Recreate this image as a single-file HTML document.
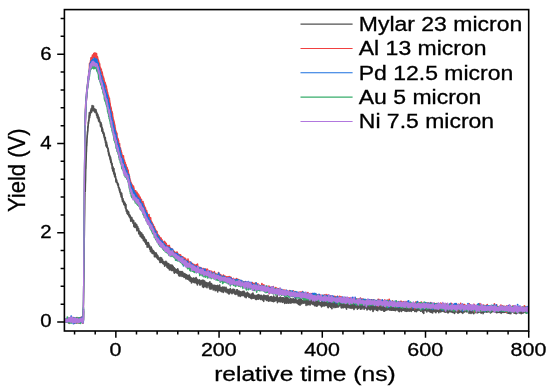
<!DOCTYPE html>
<html><head><meta charset="utf-8"><title>Yield vs relative time</title>
<style>html,body{margin:0;padding:0;background:#fff}svg{display:block}</style></head>
<body>
<svg width="550" height="392" viewBox="0 0 550 392" font-family="'Liberation Sans', sans-serif" fill="#000" stroke="#000" stroke-width="0.3">
<rect width="550" height="392" fill="#fff" stroke="none"/>
<clipPath id="c"><rect x="64.4" y="9.6" width="464.3" height="321.4"/></clipPath>
<g clip-path="url(#c)" fill="none" stroke-width="1.7" stroke-linejoin="round">
<path stroke="#515151" stroke-width="1.25" d="M83.4 311.2l.1-4.3 .1-7.2 .1-8.7 .1-6.2 .1-6.8 .1-6.9 .1-7.0 .1-9.1 .1-5.0 .1-11.1 .1-4.8 .1-7.8 .1-6.7 .1-5.4 .1-6.9 .1-9.2 .1-5.9"/>
<path stroke="#515151" d="M64.4 320.4l.1 .4 .1-.8 .1-.8 .1 .6 .1-.7 .1 1.4 .1 1.4 .1-2.1 .1-.2 .1 1.4 .1-.1 .1-.4 .1-1.3 .1 1.2 .1 .9 .1-2.4 .1 .9 .1-.9 .1 0 .1 0 .1 1.2 .1-1.2 .1 1.9 .1-.2 .1-.4 .1-1.3 .1 .8 .1 .6 .1 .2 .1-2.1 .1 1.4 .1-.7 .1 .2 .1 2.5 .1-2.4 .1 1.0 .1 1.1 .1-1.9 .1 .7 .1 .2 .1 0 .1-1.7 .1 1.7 .1 1.7 .1-3.8 .1 3.1 .1-.9 .1-1.0 .1 3.4 .1-1.6 .1-2.6 .1 1.7 .1 .6 .1-.9 .1 1.1 .1-1.0 .1 1.0 .1 1.0 .1-2.8 .1 1.2 .1-.9 .1 .8 .1-1.7 .1 .7 .1 .5 .1 1.5 .1 .3 .1-3.2 .1 .7 .1 1.8 .1-3.4 .1 2.0 .1 .5 .1 1.7 .1-.7 .1-1.3 .1-.1 .1 .2 .1 2.3 .1-2.6 .1 .2 .1 .9 .1-.7 .1-.1 .1-1.1 .1 1.4 .1-.6 .1 2.1 .1-.7 .1-.8 .1 .9 .1-1.3 .1 1.8 .1-1.4 .1 .8 .1-2.5 .1 2.2 .1-2.7 .1-.4 .1 2.2 .1-.8 .1 1.4 .1 2.7 .1-4.0 .1 .3 .1 1.1 .1 .3 .1-.8 .1-.1 .1 1.2 .1-.2 .1-2.0 .1 1.2 .1 .1 .1-1.4 .1 1.7 .1-1.4 .1 2.4 .1-1.0 .1-.2 .1-.9 .1 .6 .1-2.4 .1 1.1 .1 2.0 .1-3.3 .1 3.9 .1-3.4 .1 3.3 .1-2.1 .1 2.1 .1-.8 .1-2.2 .1 3.6 .1 .3 .1-2.0 .1-.3 .1 .2 .1-1.1 .1 2.7 .1-2.1 .1 .6 .1-.9 .1 .2 .1-.9 .1 3.3 .1-1.8 .1 1.5 .1-1.3 .1-.9 .1 .5 .1-.3 .1 .7 .1-.5 .1 .1 .1-1.4 .1 .8 .1 3.2 .1-3.1 .1-.5 .1 1.8 .1 1.4 .1-3.7 .1 1.6 .1-.5 .1-1.5 .1 3.3 .1-1.0 .1 .1 .1-1.1 .1 1.6 .1-1.3 .1 .5 .1-1.2 .1-.2 .1 3.3 .1-2.4 .1 1.1 .1-.4 .1-.6 .1-.1 .1 1.5 .1-1.2 .1 .2 .1 .2 .1 1.5 .1-.6 .1-.4 .1-1.2 .1-8.5"/>
<path stroke="#515151" d="M85.1 192.2l.1-1.1 .1-6.4 .1-2.5 .1-2.6 .1-6.7 .1-4.0 .1-.2 .1-3.4 .1-3.4 .1-2.5 .1-3.8 .1-3.5 .1-.6 .1-3.4 .1-3.0 .1 .8 .1-2.6 .1-1.2 .1-3.4 .1-1.1 .1-1.9 .1-1.2 .1 0 .1-2.6 .1 .2 .1-1.2 .1 1.0 .1-5.6 .1 1.9 .1-2.3 .1-.9 .1-2.7 .1 .4 .1 .7 .1-1.9 .1-.5 .1-1.2 .1 1.3 .1-2.1 .1-3.4 .1 1.4 .1-2.2 .1-2.2 .1 3.1 .1 1.9 .1-2.1 .1-2.0 .1-.2 .1 2.3 .1-1.6 .1-.6 .1-.5 .1-.2 .1 .7 .1-.6 .1-.8 .1-1.9 .1 1.8 .1-1.8 .1 2.1 .1-3.3 .1 1.3 .1 0 .1-1.9 .1 3.8 .1-.5 .1-2.7 .1 1.5 .1-.7 .1-4.0 .1 3.6 .1-.5 .1 0 .1-1.6 .1 1.0 .1 .1 .1 1.7 .1-1.2 .1-.4 .1 2.0 .1-2.7 .1 .3 .1-1.9 .1 4.5 .1-.7 .1 0 .1-.2 .1-.6 .1 .2 .1-.5 .1 .2 .1 .4 .1 2.1 .1-1.1 .1-.7 .1-.5 .1 0 .1 3.1 .1-1.3 .1-.4 .1-.5 .1-.8 .1 1.5 .1 1.4 .1-1.5 .1 .4 .1 .2 .1 .6 .1-2.0 .1 2.0 .1-.6 .1 2.5 .1-1.9 .1 1.9 .1 1.5 .1-2.1 .1-.2 .1 1.3 .1 0 .1-1.1 .1 2.2 .1 2.2 .1-2.7 .1 .3 .1-.8 .1 2.0 .1-1.8 .1 .4 .1 3.4 .1-2.6 .1 2.9 .1 .8 .1-1.4 .1 .7 .1 2.1 .1-2.6 .1-.2 .1-.7 .1 2.1 .1 2.1 .1-.4 .1-2.1 .1 .4 .1 .7 .1 1.3 .1-.3 .1 .8 .1 .4 .1-.5 .1 .7 .1 .6 .1-.1 .1 1.1 .1 2.1 .1-1.4 .1-.4 .1-1.9 .1 3.0 .1-2.8 .1 1.1 .1 3.2 .1 .1 .1-.8 .1-1.7 .1 2.1 .1-.1 .1 2.0 .1 2.5 .1-2.4 .1-.9 .1-.2 .1 1.8 .1 .2 .1-1.0 .1 2.0 .1-1.3 .1 3.3 .1 .3 .1 .4 .1-1.7 .1 1.6 .1-.5 .1 0 .1 .5 .1-.9 .1 .1 .1 3.3 .1-.9 .1 .9 .1 1.3 .1-3.2 .1 1.6 .1 1.6 .1 .7 .1-.7 .1 2.2 .1-.7 .1-1.4 .1 .7 .1 2.6 .1-.1 .1-2.7 .1 4.6 .1-.6 .1 1.3 .1-1.8 .1 .4 .1-.7 .1 5.1 .1-3.1 .1 2.6 .1-2.5 .1 1.4 .1-2.0 .1 2.0 .1 2.2 .1-2.6 .1 3.4 .1-.6 .1-1.4 .1 1.1 .1 .4 .1 .9 .1-.2 .1 0 .1 1.0 .1-.6 .1 .1 .1 2.0 .1 1.6 .1-2.8 .1 2.4 .1-.5 .1 0 .1 2.8 .1-1.4 .1 3.0 .1-2.6 .1 1.9 .1-.4 .1-.3 .1 2.1 .1-.6 .1 1.4 .1-.5 .1-.9 .1 1.7 .1 .5 .1 1.6 .1-2.0 .1 1.5 .1-1.8 .1 3.5 .1-1.9 .1-.6 .1 2.7 .1 1.9 .1-3.1 .1 1.0 .1 .8 .1-.1 .1 2.3 .1-1.1 .1 .5 .1 2.0 .1-1.3 .1 1.9 .1-1.5 .1 .1 .1-.4 .1 5.1 .1-2.4 .1 1.1 .1 0 .1 .6 .1 .2 .1 2.8 .1-3.5 .1-.3 .1 1.0 .1 0 .1 3.0 .1 .5 .1-2.0 .1-.2 .1 1.7 .1 2.6 .1-5.1 .1 4.7 .1-1.8 .1 3.1 .1-2.4 .1 1.4 .1-1.3 .1 1.1 .1 3.4 .1-.4 .1-1.3 .1-.2 .1-1.0 .1 2.2 .1 .9 .1 .2 .1 .3 .1-1.0 .1 1.7 .1 .4 .1 2.1 .1 1.1 .1-2.3 .1-.5 .1 1.2 .1-.4 .1 .2 .1 1.2 .1-.9 .1 2.4 .1-.6 .1 .8 .1-.2 .1-.4 .1 0 .1 1.3 .1-.1 .1 1.3 .1 0 .1-1.4 .1 2.1 .1-1.5 .1 1.3 .1 .7 .1-2.0 .1 3.1 .1 .4 .1-.1 .1 0 .1 .3 .1-.4 .1 1.2 .1-.1 .1 1.1 .1-1.3 .1 2.1 .1 .2 .1-.1 .1-.1 .1 1.6 .1-2.6 .1 3.1 .1 0 .1 .3 .1 .5 .1-1.1 .1 .8 .1 1.5 .1 0 .1 0 .1-2.0 .1 3.0 .1 1.1 .1 .1 .1-.7 .1-2.1 .1 3.6 .1-1.2 .1-2.8 .1 4.1 .1-2.1 .1 .5 .1 1.1 .1 2.8 .1-1.8 .1 1.1 .1 2.2 .1 .1 .1-2.0 .1 .1 .1-1.0 .1 1.0 .1 1.7 .1 .3 .1-.1 .1 1.4 .1-2.0 .1 1.2 .1 1.3 .1 .1 .1 .9 .1-.6 .1-.7 .1 1.2 .1-1.5 .1-.6 .1 3.1 .1-.5 .1 .7 .1-2.3 .1 2.0 .1-.1 .1-.1 .1-1.5 .1 2.7 .1 1.9 .1-.4 .1-1.1 .1 1.0 .1 1.3 .1-4.3 .1 3.6 .1 1.1 .1 .5 .1 1.5 .1-.5 .1-.8 .1 .2 .1 .9 .1-1.5 .1 .9 .1 1.4 .1 1.6 .1-2.5 .1 .3 .1 .6 .1 1.7 .1-1.6 .1 2.2 .1-3.0 .1 1.3 .1 .2 .1 1.4 .1 .6 .1-3.1 .1 .9 .1 1.9 .1-1.1 .1-1.0 .1 3.6 .1-.5 .1 .2 .1-1.1 .1 2.1 .1-1.4 .1 1.9 .1-2.4 .1 .3 .1 1.5 .1-1.0 .1 2.0 .1-.4 .1-1.3 .1 1.5 .1-.4 .1 1.8 .1-1.8 .1 .4 .1 2.3 .1 1.6 .1-.2 .1-2.3 .1 .4 .1 1.8 .1-1.9 .1-1.0 .1 1.6 .1 .6 .1-1.5 .1-.9 .1 .5 .1 2.9 .1-1.7 .1 1.0 .1 .6 .1 .7 .1-1.1 .1 1.2 .1-1.6 .1 .9 .1-.7 .1 2.9 .1-1.3 .1-.8 .1 .7 .1 .3 .1 1.4 .1-2.9 .1 .9 .1 1.0 .1 4.0 .1-1.9 .1-1.2 .1 1.2 .1 1.9 .1-2.8 .1 0 .1 2.2 .1-.8 .1 .4 .1-1.4 .1 3.3 .1-.1 .1-1.3 .1 .3 .1-3.4 .1 3.7 .1-1.0 .1 1.0 .1 .5 .1-1.2 .1-1.6 .1 2.8 .1-1.2 .1 .7 .1-.2 .1 .5 .1-2.4 .1 4.7 .1-1.1 .1 1.3 .1 1.3 .1-2.4 .1-2.2 .1 1.3 .1-.2 .1 1.0 .1 1.0 .1-2.6 .1 3.2 .1-2.2 .1 2.5 .1-.4 .1-.1 .1 .5 .1-.4 .1 0 .1-1.2 .1 2.3 .1 2.6 .1 .3 .1-.7 .1-.6 .1-1.6 .1 2.9 .1-1.8 .1 .1 .1-.1 .1 .7 .1-.6 .1 .7 .1-1.2 .1 1.1 .1 3.6 .1-2.9 .1 0 .1 1.1 .1 .4 .1-2.2 .1 1.3 .1 1.7 .1-.7 .1-.1 .1 2.1 .1-2.8 .1 1.2 .1-.7 .1 2.8 .1-4.3 .1 1.8 .1 .3 .1 1.8 .1 0 .1 1.2 .1-3.7 .1 3.2 .1-1.2 .1-.3 .1 1.7 .1-1.8 .1-1.3 .1 2.4 .1-1.4 .1 1.3 .1 1.5 .1 .1 .1 1.8 .1-2.2 .1-1.6 .1 1.2 .1-.1 .1-.2 .1 2.3 .1-1.3 .1-1.6 .1 3.7 .1-.9 .1 .7 .1-.2 .1 .9 .1-.7 .1 1.7 .1-.9 .1 .1 .1 .2 .1-2.3 .1 1.9 .1 0 .1 .7 .1-1.9 .1 4.1 .1-1.9 .1-1.6 .1-.5 .1 2.0 .1 .4 .1-.7 .1 1.2 .1-.8 .1 1.7 .1-1.5 .1 1.0 .1 1.5 .1 2.2 .1-4.5 .1 .8 .1-.3 .1 2.2 .1-2.3 .1 1.0 .1 .7 .1-1.1 .1 .2 .1 .7 .1-2.0 .1 1.0 .1 1.5 .1 .9 .1-.3 .1-1.9 .1 1.8 .1 1.8 .1-.2 .1-.7 .1-.9 .1 2.1 .1-1.4 .1-.6 .1 .6 .1 3.0 .1-1.4 .1 1.3 .1-2.0 .1 2.0 .1-1.9 .1 .8 .1 3.5 .1-2.1 .1-1.5 .1 .7 .1 .7 .1 1.3 .1-2.1 .1-1.5 .1 2.0 .1 .5 .1 .3 .1 1.7 .1-1.2 .1 .8 .1-2.3 .1 2.7 .1 1.7 .1-1.6 .1-.5 .1 0 .1 2.2 .1-3.4 .1 1.2 .1 .9 .1 .5 .1-1.4 .1 1.1 .1-.7 .1 .7 .1-.2 .1-1.2 .1 1.6 .1 1.3 .1-2.3 .1 1.1 .1 1.3 .1-2.1 .1 1.7 .1-1.5 .1 3.0 .1 1.6 .1-.2 .1-2.8 .1 1.4 .1-.7 .1 .1 .1 2.0 .1-3.6 .1 3.2 .1-1.3 .1 2.0 .1-1.5 .1-1.0 .1 1.4 .1 .7 .1-.8 .1 .7 .1-1.2 .1-2.0 .1 4.1 .1-.2 .1-.6 .1 0 .1 1.4 .1-1.8 .1-.2 .1 .7 .1 1.9 .1-3.2 .1 3.5 .1-2.3 .1-.5 .1 3.2 .1-1.7 .1-1.5 .1 1.4 .1 1.8 .1 .4 .1-2.0 .1 1.2 .1 .5 .1-1.7 .1 1.4 .1-.4 .1-.5 .1 .1 .1 .8 .1 .1 .1-.7 .1 .3 .1 2.1 .1-1.1 .1 1.0 .1 .5 .1-.8 .1 2.3 .1-3.9 .1 2.2 .1-1.4 .1 2.9 .1-.1 .1-4.6 .1 1.3 .1 2.2 .1 .3 .1 0 .1-1.0 .1 .8 .1 .4 .1-.9 .1 1.5 .1-4.2 .1 3.9 .1-2.1 .1 2.7 .1-1.5 .1-.8 .1 1.7 .1-1.5 .1 0 .1-.7 .1 2.1 .1 .7 .1 .8 .1-1.5 .1 1.7 .1-1.3 .1-.1 .1 1.0 .1 .7 .1-1.7 .1 .2 .1 .2 .1 .3 .1-1.2 .1 2.6 .1-1.7 .1 1.2 .1-1.6 .1 1.6 .1 .1 .1-1.0 .1 3.3 .1-2.1 .1 1.9 .1-1.0 .1-2.0 .1 .4 .1 1.1 .1-.4 .1 .1 .1-.4 .1-1.9 .1 2.1 .1-2.5 .1 3.5 .1-1.4 .1 .1 .1 .7 .1 .7 .1-2.1 .1-.4 .1 1.0 .1-1.2 .1 1.5 .1 3.4 .1-3.4 .1 2.3 .1-2.6 .1 2.3 .1-.8 .1 .4 .1 .9 .1 1.6 .1-1.9 .1-.1 .1-1.3 .1 2.1 .1-1.0 .1 1.4 .1-1.0 .1 2.3 .1-4.7 .1 2.2 .1 1.6 .1-1.5 .1-.5 .1 .7 .1-1.3 .1 2.0 .1 3.1 .1-1.7 .1-2.8 .1 .3 .1 .7 .1 1.9 .1-2.3 .1 .2 .1 2.1 .1 .1 .1-1.6 .1-.9 .1-.5 .1 1.2 .1-1.9 .1 3.9 .1-1.7 .1 1.5 .1 1.9 .1-.9 .1-2.9 .1 2.7 .1 .4 .1-2.4 .1-.2 .1 1.1 .1-1.8 .1 4.0 .1-5.0 .1 1.8 .1 1.1 .1 .2 .1 .5 .1 .2 .1-.5 .1 1.8 .1-4.2 .1 2.8 .1-.9 .1 1.2 .1 .2 .1-1.4 .1 .4 .1 1.9 .1-.5 .1-1.3 .1 3.6 .1 .4 .1-4.8 .1 2.3 .1 3.0 .1-2.2 .1-.7 .1-.5 .1-.4 .1 .5 .1-.3 .1 1.7 .1-1.4 .1 0 .1-.9 .1 1.5 .1-1.0 .1 1.0 .1 1.6 .1-.8 .1 .2 .1-.1 .1-.3 .1-.2 .1-.2 .1 1.5 .1-2.4 .1 3.2 .1-1.6 .1-1.0 .1 .4 .1-.1 .1 1.1 .1-1.1 .1 2.5 .1-2.4 .1-1.9 .1 2.1 .1-1.6 .1 2.6 .1 1.5 .1-.5 .1-2.5 .1 .8 .1 3.3 .1-1.8 .1-.4 .1 1.5 .1 1.8 .1-1.4 .1-1.4 .1 .3 .1 .4 .1-1.5 .1-.6 .1 1.5 .1-1.2 .1 1.2 .1 .3 .1 2.9 .1-4.0 .1 1.0 .1 0 .1 .8 .1 .9 .1-2.0 .1-.4 .1-1.0 .1 1.0 .1 2.0 .1-.6 .1-1.3 .1 .9 .1 .6 .1 .6 .1-1.3 .1 .5 .1-2.0 .1 .9 .1 3.7 .1-4.9 .1 2.4 .1 .8 .1-.7 .1-.5 .1 1.0 .1 .1 .1 0 .1-2.3 .1 2.3 .1-.8 .1 .4 .1 1.1 .1 .6 .1 .4 .1-1.8 .1 1.9 .1 .4 .1 0 .1 .4 .1-2.0 .1 .1 .1 1.3 .1-2.8 .1 2.1 .1-.9 .1 .3 .1-1.8 .1 1.2 .1 1.2 .1 1.2 .1 .2 .1-1.3 .1-.1 .1-.8 .1 1.7 .1-.8 .1 1.1 .1 1.6 .1-2.3 .1-1.9 .1 .9 .1-.7 .1 .4 .1 3.3 .1-1.4 .1-2.2 .1 2.9 .1 .8 .1-2.0 .1-.4 .1 .5 .1 .9 .1 .5 .1 .7 .1 .1 .1 .1 .1 .2 .1-.8 .1-2.8 .1 1.8 .1 .7 .1-.9 .1 1.7 .1-1.6 .1-.6 .1 3.1 .1-1.0 .1-.5 .1 1.0 .1 .2 .1-.9 .1-3.6 .1 2.4 .1 .3 .1-.6 .1 1.5 .1 1.4 .1-2.2 .1-.8 .1 4.2 .1-3.2 .1-.9 .1 1.9 .1 .3 .1-1.4 .1 2.0 .1-1.6 .1-.6 .1 1.5 .1 .8 .1-1.8 .1 1.3 .1-.5 .1 3.9 .1-4.6 .1 2.8 .1-1.8 .1-.1 .1 1.2 .1 .2 .1 .6 .1-1.2 .1-1.2 .1 .1 .1 1.4 .1 .2 .1 1.1 .1-1.3 .1 .9 .1 .7 .1-1.8 .1-2.1 .1 .5 .1-.3 .1 4.0 .1-3.2 .1 2.8 .1-.8 .1 1.5 .1-.9 .1-1.4 .1-.1 .1 .4 .1 .2 .1-.9 .1 .7 .1 2.2 .1-4.3 .1 2.6 .1-1.5 .1 1.5 .1 .8 .1-1.1 .1 1.1 .1-3.0 .1 3.5 .1-2.1 .1 1.6 .1-.5 .1-3.6 .1 2.4 .1 1.3 .1 1.8 .1-1.6 .1 0 .1-2.2 .1 3.8 .1 .5 .1-2.3 .1-.3 .1-1.8 .1 3.3 .1 2.4 .1-2.5 .1 .7 .1-.9 .1-1.9 .1 3.0 .1-3.3 .1 1.4 .1 .7 .1 .8 .1-.6 .1 0 .1-1.4 .1-.7 .1 1.8 .1-1.0 .1-.7 .1 .1 .1 1.0 .1-1.7 .1 .7 .1-.4 .1 2.4 .1 .4 .1 2.1 .1-4.6 .1 1.1 .1 2.1 .1-1.4 .1-.1 .1 2.7 .1-2.7 .1-1.0 .1-.2 .1 2.2 .1 0 .1-2.1 .1 .5 .1 2.0 .1 .1 .1-1.6 .1 1.7 .1 0 .1-3.0 .1 1.9 .1 1.0 .1-1.3 .1-2.0 .1 2.5 .1 1.4 .1 1.1 .1-4.9 .1 6.3 .1-4.9 .1 2.8 .1 .4 .1-.3 .1-1.1 .1-1.6 .1 2.3 .1-1.7 .1-2.3 .1 7.0 .1-2.8 .1 1.5 .1-3.5 .1 3.1 .1 .2 .1 0 .1-2.0 .1-1.5 .1 1.3 .1-2.6 .1 .7 .1 2.4 .1-1.4 .1 1.1 .1 .1 .1 2.7 .1-.8 .1-1.7 .1 1.7 .1-2.6 .1 .6 .1 1.7 .1-2.8 .1 1.3 .1-1.3 .1 1.9 .1 2.0 .1-3.1 .1 1.3 .1-1.4 .1-.3 .1-.1 .1 3.5 .1 1.2 .1-2.4 .1-1.5 .1 1.9 .1-1.4 .1 1.5 .1-.6 .1 0 .1 .5 .1-1.5 .1 .2 .1-1.6 .1 1.6 .1-1.2 .1 1.7 .1-1.0 .1 1.4 .1 .5 .1-2.4 .1 .8 .1-.2 .1 2.3 .1 1.3 .1-1.1 .1-1.6 .1 2.4 .1-3.8 .1 3.9 .1-2.7 .1-2.8 .1 7.1 .1-1.3 .1-3.4 .1 1.6 .1-.5 .1 .5 .1-2.0 .1 1.0 .1 1.6 .1-.3 .1 1.3 .1-1.5 .1 3.0 .1-3.9 .1 1.3 .1-2.8 .1 .9 .1 3.4 .1-3.0 .1 2.0 .1-.8 .1-1.2 .1 .9 .1-.2 .1 .1 .1 1.7 .1-.1 .1-1.6 .1-.4 .1 1.6 .1-.5 .1 1.5 .1 2.1 .1-2.3 .1-1.1 .1-.1 .1-.9 .1 0 .1-.1 .1 .8 .1 0 .1 1.5 .1-1.4 .1 .3 .1-1.3 .1 3.7 .1-1.4 .1 1.7 .1-1.3 .1 1.0 .1-2.3 .1 1.3 .1 2.6 .1-5.0 .1 3.1 .1 .7 .1-1.6 .1 .5 .1 .7 .1-2.5 .1 1.4 .1-1.7 .1 .3 .1 .1 .1 .7 .1 .4 .1 .4 .1-2.4 .1 4.5 .1-1.0 .1-.6 .1-1.4 .1 .4 .1 .9 .1-.2 .1-2.7 .1 3.2 .1 3.0 .1-6.4 .1 3.9 .1-.8 .1-.7 .1 2.1 .1-3.4 .1 1.8 .1 1.8 .1-2.2 .1-.3 .1 .8 .1-.8 .1 2.7 .1-3.2 .1 2.4 .1-2.8 .1 2.6 .1-1.0 .1-3.3 .1 3.5 .1-1.4 .1 .8 .1 2.7 .1-3.5 .1 .1 .1 3.4 .1-1.8 .1 2.0 .1-1.6 .1-1.6 .1 1.1 .1 1.8 .1-.4 .1-1.2 .1 .1 .1-.2 .1-.6 .1 3.4 .1-2.6 .1-1.5 .1 .9 .1 1.7 .1-.1 .1-1.0 .1-.7 .1 .9 .1-2.2 .1 .5 .1 2.9 .1-1.7 .1 1.2 .1 1.1 .1-.7 .1-.8 .1 2.8 .1-1.9 .1-1.4 .1 1.5 .1-.4 .1-1.6 .1 1.2 .1-.3 .1-2.4 .1 2.5 .1-.1 .1-.2 .1-1.6 .1 1.7 .1 .5 .1 .2 .1-1.6 .1 2.4 .1-2.5 .1 1.4 .1 2.0 .1-2.6 .1 .3 .1 2.1 .1-1.9 .1 .1 .1 .7 .1 1.2 .1-4.3 .1 1.8 .1-.2 .1-.1 .1 .4 .1 0 .1 1.6 .1-1.6 .1 1.4 .1 .4 .1-1.5 .1 1.2 .1 2.0 .1-1.7 .1-1.3 .1 .8 .1-1.1 .1 1.6 .1 .8 .1-2.2 .1 .8 .1 1.8 .1-2.1 .1 .9 .1-1.6 .1 .3 .1 .5 .1 3.5 .1-3.3 .1-.2 .1 0 .1 .5 .1 1.1 .1-.5 .1 2.4 .1-2.4 .1 1.7 .1-1.5 .1 .4 .1-2.6 .1 1.7 .1 .1 .1-.2 .1-2.5 .1 4.0 .1-1.6 .1-.1 .1 .3 .1 .1 .1 .8 .1-2.1 .1 .4 .1 1.6 .1-.1 .1-.7 .1-.2 .1-.3 .1 1.0 .1 1.6 .1-2.9 .1 3.4 .1-.8 .1-1.7 .1 1.6 .1-2.9 .1-.3 .1 .6 .1 1.2 .1 .1 .1-.2 .1 .8 .1-2.9 .1 3.4 .1-2.4 .1 1.0 .1 .3 .1-.9 .1-.3 .1 .5 .1 1.3 .1 .8 .1 0 .1-2.0 .1 .3 .1-.1 .1 1.8 .1-3.2 .1 4.2 .1-2.2 .1-.3 .1 1.4 .1 1.0 .1-.9 .1 .9 .1-1.1 .1 1.4 .1 0 .1-1.7 .1 2.0 .1-1.6 .1-.1 .1-1.3 .1 .9 .1 1.4 .1-2.7 .1 2.6 .1-.4 .1-.1 .1-3.2 .1 2.8 .1 1.0 .1-1.8 .1 1.1 .1-3.2 .1 4.0 .1-1.7 .1 2.0 .1-3.5 .1 3.3 .1-1.2 .1 1.4 .1-2.2 .1 .4 .1 3.7 .1-4.0 .1 .2 .1 .6 .1-.9 .1 2.9 .1 .7 .1-3.2 .1-1.3 .1 3.8 .1 0 .1-.4 .1 .5 .1-2.7 .1 1.0 .1-1.6 .1 0 .1 3.1 .1-2.1 .1 3.9 .1-2.9 .1-.9 .1 1.9 .1 1.3 .1-1.7 .1-2.2 .1 2.1 .1 1.4 .1-2.5 .1-.3 .1 2.4 .1-1.2 .1-1.6 .1 1.0 .1-.5 .1 1.4 .1-.2 .1 1.4 .1-.6 .1-2.9 .1 2.6 .1 .6 .1-.5 .1 .7 .1-2.0 .1-.5 .1 2.5 .1-2.6 .1-1.4 .1 4.2 .1-2.3 .1 .6 .1-1.4 .1 .1 .1 .2 .1 1.1 .1 1.0 .1-3.5 .1 4.0 .1-2.5 .1 .2 .1 2.3 .1-1.0 .1-1.9 .1 4.4 .1-3.5 .1 1.5 .1 0 .1 1.6 .1-2.5 .1 2.0 .1-2.3 .1 2.5 .1-2.5 .1 .6 .1 2.9 .1-2.0 .1-.2 .1 2.7 .1-2.4 .1-1.5 .1 2.0 .1-2.4 .1 3.0 .1 .1 .1-2.3 .1 0 .1 1.0 .1-.1 .1-1.3 .1 2.0 .1-3.4 .1 2.2 .1 0 .1 .2 .1 .8 .1-2.0 .1 2.4 .1-1.0 .1-.6 .1-.9 .1 .3 .1 2.0 .1-1.7 .1 1.4 .1 1.3 .1 0 .1 .7 .1-2.4 .1-1.0 .1 2.7 .1-.9 .1 1.1 .1-1.4 .1 1.5 .1-.4 .1-.2 .1-.2 .1-.1 .1-.2 .1 0 .1 1.0 .1-1.9 .1 2.9 .1-2.4 .1 1.5 .1-1.4 .1-.2 .1 3.0 .1-3.0 .1-1.3 .1 .8 .1 .5 .1 3.3 .1-2.6 .1 1.0 .1-2.5 .1 1.8 .1 .4 .1 1.5 .1-3.2 .1 1.7 .1-.4 .1-1.7 .1 1.3 .1-.2 .1-2.7 .1 3.8 .1 0 .1-1.3 .1-1.2 .1 3.7 .1-1.5 .1 1.0 .1 .5 .1-2.5 .1 1.8 .1-1.4 .1 .3 .1-.1 .1 .2 .1 1.4 .1-1.2 .1-.4 .1-.1 .1 .8 .1-1.6 .1 .6 .1 .6 .1-.7 .1 .6 .1-.6 .1 3.4 .1-.9 .1-1.1 .1-.6 .1 2.9 .1-2.4 .1-.5 .1 .5 .1 0 .1 1.5 .1-1.9 .1 2.8 .1-3.8 .1 2.0 .1-2.2 .1 3.7 .1-2.8 .1 .4 .1 1.3 .1 .5 .1-3.1 .1 1.0 .1-1.3 .1 2.0 .1-.3 .1-.3 .1-.5 .1 .4 .1-.4 .1 1.7 .1 1.3 .1-4.5 .1 2.4 .1-.4 .1 1.2 .1-1.9 .1 1.1 .1-1.2 .1 2.3 .1-.7 .1-.4 .1 .7 .1-.7 .1-1.7 .1 2.8 .1-.4 .1-.6 .1 1.5 .1 .3 .1-2.9 .1 .4 .1 3.0 .1-.1 .1-2.8 .1-.6 .1 .7 .1 .2 .1-1.4 .1 2.1 .1-1.6 .1 .1 .1 2.7 .1-2.0 .1 .8 .1 .9 .1 .3 .1-1.5 .1 .5 .1-1.1 .1 3.3 .1-1.4 .1-2.3 .1 1.5 .1 .9 .1-.3 .1 1.8 .1-.6 .1-2.4 .1 .6 .1-1.6 .1 2.0 .1-.1 .1 3.3 .1-3.3 .1-2.9 .1 1.9 .1 1.0 .1-1.7 .1 .5 .1 .6 .1 1.0 .1-.7 .1-.9 .1 2.2 .1-1.7 .1 0 .1-1.1 .1 .8 .1 1.9 .1-3.0 .1 2.1 .1 1.0 .1-1.4 .1 .8 .1-1.8 .1 3.2 .1-.2 .1-1.2 .1-2.5 .1 .9 .1 2.6 .1 1.0 .1-1.8 .1 1.2 .1-2.4 .1 .6 .1 .2 .1 .6 .1-2.5 .1 3.2 .1 .5 .1-3.2 .1-.2 .1 2.2 .1-1.3 .1-2.2 .1 4.1 .1-.8 .1-.8 .1 3.3 .1-2.5 .1-1.2 .1 1.2 .1-1.5 .1 .4 .1 1.5 .1-1.2 .1 .1 .1 2.8 .1-1.1 .1 0 .1-.4 .1 0 .1 1.2 .1-1.9 .1 2.5 .1-3.6 .1 .9 .1-1.5 .1 1.4 .1 1.1 .1 1.2 .1-2.7 .1 .9 .1-.5 .1-.5 .1-.5 .1 1.6 .1-2.3 .1 2.4 .1-.1 .1-.9 .1-.4 .1-.5 .1 4.2 .1-4.1 .1 3.7 .1-1.2 .1-1.2 .1-1.1 .1 2.9 .1 .9 .1-3.4 .1 .8 .1 1.8 .1-1.0 .1 2.2 .1-3.3 .1 1.4 .1-2.3 .1 4.4 .1-3.7 .1-1.9 .1 2.7 .1 0 .1 2.7 .1-2.9 .1 .4 .1 .8 .1 1.3 .1-2.1 .1 1.4 .1-.6 .1-1.1 .1 .5 .1 0 .1-1.3 .1 2.8 .1-3.3 .1 3.3 .1-.3 .1-1.3 .1-.9 .1 .7 .1 .9 .1 .4 .1-.6 .1 .9 .1-2.0 .1 1.1 .1-2.4 .1 3.1 .1-.8 .1-.7 .1 2.0 .1-.6 .1-4.5 .1 3.7 .1-1.9 .1 3.3 .1 1.8 .1-3.9 .1 .8 .1-.4 .1 .8 .1 .4 .1 .8 .1-2.9 .1 3.3 .1-3.2 .1 1.6 .1 1.1 .1-.6 .1-2.1 .1 .3 .1 .3 .1 .6 .1 1.6 .1-3.2 .1 2.3 .1 .2 .1-.1 .1-.1 .1 1.4 .1-1.3 .1 .5 .1-.4 .1 1.6 .1-4.8 .1 4.1 .1-1.9 .1-.1 .1-.8 .1-1.2 .1 1.9 .1-.4 .1 1.6 .1-2.6 .1 3.8 .1-1.5 .1-.6 .1-.6 .1-.1 .1-.4 .1 .7 .1 .7 .1-.2 .1-1.6 .1 1.5 .1-.8 .1 1.4 .1 2.2 .1-1.6 .1-1.2 .1-1.7 .1 .3 .1-.3 .1 3.1 .1-1.9 .1 1.1 .1-.9 .1 .9 .1 1.7 .1-2.7 .1 .5 .1-.6 .1 2.2 .1-2.5 .1-.1 .1-.3 .1-.1 .1 2.5 .1 2.7 .1-4.6 .1 2.6 .1-.9 .1-1.8 .1 1.1 .1 0 .1-.5 .1 3.4 .1-5.0 .1 3.0 .1-.1 .1-1.1 .1 .9 .1 1.0 .1-1.0 .1 .4 .1 .4 .1-3.6 .1 4.6 .1 1.0 .1-1.6 .1 0 .1-3.1 .1 1.7 .1-.9 .1 .3 .1 2.0 .1-2.3 .1 .9 .1-2.3 .1 2.3 .1 .3 .1-1.0 .1 0 .1 3.4 .1-4.0 .1 .2 .1 .3 .1 2.6 .1 1.2 .1-2.3 .1-1.3 .1 .3 .1 2.0 .1-2.6 .1 3.1 .1 0 .1-1.8 .1 .8 .1 .1 .1 1.1 .1-3.4 .1 2.9 .1-2.0 .1-.5 .1 1.2 .1-.4 .1-1.0 .1-.8 .1 .8 .1 3.2 .1 .6 .1-1.7 .1 .7 .1-2.2 .1 .6 .1 .5 .1-1.8 .1 .2 .1 1.4 .1-.6 .1-.9 .1 1.9 .1-.8 .1 1.6 .1-1.3 .1-.4 .1 .6 .1-.4 .1-.6 .1 .3 .1 1.5 .1-.1 .1 .9 .1-3.9 .1 1.7 .1 0 .1 .8 .1-.9 .1 0 .1 1.7 .1-.8 .1-1.7 .1 3.2 .1-.4 .1-2.0 .1 1.8 .1-2.0 .1 2.4 .1-1.7 .1-.8 .1 .6 .1-.5 .1 1.2 .1 0 .1-.2 .1-.7 .1-4.0 .1 4.9 .1-2.6 .1 2.8 .1 1.1 .1-1.1 .1-.8 .1 .3 .1 0 .1-.5 .1 0 .1-.5 .1 2.8 .1-1.6 .1 1.3 .1-1.6 .1 .5 .1-.3 .1 .8 .1 .5 .1-.8 .1-1.2 .1-.1 .1 3.2 .1-2.5 .1 0 .1 2.3 .1-.5 .1-.7 .1-1.2 .1 3.6 .1-2.6 .1 .2 .1-.9 .1-1.6 .1 .1 .1 2.3 .1 0 .1-.8 .1-1.2 .1-.4 .1 1.5 .1-1.5 .1 3.1 .1 .3 .1 2.2 .1-2.5 .1-1.9 .1-.3 .1-3.4 .1 3.7 .1 .6 .1 1.5 .1-.5 .1 0 .1-.5 .1 .6 .1 1.1 .1-3.3 .1 .8 .1-1.2 .1 3.9 .1-.4 .1-.7 .1-2.5 .1 1.8 .1-.5 .1 .4 .1-.4 .1 1.0 .1-1.2 .1 1.6 .1-.8 .1-.7 .1 .3 .1-.4 .1 1.6 .1-1.4 .1 .8 .1-.9 .1-1.4 .1 3.1 .1-2.6 .1 2.3 .1-.3 .1-2.7 .1 .9 .1 .6 .1-.4 .1-.5 .1 2.6 .1-1.3 .1 .8 .1-1.0 .1 .9 .1-1.3 .1 .9 .1 .8 .1-.7 .1-.6 .1-.8 .1 1.6 .1 .3 .1-.8 .1-.7 .1 1.7 .1 2.6 .1-3.6 .1 .8 .1 .1 .1-3.8 .1 3.5 .1-1.1 .1 2.7 .1-2.1 .1-.7 .1 .8 .1 .5 .1-1.0 .1 .7 .1-1.7 .1 1.5 .1 1.3 .1 1.6 .1-1.7 .1-.5 .1 1.2 .1-.2 .1 .8 .1-.7 .1-1.6 .1 .5 .1-.1 .1 .2 .1-.1 .1-1.3 .1-1.7 .1 1.9 .1-1.8 .1 2.8 .1-.1 .1-2.2 .1 3.1 .1 .2 .1-1.0 .1 2.1 .1 .3 .1-4.0 .1 2.9 .1-.8 .1 0 .1 .7 .1-2.1 .1 .1 .1-.3 .1 .1 .1 .9 .1-1.7 .1 .5 .1 2.1 .1-.8 .1 .6 .1-3.0 .1 1.5 .1 .3 .1 .8 .1-.8 .1 2.0 .1-1.3 .1 .1 .1 0 .1 .9 .1-1.5 .1 2.1 .1-.9 .1-.4 .1-.1 .1 .6 .1 .7 .1-.1 .1-.7 .1 .6 .1-1.0 .1 1.5 .1-1.6 .1-2.7 .1 4.5 .1-1.6 .1-1.7 .1 1.3 .1-.9 .1 3.9 .1-2.1 .1-2.7 .1 2.8 .1-1.2 .1 3.0 .1-3.8 .1-1.6 .1 3.0 .1-.5 .1-.1 .1-2.2 .1 3.3 .1 1.7 .1-4.7 .1 4.0 .1-2.2 .1 3.8 .1-2.5 .1-.8 .1 1.7 .1-.7 .1-1.5 .1 1.7 .1-1.6 .1-1.6 .1 5.0 .1-3.1 .1-.4 .1 1.3 .1-2.5 .1 .3 .1 1.1 .1 0 .1 .8 .1 1.4 .1-2.1 .1 1.3 .1 .1 .1-2.2 .1 1.7 .1-1.5 .1 2.6 .1-.7 .1-.6 .1-1.8 .1 2.0 .1-1.2 .1 1.9 .1-1.0 .1-.9 .1 2.2 .1-.2 .1-1.7 .1 2.3 .1-1.9 .1 0 .1 .6 .1-1.2 .1 .4 .1 .4 .1 2.2 .1 0 .1-2.3 .1 2.5 .1-2.2 .1 .6 .1 .6 .1-.7 .1 2.8 .1-2.9 .1-1.8 .1 3.2 .1-2.2 .1 .2 .1-3.5 .1 5.2 .1-.3 .1 0 .1 .3 .1 .9 .1-2.2 .1 1.2 .1-2.1 .1 .5 .1 1.8 .1-.8 .1-2.3 .1 2.3 .1-.7 .1-.9 .1 1.7 .1-1.1 .1-1.5 .1 .6 .1 3.7 .1-4.2 .1 2.3 .1 .5 .1 0 .1-2.4 .1 1.2 .1 .6 .1 .9 .1-1.9 .1-.7 .1 2.8 .1 .2 .1-1.0 .1-1.2 .1 1.3 .1-.4 .1 1.0 .1-2.7 .1 1.8 .1-.4 .1-1.2 .1 1.7 .1-.2 .1-.6 .1 1.1 .1-2.4 .1 1.8 .1 .7 .1-.2 .1 1.0 .1-2.9 .1-.4 .1 2.2 .1 .3 .1 2.2 .1-1.9 .1-2.0 .1 2.2 .1-2.1 .1-.8 .1 5.3 .1-3.0 .1 .6 .1-.2 .1 1.6 .1-2.0 .1 1.2 .1-2.9 .1-.4 .1 3.6 .1 .1 .1-1.2 .1-.4 .1-.1 .1-1.1 .1 2.9 .1-1.1 .1-.2 .1-.2 .1 .9 .1-.7 .1 .4 .1-2.5 .1 2.2 .1 2.2 .1-3.6 .1 .6 .1 1.3 .1 .1 .1-.4 .1-2.9 .1 2.7 .1-2.2 .1 .5 .1 1.8 .1-1.1 .1 1.5 .1 3.0 .1-3.1 .1 0 .1-2.1 .1 .3 .1-.5 .1 .7 .1-.7 .1 .5 .1 .6 .1-1.0 .1-.5 .1 0 .1 2.4 .1-.5 .1 1.3 .1 0 .1-1.8 .1 1.3 .1-2.7 .1 4.8 .1-1.4 .1-1.8 .1-1.2 .1 2.0 .1-2.9 .1 1.4 .1 2.0 .1-.9 .1-.7 .1 1.9 .1-2.6 .1 1.7 .1-1.0 .1-.4 .1 1.7 .1-1.9 .1 3.8 .1-3.2 .1 3.3 .1-4.0 .1 2.2 .1-2.3 .1-.2 .1 2.0 .1 .7 .1-2.6 .1 3.2 .1-2.5 .1 1.2 .1 .3 .1 .3 .1-3.1 .1 4.4 .1-1.3 .1-1.3 .1-.8 .1-.8 .1 .4 .1 2.5 .1-1.1 .1-1.1 .1 .8 .1 2.7 .1-2.4 .1-.3 .1 2.5 .1-1.2 .1-.5 .1-.8 .1-1.2 .1 .5 .1 .9 .1 .3 .1 .8 .1 .2 .1-.4 .1 0 .1-1.6 .1-1.5 .1 2.2 .1-.6 .1 .4 .1 .5 .1-1.2 .1 .1 .1 1.4 .1 .2 .1-1.0 .1 1.6 .1-1.0 .1-1.0 .1 1.4 .1 2.4 .1-3.3 .1 2.4 .1 .3 .1 .1 .1-3.0 .1 3.7 .1-2.5 .1-.4 .1 0 .1 1.1 .1-.7 .1-.3 .1 1.9 .1-2.6 .1-.4 .1 2.4 .1-.1 .1 .5 .1-2.8 .1 2.8 .1-.8 .1 1.7 .1-3.9 .1 1.9 .1-.6 .1-1.7 .1 1.1 .1 2.4 .1-2.1 .1-.3 .1 2.1 .1 .1 .1 0 .1-2.3 .1 1.0 .1 1.4 .1-2.2 .1-.1 .1 2.1 .1 .9 .1-3.5 .1-1.9 .1 1.5 .1 .6 .1 1.2 .1 1.0 .1-1.0 .1-.7 .1 1.1 .1-1.5 .1 1.2 .1-.7 .1 4.3 .1-2.4 .1-2.2 .1-.2 .1 .8 .1-1.6 .1 1.2 .1 0 .1 2.1 .1-1.7 .1-.5 .1-.7 .1 .2 .1 1.5 .1-.2 .1 1.8 .1-2.3 .1 2.2 .1-1.0 .1-.4 .1-2.6 .1 1.0 .1 2.6 .1 .9 .1-1.6 .1 .8 .1-1.6 .1 .1 .1-.4 .1 2.2 .1-.9 .1-.7 .1-.1 .1 1.1 .1-.3 .1-1.5 .1 3.4 .1-1.9 .1-.3 .1 1.9 .1-.6 .1-1.4 .1 .8 .1-2.1 .1 .6 .1-2.1 .1 4.5 .1-4.1 .1 3.4 .1-2.0 .1-.1 .1 1.0 .1 .6 .1 .4 .1 1.6 .1-1.9 .1 .7 .1-1.9 .1 1.7 .1-.7 .1-.8 .1 .5 .1 0 .1 .4 .1 .2 .1-1.1 .1-.3 .1 1.9 .1-3.2 .1 1.4 .1 2.9 .1-5.6 .1 2.7 .1 1.8 .1-3.1 .1 5.6 .1-6.8 .1 5.3 .1 .1 .1-.8 .1-1.5 .1 .8 .1-1.6 .1 2.2 .1-2.5 .1 1.1 .1 1.7 .1-2.8 .1 1.0 .1 .7 .1-2.0 .1 3.3 .1-1.1 .1-2.4 .1 1.9 .1-.9 .1 .2 .1 .9 .1-1.0 .1 2.2 .1-2.2 .1 2.2 .1-1.3 .1 1.2 .1-1.8 .1 0 .1-.8 .1 2.2 .1 .5 .1 1.6 .1-1.1 .1-1.4 .1-.6 .1 .8 .1-.5 .1 1.9 .1-.6 .1-2.3 .1 .2 .1 2.6 .1-1.3 .1-.7 .1 1.8 .1-2.0 .1 .1 .1-.2 .1-1.9 .1 3.6 .1-2.7 .1 .9 .1-.2 .1 1.9 .1-1.0 .1 .1 .1-2.2 .1 2.0 .1-1.7 .1 2.3 .1 .1 .1-.5 .1 2.7 .1-2.0 .1 .1 .1-.6 .1-.4 .1 1.5 .1 .2 .1-3.2 .1 3.1 .1-.7 .1 .6 .1-.6 .1-2.2 .1 0 .1 4.0 .1-2.1 .1-2.2 .1 2.4 .1-1.0 .1-1.9 .1-.6 .1 .9 .1 2.5 .1-.4 .1-.3 .1 .7 .1 .4 .1-3.5 .1 2.4 .1-.7 .1-.5 .1 .9 .1 .5 .1-.2 .1-1.5 .1 1.3 .1 3.2 .1-4.0 .1-.8 .1 2.6 .1 .4 .1-.2 .1-2.0 .1 2.8 .1-2.4 .1-.4 .1 .7 .1 .6 .1 1.1 .1-.1 .1-.8 .1 1.2 .1-1.1 .1 1.1 .1-3.0 .1-.2 .1 3.0 .1-2.8 .1 1.5 .1 .2 .1-.5 .1 .1 .1 2.4 .1-5.1 .1 4.4 .1 1.9 .1-3.0 .1 0 .1 .9 .1 1.5 .1-3.9 .1 1.6 .1-.3 .1 1.0 .1-.6 .1 .7 .1-1.4 .1 .6 .1-.9 .1 0 .1 .7 .1 0 .1-1.3 .1 3.5 .1-2.2 .1-1.6 .1 3.2 .1-2.4 .1 1.7 .1-.7 .1 .4 .1-.1 .1-1.0 .1 .8 .1 2.6 .1-5.5 .1 3.0 .1 .4 .1-1.9 .1-.4 .1 4.6 .1-3.3 .1 3.2 .1-2.0 .1-.6 .1 .5 .1 .2 .1 .8 .1-1.0 .1-.4 .1 .1 .1 1.5 .1-.7 .1-2.3 .1 .4 .1 1.3 .1-1.2 .1 .3 .1-.8 .1 1.0 .1 .9 .1 .7 .1-1.3 .1 2.7 .1-2.8 .1 4.3 .1-2.9 .1-.6 .1-1.3 .1-3.0 .1 3.5 .1 .4 .1 2.3 .1-4.3 .1 4.3 .1-2.8 .1 1.2 .1-4.2 .1 3.5 .1-.6 .1 1.3 .1-.8 .1-1.6 .1 2.8 .1-.4 .1-.1 .1 .6 .1 .1 .1-1.5 .1-1.7 .1 0 .1 3.5 .1-.8 .1-.8 .1-.7 .1 .6 .1 0 .1-.4 .1-.5 .1 3.7 .1-2.5 .1-1.1 .1-.9 .1 .8 .1 1.9 .1 0 .1-1.2 .1 .3 .1-.4 .1-1.1 .1 3.2 .1-1.2 .1 2.7 .1-4.2 .1 .8 .1 1.4 .1-1.5 .1-1.5 .1 .6 .1 1.4 .1 .3 .1-.6 .1 1.4 .1 0 .1-.8 .1-.4 .1-.4 .1 1.1 .1 .5 .1-1.1 .1 .5 .1-1.0 .1-1.4 .1 .5 .1 2.3 .1-.4 .1 1.5 .1-2.0 .1 1.1 .1 .6 .1-.5 .1-2.0 .1 .5 .1 .4 .1-1.4 .1 1.9 .1 .7 .1-2.0 .1 3.2 .1-2.9 .1 .1 .1 0 .1-.6 .1 1.4 .1-.5 .1 2.2 .1-1.4 .1-.1 .1-1.0 .1-1.5 .1 1.7 .1-1.0 .1 2.4 .1-1.3 .1 2.2 .1-1.2 .1 .2 .1-.8 .1 0 .1 .5 .1 .4 .1-2.1 .1 1.5 .1 2.8 .1-3.5 .1-.2 .1-.6 .1-1.0 .1 3.5 .1-1.5 .1 .3 .1 2.0 .1 .9 .1-4.4 .1 2.5 .1-.5 .1-.3 .1 .1 .1-.6 .1 2.1 .1-1.3 .1-.4 .1 1.2 .1-.4 .1-.6 .1-.2 .1 1.9 .1-1.6 .1-.8 .1-1.0 .1 .7 .1-.9 .1 1.5 .1 .2 .1-3.0 .1 2.7 .1 .8 .1-.6 .1-1.5 .1 2.9 .1-2.5 .1-.7 .1 .2 .1 1.4 .1 1.3 .1 .2 .1-1.2 .1-1.8 .1 .7 .1-.3 .1 .9 .1-2.1 .1 2.5 .1 .7 .1-1.0 .1 .8 .1-1.9 .1-.6 .1 1.0 .1 2.4 .1-.2 .1-1.9 .1 2.2 .1-2.0 .1 2.4 .1-1.4 .1-1.2 .1 1.7 .1-2.1 .1-.2 .1-.7 .1 2.3 .1-.4 .1-.1 .1-.4 .1 2.4 .1-2.4 .1-.4 .1 2.6 .1 .2 .1-1.4 .1-2.7 .1 1.5 .1 1.6 .1-.8 .1 2.0 .1-3.8 .1 2.7 .1-1.7 .1 2.5 .1-1.8 .1 1.5 .1-2.2 .1-1.0 .1 .4 .1 .7 .1-.6 .1 2.9 .1 .2 .1-1.4 .1-1.7 .1 1.2 .1-.7 .1 2.8 .1-1.5 .1 .2 .1-1.1 .1-2.1 .1 1.6 .1-.4 .1 1.9 .1-.4 .1-1.1 .1 .5 .1 2.6 .1-3.3 .1 0 .1 .9 .1-.6 .1 .4 .1 1.2 .1 1.6 .1-4.6 .1 2.3 .1 .1 .1-.1 .1-.2 .1-.2 .1 1.8 .1-1.9 .1 .4 .1 .2 .1 .1 .1-.3 .1 1.5 .1-1.3 .1 .2 .1-.2 .1-1.3 .1 .3 .1-.3 .1 1.6 .1-1.2 .1-.4 .1 1.7 .1 .3 .1-2.9 .1 4.5 .1-2.2 .1-.2 .1 1.6 .1-1.3 .1-.9 .1 3.6 .1-4.2 .1 1.3 .1 1.2 .1-2.5 .1 1.3 .1 .6 .1 2.6 .1-4.2 .1 1.1 .1 .9 .1-.8 .1-1.6 .1 2.1 .1-.4 .1 .4 .1 .9 .1-.1 .1-.8 .1-.1 .1-1.9 .1 1.3 .1 .5 .1-.8 .1 .6 .1-1.2 .1 3.1 .1 .8 .1-3.3 .1 1.0 .1-.8 .1 2.0 .1-1.1 .1-.5 .1-.4 .1 .5 .1-1.5 .1 2.2 .1-1.8 .1 1.6 .1-.5 .1 1.3 .1-1.5 .1 1.4 .1-2.5 .1 2.0 .1-1.1 .1 .5 .1-.1 .1 1.1 .1-3.8 .1 3.0 .1-2.3 .1 3.5 .1-4.2 .1 1.3 .1-.9 .1 4.3 .1-3.8 .1 1.9 .1-.9 .1-1.6 .1 1.9 .1 1.3 .1-1.1 .1 1.5 .1-1.7 .1 .5 .1-.5 .1 .9 .1 2.0 .1-2.0 .1-.2 .1-1.0 .1-.2 .1 2.9 .1-3.4 .1 .3 .1 1.1 .1-.5 .1 3.1 .1-5.6 .1 3.6 .1 .4 .1-2.3 .1 .6 .1 1.4 .1 1.5 .1-3.3 .1-.8 .1 3.3 .1 .7 .1-2.4 .1-2.4 .1 4.7 .1-2.1 .1 1.7 .1-1.5 .1-.4 .1-.1 .1 2.5 .1-.1 .1-4.6 .1 1.6 .1 3.5 .1-2.8 .1-1.3 .1 1.8 .1-.2 .1 .1 .1-.5 .1 .2 .1-.2 .1 1.0 .1-1.5 .1 .7 .1 .2 .1 1.9 .1-1.2 .1-.6 .1 .8 .1-.1 .1 .8 .1-.7 .1 1.7 .1-.6 .1-1.8 .1-.5 .1 1.7 .1-.5 .1-.8 .1-1.8 .1-.4 .1 2.8 .1 .6 .1 0 .1-2.7 .1 3.0 .1-2.0 .1 1.2 .1 0 .1-1.6 .1 .3 .1-1.9 .1 1.5 .1-1.1 .1 2.9 .1-.5 .1 1.1 .1-.7 .1-1.3 .1 1.3 .1-1.0 .1 1.3 .1-.4 .1-1.6 .1 1.2 .1 .1 .1-.5 .1 1.6 .1 1.1 .1-2.7 .1 0 .1-2.5 .1 2.8 .1-.4 .1-2.2 .1 3.1 .1 .4 .1-1.7 .1 .5 .1-.8 .1 2.3 .1-3.0 .1 1.6 .1 2.9 .1-2.4 .1 .5 .1-.8 .1-1.3 .1 1.5 .1 .5 .1-1.8 .1 1.8 .1 1.1 .1-.2 .1-3.4 .1 .8 .1-.9 .1 3.5 .1-.6 .1 .2 .1-2.1 .1-.4 .1 1.7 .1 0 .1-1.2 .1 1.3 .1 .6 .1-.5 .1-1.7 .1-1.4 .1 2.4 .1 .6 .1-.6 .1-.2 .1-.3 .1 1.8 .1-1.0 .1 .3 .1-1.5 .1 .5 .1 1.0 .1-1.5 .1-.3 .1 1.2 .1 2.0 .1-1.3 .1 1.6 .1-2.0 .1-.3 .1-1.4 .1 1.1 .1 2.6 .1-1.4 .1 .5 .1 0 .1-1.0 .1-.2 .1 .4 .1 .7 .1-.2 .1 0 .1-.4 .1-1.2 .1 .6 .1-.8 .1 2.5 .1-4.0 .1 2.4 .1 3.4 .1-3.5 .1-1.1 .1 1.5 .1 1.7 .1-1.9 .1 1.0 .1-.7 .1-.6 .1 4.6 .1-4.0 .1-.8 .1 .1 .1 1.1 .1 .1 .1 .4 .1-.8 .1-2.0 .1 2.5 .1-1.1 .1 .1 .1-1.6 .1 1.2 .1-.2 .1 .9 .1-1.8 .1 1.9 .1 .1 .1-1.6 .1 .7 .1-.3 .1 2.3 .1-4.5 .1 2.8 .1-1.7 .1 1.6 .1 1.7 .1-1.9 .1 1.0 .1-1.3 .1 3.6 .1-1.3 .1 .3 .1-3.2 .1 .3 .1 2.8 .1-1.6 .1-.1 .1 .8 .1-2.1 .1 2.6 .1-.9 .1 .6 .1-1.5 .1 1.5 .1-1.6 .1 2.2 .1 .2 .1-.3 .1-.5 .1 .2 .1-4.3 .1 4.6 .1-1.5 .1 .5 .1-.5 .1-1.4 .1 1.1 .1 1.5 .1 1.0 .1-2.6 .1-.4 .1 3.1 .1-3.0 .1 3.8 .1-2.6 .1-1.2 .1 2.4 .1 .9 .1-4.0 .1 3.9 .1-2.4 .1 2.3 .1-2.5 .1-1.5 .1 2.7 .1 .5 .1 1.6 .1-.5 .1-1.3 .1-1.3 .1-.3 .1 .3 .1-.7 .1 .7 .1-2.9 .1 3.5 .1-.3 .1 3.4 .1-2.3 .1-1.6 .1 1.3 .1-2.3 .1 .8 .1-1.6 .1 4.3 .1-1.1 .1-2.3 .1 1.4 .1 1.3 .1-.6 .1-.1 .1-1.6 .1 .3 .1 .9 .1 1.1 .1-2.3 .1-.3 .1 2.9 .1-2.7 .1 2.6 .1-1.1 .1 .9 .1 1.1 .1-1.4 .1 .2 .1-2.2 .1 .2 .1 1.8 .1 1.1 .1-.1 .1 1.2 .1-2.6 .1-.2 .1 1.1 .1-1.3 .1-.1 .1-1.3 .1 2.7 .1-2.7 .1 2.0 .1-2.5 .1 3.3 .1-2.7 .1 2.4 .1-3.2 .1 1.5 .1 2.1 .1-2.5 .1 1.1 .1-.7 .1-2.4 .1 3.4 .1 .2 .1-2.0 .1 2.2 .1-1.8 .1-.3 .1 1.3 .1-.9 .1 3.9 .1-5.0 .1 3.0 .1 .3 .1-3.8 .1 .3 .1 3.0 .1-1.4 .1 1.2 .1 .9 .1-1.9 .1-.9 .1-2.2 .1 3.8 .1-1.4 .1 1.6 .1-.1 .1-2.1 .1 4.0 .1-.8 .1-.3 .1-2.7 .1 1.1 .1-.2 .1 .2 .1-1.0 .1 2.1 .1-.3 .1 .2 .1-1.2 .1 2.4 .1-1.4 .1-3.8 .1 2.7 .1 .7 .1 1.4 .1-1.7 .1 .1 .1-.5 .1 1.7 .1-1.5 .1-.2 .1-.1 .1 1.7 .1-1.5 .1-1.4 .1 3.0 .1-1.8 .1 1.4 .1 0 .1 1.1 .1-.2 .1-2.1 .1 .5 .1-1.4 .1 3.8 .1-1.6 .1 1.3 .1-2.2 .1-2.3 .1 4.7 .1-1.9 .1 .1 .1-.1 .1 .7 .1-.1 .1-2.8 .1 3.5 .1-2.1 .1 .1 .1 2.8 .1-1.0 .1-1.6 .1-2.0 .1 2.6 .1 .5 .1-.8 .1-1.5 .1 .6 .1-.6 .1 1.9 .1 .8 .1 .3 .1-2.3 .1 1.2 .1 .4 .1-1.3 .1 .4 .1 3.0 .1-2.5 .1 .9 .1-1.7 .1 .6 .1-2.3 .1 2.2 .1 1.6 .1 1.2 .1-1.2 .1-.6 .1-.9 .1-.8 .1 .6 .1 1.0 .1-1.9 .1 2.3 .1-2.5 .1-1.0 .1 1.0 .1-.9 .1 .4 .1 3.3 .1-1.8 .1 .6 .1 1.2 .1 .1 .1-2.3 .1 2.4 .1-1.2 .1-.5 .1 .6 .1-2.5 .1 .9 .1 .9 .1 .9 .1-1.3 .1 .3 .1 1.5 .1 .6 .1-.9 .1 .7 .1-2.2 .1 .1 .1 .8 .1-.8 .1-.2 .1 2.8 .1-2.4 .1-1.0 .1 1.9 .1 1.7 .1-2.3 .1 1.5 .1-2.1 .1-.1 .1-.2 .1 .7 .1 2.5 .1-3.8 .1 3.6 .1-3.5 .1 1.1 .1 1.3 .1-.2 .1-.5 .1-2.5 .1 2.6 .1-1.8 .1 4.7 .1-3.6 .1 .5 .1-1.7 .1 .9 .1-1.1 .1 3.0 .1-1.7 .1 1.1 .1-1.6 .1 .2 .1 2.4 .1-3.0 .1-1.0 .1 2.8 .1-2.0 .1 .9 .1 1.8 .1-2.3 .1 2.2 .1-2.0 .1 2.8 .1-.2 .1-2.3 .1 .3 .1-.8 .1 1.4 .1 1.2 .1-3.4 .1 3.1 .1-2.9 .1 .6 .1-1.2 .1 5.1 .1-2.7 .1 .3 .1-1.2 .1 2.2 .1-4.1 .1 2.8 .1 2.8 .1-3.4 .1 .6 .1 .8 .1-1.9 .1 1.1 .1 1.2 .1-1.0 .1 .2 .1-.9 .1 .9 .1-.4 .1 1.9 .1-1.0 .1-1.3 .1-2.8 .1 4.1 .1 .1 .1-2.2 .1-1.4 .1 1.1 .1 2.7 .1-2.6 .1 .8 .1 .9 .1 1.3 .1-1.6 .1-.1 .1-.6 .1 2.8 .1-.7 .1-1.5 .1-1.7 .1 .8 .1 1.8 .1-1.7 .1 2.1 .1-.7 .1-.1 .1 .5 .1-.2 .1-1.8 .1 .7 .1 3.5 .1-4.7 .1 1.0 .1 2.0 .1-1.6 .1-.8 .1-.7 .1 2.4 .1 .6 .1 .5 .1-1.7 .1 1.3 .1-2.7 .1 1.5 .1-1.1 .1 1.2 .1 .7 .1 .4 .1-2.7 .1 3.0 .1-2.3 .1-.7 .1 1.1 .1-1.7 .1 1.9 .1 .4 .1-.6 .1 .9 .1-1.1 .1 .5 .1-1.9 .1 1.9 .1-1.2 .1 .6 .1 .4 .1 .4 .1-2.4 .1 .1 .1 1.7 .1 1.0 .1-.2 .1 .7 .1 .6 .1-1.1 .1-.7 .1-1.3 .1 .1 .1 .7 .1 .9 .1 0 .1-.3 .1-.2 .1 1.0 .1-.6 .1 .2 .1 0 .1-1.1 .1-.7 .1 2.0 .1-.1 .1-.8 .1-.3 .1 3.6 .1-4.0 .1 .7 .1 .6 .1-1.8 .1 1.6 .1 2.2 .1-1.1 .1-.4 .1 0 .1-.7 .1 1.1 .1-1.4 .1-.3 .1 .6 .1 1.1 .1-.8 .1 .5 .1-3.5 .1 4.2 .1 1.5 .1-1.4 .1-2.1 .1-.7 .1 1.5 .1-1.7 .1 2.3 .1-1.7 .1 2.0 .1 .5 .1-4.4 .1 3.0 .1-1.3 .1-.9 .1 1.0 .1 .5 .1 1.7 .1-3.3 .1 3.3 .1 1.3 .1-1.9 .1-.1 .1-.7 .1-1.5 .1 2.2 .1-.2 .1 .5 .1 2.4 .1-2.4 .1-.4 .1 1.5 .1-3.8 .1 .3 .1 1.0 .1-.4 .1 1.7 .1-1.3 .1 2.7 .1-.3 .1-.9 .1-1.5 .1 1.3 .1 .2 .1-2.4 .1 1.8 .1 .5 .1-.7 .1 1.8 .1-.5 .1-2.6 .1 1.2 .1-1.2 .1 1.8 .1-1.9 .1 2.4 .1-.7 .1 .7 .1-1.4 .1-1.7 .1 4.2 .1-2.6 .1 2.1 .1-1.3 .1 .4 .1 1.5 .1-2.0 .1 1.4 .1-3.7 .1 3.0 .1-1.4 .1 .1 .1 .2 .1 .4 .1 1.7 .1-4.5 .1 2.4 .1-.9 .1 2.4 .1-2.1 .1 1.2 .1-1.1 .1 1.4 .1 .4 .1-1.8 .1 .6 .1-1.9 .1 2.2 .1 .7 .1-1.8 .1 2.2 .1-4.2 .1 .3 .1 .6 .1 1.2 .1 .6 .1-.1 .1 0 .1 1.1 .1-1.6 .1-1.0 .1 0 .1 4.4 .1-5.8 .1 2.8 .1 2.1 .1-1.3 .1-1.7 .1 1.1 .1 1.1 .1 .5 .1-2.7 .1 2.1 .1-.6 .1 1.1 .1 .3 .1-2.2 .1-1.5 .1 2.4 .1 1.8 .1-1.4 .1-.6 .1 2.9 .1-4.5 .1 2.5 .1-1.9 .1 .8 .1 .1 .1 1.8 .1-3.2 .1 .5 .1-1.3 .1 2.7 .1-1.3 .1 1.2 .1-1.9 .1 .9 .1 1.8 .1-1.6 .1 1.1 .1-.2 .1-1.1 .1-1.6 .1 3.3 .1-1.0 .1 1.0 .1-3.9 .1 .5 .1-.6 .1 1.6 .1 2.5 .1-.6 .1-.8 .1 .2 .1 .9 .1-1.4 .1 .9 .1-.4 .1-3.0 .1 2.4 .1 2.2 .1-2.2 .1 .3 .1-.6 .1 .1 .1 2.1 .1-1.8 .1-1.0 .1-2.7 .1 3.3 .1-1.8 .1 .2 .1 3.4 .1-.1 .1-3.4 .1 3.6 .1-.5 .1-1.6 .1 1.9 .1-3.0 .1 .5 .1-.3 .1 .4 .1 2.6 .1-2.8 .1 .2 .1 .3 .1 1.4 .1-.6 .1 1.5 .1-2.0 .1-.8 .1 1.0 .1 .7 .1-1.2 .1 1.6 .1 2.0 .1-3.2 .1 .9 .1 1.7 .1-2.6 .1-.3 .1-.3 .1 1.9 .1 .2 .1-.9 .1 .2 .1 1.6 .1-.5 .1-2.9 .1 1.8 .1 .1 .1 .8 .1-1.2 .1-.6 .1 .3 .1-1.7 .1 2.3 .1-.8 .1 1.4 .1-1.9 .1 .7 .1-.7 .1-.1 .1 2.3 .1-1.5 .1 1.2 .1-2.1 .1 1.6 .1-2.3 .1 1.6 .1-.1 .1 1.4 .1-.5 .1-.4 .1 1.3 .1-.9 .1 .5 .1 .3 .1-1.1 .1-.3 .1 .8 .1-1.0 .1 1.1 .1 .9 .1-.3 .1-1.6 .1-1.2 .1 1.6 .1-.1 .1 1.6 .1-1.9 .1 .2 .1 1.2 .1-1.5 .1 .4 .1 2.4 .1-.3 .1-1.1 .1-.5 .1-1.6 .1 2.0 .1-.6 .1 .2 .1-1.0 .1 .7 .1-.2 .1 .6 .1 1.5 .1-1.4 .1-2.6 .1 .8 .1-.7 .1 1.0 .1 1.7 .1-.2 .1-1.3 .1 1.2 .1-1.4 .1-.8 .1 0 .1 .7 .1 3.0 .1-3.6 .1 3.3 .1 .1 .1-1.9 .1 .2 .1-.8 .1 .8 .1 .9 .1-.9 .1 1.3 .1 .3 .1-1.1 .1-.1 .1-.5 .1 .6 .1-1.9 .1 1.9 .1-.2 .1-1.4 .1 3.9 .1-4.0 .1 .1 .1 1.5 .1-2.9 .1 1.5 .1-1.0 .1 .8 .1 1.1 .1 .5 .1 1.1 .1-.4 .1 .5 .1-.8 .1-1.4 .1 2.1 .1-2.1 .1-.2 .1 2.8 .1-.9 .1-.8 .1 .7 .1 .2 .1-2.9 .1 1.6 .1-1.4 .1 1.7 .1-1.0 .1 2.6 .1-1.1 .1-1.7 .1 1.0 .1-1.5 .1 1.6 .1 .7 .1-.4 .1-2.9 .1 2.1 .1 1.1 .1-.3 .1 1.2 .1-3.2 .1 2.3 .1-1.5 .1 1.1 .1 .3 .1 .3 .1-1.6 .1 1.0 .1-1.8 .1-.3 .1 2.6 .1-.8 .1-2.1 .1 1.0 .1 1.2 .1 2.0 .1-.7 .1-.3 .1-3.4 .1 2.2 .1 .8 .1-.1 .1 0 .1-.8 .1 2.5 .1-.3 .1-2.1 .1-1.1 .1 3.9 .1-3.4 .1 2.3 .1 .9 .1-3.7 .1 1.6 .1-.8 .1 1.1 .1-.2 .1 2.1 .1-1.8 .1-.7 .1 1.4 .1-1.8 .1-.1 .1 3.4 .1-4.0 .1 .4 .1 .7 .1-1.4 .1-1.4 .1 4.1 .1-2.3 .1 .3 .1 .2 .1-.8 .1-.1 .1 1.6 .1 2.9 .1-2.2 .1 0 .1-2.9 .1 1.9 .1-1.5 .1 2.6 .1-1.3 .1 .3 .1-.1 .1-.7 .1-1.2 .1 2.7 .1-2.5 .1 .2 .1 1.2 .1-.5 .1 1.2 .1 1.0 .1-1.0 .1-.1 .1-.2 .1 1.1 .1-3.5 .1 2.9 .1-1.7 .1-.4 .1 1.6 .1-.5 .1 1.2 .1 .7 .1-4.4 .1 2.9 .1 2.6 .1-1.4 .1 .8 .1-1.8 .1-2.0 .1 .4 .1 2.4 .1 .3 .1-2.2 .1 .6 .1 .7 .1-2.6 .1 1.8 .1 2.6 .1 .7 .1-2.9 .1 2.5 .1-3.1 .1-.4 .1-1.8 .1 4.1 .1-1.7 .1 3.5 .1-2.6 .1-.2 .1-2.5 .1 4.3 .1-2.5 .1 .3 .1-2.7 .1 4.1 .1 .1 .1-2.1 .1 .9 .1 .4 .1 .8 .1-1.2 .1 2.1 .1-2.5 .1-.5 .1 .2 .1-2.7 .1 2.3 .1 2.3 .1-.9 .1-1.5 .1 1.6 .1-3.1 .1 2.2 .1 1.1 .1 .2 .1-1.9 .1 2.2 .1 1.2 .1-2.9 .1 1.5 .1-3.0 .1-.5 .1 3.3 .1-.7 .1 .2 .1-1.0 .1 .3 .1 1.5 .1 1.2 .1-2.6 .1-1.8 .1 3.8 .1-.9 .1 .1 .1-.6 .1 2.7 .1-2.9 .1 .6 .1-3.1 .1 1.7 .1-.2 .1 .9 .1 .5 .1-1.4 .1 3.2 .1-3.7 .1 .8 .1 .9 .1-1.9 .1 2.4 .1 .1 .1-1.3 .1 2.9 .1-2.4 .1 .3 .1-1.6 .1-.9 .1 1.3 .1 .4 .1-.2 .1 1.6 .1-4.1 .1 1.7 .1-.9 .1 4.1 .1-2.5 .1 .1 .1-.8 .1 2.6 .1-1.7 .1 .8 .1-2.9 .1 4.2 .1-1.1 .1 .3 .1 .8 .1-1.8 .1 0 .1 1.2 .1-.4 .1-.9 .1 .4 .1-.7 .1 1.6 .1 .3 .1-1.3 .1 2.5 .1-4.5 .1 1.7 .1 2.6 .1-2.8 .1-1.5 .1 3.9 .1-1.2 .1-2.2 .1 2.5 .1-2.3 .1-.4 .1 1.5 .1-.4 .1-.8 .1 1.0 .1-.9 .1 1.4 .1-.1 .1 1.0 .1-1.6 .1-1.1 .1 0 .1 1.4 .1 2.3"/>
<path stroke="#F14040" stroke-width="1.25" d="M83.4 309.4l.1-11.9 .1-12.5 .1-12.6 .1-9.9 .1-14.7 .1-10.5 .1-13.0 .1-14.5 .1-12.5 .1-14.6 .1-13.0 .1-8.4 .1-11.4 .1-7.6 .1-7.3 .1-3.1 .1-4.2"/>
<path stroke="#F14040" d="M64.4 321.4l.1-1.9 .1 2.0 .1-2.6 .1 2.7 .1-1.7 .1 1.4 .1-.2 .1-1.1 .1 .8 .1-1.8 .1 1.2 .1 1.5 .1 .2 .1-.7 .1-.7 .1-1.4 .1 2.6 .1-2.8 .1 .4 .1 1.5 .1-1.9 .1 3.0 .1-.2 .1-2.1 .1 0 .1-.7 .1 0 .1 2.0 .1 .2 .1-.3 .1-.1 .1-1.1 .1 1.2 .1-2.3 .1 1.9 .1 1.8 .1-.2 .1-2.2 .1 .1 .1 2.2 .1 .5 .1-4.1 .1 1.3 .1 .8 .1 1.3 .1-2.6 .1 1.8 .1-1.1 .1 3.3 .1-2.4 .1-.7 .1-.3 .1 1.8 .1-.5 .1-2.2 .1 1.6 .1-1.9 .1 .7 .1-.7 .1 0 .1 .8 .1-.4 .1 1.9 .1 .3 .1-1.3 .1-1.1 .1 2.5 .1-3.6 .1 .1 .1 3.4 .1-.1 .1 .4 .1-1.5 .1-1.3 .1 .9 .1 1.4 .1-1.7 .1 .1 .1-.9 .1 .3 .1 2.5 .1-.5 .1-2.0 .1 .1 .1 .6 .1 1.4 .1-2.1 .1 1.2 .1-2.4 .1 1.1 .1 2.1 .1 .6 .1-2.6 .1 .5 .1 1.9 .1-1.4 .1-.2 .1 1.3 .1-.4 .1 1.1 .1-.4 .1-1.7 .1 .6 .1 .1 .1-1.7 .1 .5 .1 2.5 .1-3.2 .1 3.2 .1-.9 .1-.5 .1 .8 .1-.1 .1 1.0 .1-2.1 .1 .3 .1-.1 .1 2.7 .1-1.2 .1-2.3 .1 .7 .1-.4 .1 .9 .1 .2 .1 2.6 .1-5.1 .1 3.5 .1-.7 .1-1.4 .1 .7 .1-.5 .1 .7 .1 1.2 .1-3.2 .1 3.6 .1-2.1 .1 2.3 .1-1.3 .1 1.0 .1-.8 .1 .6 .1-1.3 .1-1.1 .1 1.9 .1 0 .1 1.8 .1-5.2 .1 2.3 .1 1.6 .1-2.9 .1 1.3 .1 2.9 .1-.9 .1-2.8 .1 2.8 .1-.3 .1-.5 .1-.5 .1-.1 .1-1.4 .1 .4 .1 1.6 .1-.8 .1 2.2 .1-2.8 .1-2.5 .1 2.5 .1 .8 .1 .1 .1-.4 .1-1.1 .1 2.9 .1-2.7 .1 1.8 .1-1.3 .1-1.1 .1 3.2 .1-4.9 .1 2.1 .1 1.6 .1-1.0 .1 1.4 .1-1.1 .1-.4 .1 3.3 .1-3.0 .1 .1 .1-1.2 .1 .4 .1-10.0"/>
<path stroke="#F14040" d="M85.1 127.7l.1-3.1 .1-1.9 .1-6.3 .1-2.2 .1-3.0 .1-6.6 .1 .5 .1-.2 .1-1.0 .1-3.1 .1 .6 .1-1.2 .1-3.5 .1 1.1 .1-.8 .1-2.8 .1-2.9 .1 2.0 .1-3.0 .1-1.4 .1-.4 .1-1.8 .1 1.0 .1-1.3 .1-.3 .1-1.7 .1-2.6 .1-.1 .1 .5 .1-2.5 .1 3.4 .1-4.8 .1-1.3 .1 1.4 .1-1.4 .1-1.8 .1-1.1 .1-.1 .1-.3 .1-1.0 .1-2.2 .1 0 .1-.3 .1-1.0 .1-5.6 .1 1.9 .1-.6 .1 0 .1-.2 .1 .3 .1-1.0 .1-1.4 .1-.3 .1 1.7 .1-3.3 .1 .9 .1 1.3 .1-1.8 .1-3.3 .1 2.8 .1-1.3 .1 .1 .1 1.2 .1-1.0 .1-1.2 .1 1.2 .1-.8 .1-.6 .1 0 .1-.3 .1-1.0 .1-.4 .1 .4 .1-1.4 .1-.5 .1 3.1 .1-2.0 .1 .2 .1-.2 .1 .1 .1 0 .1 0 .1-1.2 .1 2.1 .1-2.0 .1 2.1 .1-3.7 .1 1.0 .1 2.6 .1-1.4 .1-.7 .1 1.3 .1-1.7 .1 1.4 .1-2.9 .1 2.3 .1-.2 .1 1.5 .1 .5 .1-2.2 .1 3.1 .1-2.7 .1-1.8 .1-.4 .1 4.9 .1-2.0 .1-.6 .1-.1 .1-.4 .1 3.1 .1-1.7 .1 2.4 .1-2.4 .1-2.7 .1 4.1 .1-1.4 .1 .2 .1 2.4 .1-2.2 .1 1.8 .1-1.3 .1-.8 .1 1.7 .1-1.1 .1 2.5 .1 0 .1-.7 .1 1.1 .1 .3 .1-.6 .1 1.9 .1-.9 .1 1.5 .1-1.5 .1 1.7 .1 .8 .1-1.1 .1 .9 .1 .2 .1 1.9 .1-1.5 .1 1.8 .1 1.7 .1-1.1 .1-2.1 .1 2.5 .1 1.4 .1-1.3 .1 2.1 .1-.3 .1 .1 .1-.6 .1 .1 .1 .6 .1 .7 .1 .9 .1 .2 .1-.6 .1 .8 .1 .7 .1-2.1 .1 1.3 .1 .3 .1 1.1 .1 .2 .1 .4 .1-.5 .1 2.3 .1-.2 .1-2.0 .1 2.4 .1-1.1 .1 3.8 .1-2.3 .1 .4 .1 .9 .1 0 .1 .5 .1 2.4 .1-1.4 .1 1.1 .1 .7 .1-2.3 .1 3.7 .1-.9 .1 .6 .1-1.9 .1 2.4 .1-.1 .1-.9 .1 3.9 .1-1.8 .1-.7 .1 .9 .1 1.2 .1 .6 .1-.3 .1 1.1 .1 .7 .1-3.1 .1 1.3 .1-.2 .1 1.7 .1 2.0 .1-.6 .1-1.8 .1 1.3 .1 2.0 .1-1.5 .1 .9 .1 .9 .1-2.3 .1 3.6 .1-.1 .1 .6 .1-1.5 .1 .6 .1 .7 .1 1.4 .1 .2 .1 .5 .1 2.5 .1-.2 .1-2.2 .1 .5 .1 3.4 .1-2.1 .1 2.5 .1 .7 .1-2.2 .1 .7 .1 .9 .1-.8 .1 .3 .1 1.2 .1 2.0 .1-1.2 .1 .7 .1 .1 .1-.6 .1 4.0 .1-4.3 .1 2.6 .1 2.0 .1-2.0 .1 3.0 .1 1.3 .1-2.1 .1 1.8 .1-1.2 .1 2.5 .1-.1 .1 .7 .1 1.9 .1-.6 .1 1.5 .1-.4 .1-1.8 .1 2.3 .1 .8 .1-1.9 .1 3.9 .1-1.1 .1 .9 .1-1.1 .1 1.7 .1 .7 .1-.3 .1 1.0 .1-2.2 .1 4.8 .1-2.6 .1-.8 .1 2.0 .1 .6 .1 2.2 .1-1.3 .1 1.9 .1-1.0 .1 4.4 .1-1.6 .1 2.2 .1-3.2 .1 2.5 .1-1.5 .1 2.4 .1 .6 .1-2.4 .1 1.0 .1 .4 .1 .1 .1 1.4 .1 .1 .1-.1 .1 2.3 .1 1.0 .1-1.9 .1 1.4 .1 1.2 .1 .1 .1-.2 .1 2.4 .1 .4 .1 .2 .1-.6 .1 3.1 .1 .1 .1-2.2 .1 .8 .1 2.0 .1-2.1 .1 2.0 .1-.1 .1-.5 .1 1.0 .1-1.3 .1 1.7 .1-1.4 .1 5.8 .1-.6 .1 .1 .1-.8 .1 1.3 .1 .7 .1 .1 .1 .3 .1-1.9 .1 2.0 .1-.8 .1-.4 .1 .5 .1 2.3 .1 1.2 .1-2.7 .1 4.3 .1 .1 .1-2.0 .1 .3 .1 .9 .1 1.7 .1-1.4 .1-.5 .1 2.2 .1-2.6 .1 3.1 .1 1.6 .1-.7 .1 1.0 .1 0 .1 .6 .1-.3 .1-.9 .1 1.1 .1 .6 .1 2.0 .1 .8 .1-1.1 .1-1.1 .1 .3 .1 1.1 .1 2.3 .1-1.0 .1-.1 .1-.5 .1 2.4 .1-.4 .1-.1 .1 .6 .1 2.3 .1-2.0 .1 2.7 .1-.2 .1-1.1 .1 1.3 .1-.9 .1-.5 .1 1.0 .1-.4 .1 2.1 .1-.3 .1 1.0 .1 .7 .1-4.6 .1 4.6 .1-2.4 .1 2.8 .1-1.0 .1 1.6 .1 1.8 .1-3.5 .1 2.7 .1-.1 .1-2.0 .1 3.5 .1-.5 .1-.4 .1-.1 .1 5.2 .1-4.3 .1-1.5 .1 1.3 .1 1.0 .1 .2 .1 .6 .1-1.0 .1 2.2 .1-1.1 .1-.9 .1 .9 .1 .7 .1 1.8 .1-.3 .1-.8 .1 .7 .1 .4 .1 2.5 .1-3.1 .1 1.6 .1 .6 .1-1.9 .1 1.7 .1 .2 .1-.6 .1 1.6 .1 .8 .1 .4 .1-1.3 .1 .7 .1 3.0 .1-4.0 .1 2.0 .1 1.2 .1-.5 .1 1.0 .1-.1 .1 1.2 .1 1.2 .1-1.4 .1 1.1 .1 .2 .1 .1 .1 1.0 .1-.8 .1 2.9 .1 1.7 .1 .5 .1 0 .1-2.4 .1 3.6 .1-2.4 .1 1.1 .1 2.8 .1-3.4 .1 2.7 .1-.4 .1-.2 .1-.6 .1 1.9 .1-.8 .1 2.2 .1 .5 .1-3.0 .1 1.3 .1 .5 .1-.8 .1 .3 .1 1.8 .1-.2 .1-1.5 .1 1.6 .1 1.5 .1-1.9 .1 .5 .1 3.4 .1-.1 .1-3.5 .1 .5 .1 2.4 .1-1.8 .1 1.4 .1-.1 .1 1.5 .1-3.7 .1 .6 .1 1.4 .1 3.0 .1-1.3 .1-1.8 .1 2.9 .1 .5 .1-1.1 .1 .1 .1 1.1 .1 1.1 .1-1.1 .1 .6 .1-.6 .1-.3 .1-.5 .1 1.6 .1-.5 .1 .2 .1 1.6 .1-.4 .1 .6 .1-3.0 .1 2.8 .1-1.3 .1-.1 .1 .1 .1 2.7 .1-.4 .1-1.8 .1-.4 .1 1.6 .1-.5 .1 2.8 .1-3.7 .1-.4 .1 2.1 .1 .5 .1 .3 .1 .9 .1 1.8 .1-2.9 .1-.1 .1-1.4 .1 2.6 .1 .9 .1-1.2 .1 1.9 .1-1.2 .1 2.0 .1-1.4 .1-1.5 .1 .6 .1-.9 .1-.1 .1 2.7 .1 .9 .1 1.5 .1-2.4 .1 0 .1-1.0 .1 2.8 .1-.6 .1-1.0 .1 1.7 .1 0 .1-2.8 .1 3.4 .1-.6 .1-.5 .1 .2 .1 2.8 .1-.1 .1 .6 .1-3.6 .1 .8 .1 2.1 .1-2.4 .1 .7 .1-1.1 .1 4.7 .1-.8 .1-.6 .1-.1 .1-.6 .1 .2 .1 1.5 .1-1.5 .1 2.6 .1-1.9 .1-.3 .1 2.9 .1-1.6 .1 1.0 .1-1.0 .1-2.1 .1 3.7 .1-2.1 .1 3.2 .1-3.1 .1-.1 .1 2.9 .1 .4 .1-.2 .1-1.4 .1 2.9 .1-2.7 .1 1.5 .1-.2 .1 .8 .1 1.8 .1-1.6 .1 1.8 .1 .4 .1-2.7 .1 .9 .1 1.3 .1 0 .1 1.4 .1-2.5 .1 3.6 .1 .3 .1-.9 .1-1.2 .1 2.0 .1-.5 .1 1.7 .1-.6 .1 1.3 .1-1.2 .1 2.5 .1-4.4 .1 1.8 .1 2.1 .1-2.3 .1 3.0 .1-2.2 .1 1.9 .1-1.1 .1 .8 .1 1.0 .1-.2 .1-.1 .1 3.3 .1-2.4 .1-1.1 .1 2.6 .1 0 .1 .7 .1 .9 .1-3.2 .1 2.7 .1 .3 .1-1.3 .1 .5 .1-3.9 .1 3.2 .1 3.2 .1-4.3 .1 1.7 .1 1.2 .1 .6 .1 1.5 .1-4.1 .1 2.4 .1 1.2 .1-2.5 .1 1.8 .1 2.6 .1-.6 .1-.8 .1-3.7 .1 3.3 .1 .8 .1-.7 .1 .5 .1 4.1 .1-3.9 .1-.8 .1 1.7 .1-.5 .1 .2 .1 .5 .1 1.3 .1-.5 .1-1.6 .1 1.5 .1 1.0 .1-1.0 .1 2.3 .1-.3 .1-2.0 .1 1.9 .1 2.3 .1-.3 .1-1.8 .1 1.4 .1-1.8 .1-.7 .1 2.7 .1-.1 .1 .5 .1-.4 .1 .6 .1-.8 .1 1.5 .1 .7 .1-.9 .1 1.3 .1-3.0 .1 1.5 .1 3.0 .1 .6 .1-1.7 .1-.2 .1-1.2 .1 2.2 .1 .8 .1-2.6 .1 2.7 .1 .2 .1 .1 .1-1.7 .1 2.2 .1-2.3 .1 3.9 .1-1.5 .1-1.4 .1 3.3 .1 0 .1-2.0 .1 3.7 .1-3.8 .1 1.9 .1 1.2 .1-4.1 .1 4.3 .1-1.1 .1 .2 .1-1.1 .1 1.9 .1-1.6 .1 .4 .1 .8 .1-.8 .1 3.7 .1-3.4 .1 .9 .1 .7 .1 .5 .1 1.2 .1 .2 .1-1.2 .1 0 .1 .7 .1 1.1 .1 0 .1-1.4 .1-1.7 .1 5.3 .1-1.3 .1-.7 .1 .2 .1-1.0 .1-.4 .1 .9 .1 .3 .1-.4 .1-.9 .1 1.5 .1 1.3 .1-1.2 .1 .7 .1-2.5 .1 2.5 .1 .2 .1-1.3 .1-.5 .1 2.8 .1-1.4 .1 1.7 .1-1.0 .1 1.4 .1-1.1 .1-1.4 .1 1.9 .1-.2 .1 1.4 .1-1.3 .1 .2 .1 1.6 .1 .5 .1-.4 .1 .4 .1-.6 .1 .5 .1 .2 .1-.5 .1-.3 .1 .2 .1 2.9 .1-2.9 .1-.2 .1 0 .1 .5 .1 .4 .1-1.6 .1-1.0 .1 2.9 .1-2.2 .1 2.4 .1-.1 .1 1.4 .1 .7 .1-1.5 .1-1.1 .1-.7 .1 .6 .1 1.1 .1-2.5 .1 2.8 .1 0 .1 .9 .1-1.2 .1 .7 .1-1.0 .1 .5 .1-1.6 .1 2.5 .1 1.9 .1-1.7 .1 .4 .1-1.6 .1 3.1 .1-2.7 .1 2.1 .1-.8 .1-1.2 .1 2.5 .1-1.1 .1 .3 .1 .4 .1-.5 .1-.4 .1 1.2 .1-1.0 .1 .7 .1-.9 .1-.9 .1 1.1 .1 .3 .1 .7 .1 1.6 .1-3.5 .1 2.3 .1-2.8 .1 1.5 .1 .8 .1-2.1 .1 .6 .1 2.6 .1 0 .1-.2 .1-.8 .1 3.8 .1-2.8 .1-.8 .1 3.3 .1-1.3 .1-1.1 .1 2.0 .1-1.2 .1 .7 .1-.4 .1-1.5 .1 2.5 .1-.9 .1-1.4 .1 .4 .1 2.3 .1-1.6 .1 .6 .1 .8 .1-.6 .1-1.9 .1 2.7 .1 .5 .1 0 .1 1.0 .1-1.5 .1 .6 .1 1.1 .1-2.2 .1 2.6 .1 .1 .1-1.2 .1 1.4 .1-1.1 .1-2.1 .1 2.6 .1-.9 .1 .2 .1-.3 .1 1.6 .1-.9 .1-1.5 .1 1.6 .1 .4 .1-1.8 .1 .5 .1 .1 .1-.2 .1 1.3 .1 .9 .1 1.2 .1-.8 .1-.2 .1 .3 .1 .3 .1-2.1 .1 1.4 .1-.3 .1-.5 .1-.3 .1 0 .1 .3 .1-1.1 .1 2.3 .1-.6 .1 .2 .1 .4 .1 .6 .1-1.6 .1 .7 .1-1.8 .1-.7 .1 .4 .1 4.4 .1-4.1 .1 3.0 .1 1.3 .1-2.3 .1 2.6 .1 .4 .1-1.1 .1 1.9 .1-2.1 .1-1.6 .1 1.6 .1-1.1 .1-1.0 .1 .1 .1 4.6 .1-3.5 .1 .7 .1-.7 .1 1.1 .1-.4 .1-.2 .1-.9 .1-.2 .1 1.0 .1 1.3 .1 2.3 .1-1.2 .1 1.1 .1-1.6 .1-.7 .1-1.4 .1 1.7 .1-2.6 .1 2.4 .1 2.4 .1-1.5 .1 1.1 .1-1.9 .1-1.1 .1 1.2 .1 .2 .1 2.0 .1 1.1 .1-3.4 .1 .6 .1 .3 .1-.1 .1-1.1 .1 1.8 .1 .4 .1 .1 .1-1.9 .1 1.4 .1-2.0 .1 3.4 .1-2.3 .1 1.0 .1-.1 .1-.1 .1-.6 .1-.8 .1 4.5 .1-1.8 .1 .1 .1 2.4 .1-2.7 .1 .9 .1-.6 .1 1.5 .1-.8 .1-.1 .1-.6 .1 .7 .1 1.2 .1-4.0 .1 2.5 .1-.3 .1 .2 .1-2.0 .1 3.5 .1-1.9 .1 .8 .1-.2 .1-1.4 .1 1.6 .1-1.7 .1 1.2 .1 .9 .1 .4 .1 .2 .1-.2 .1 2.9 .1-2.0 .1-2.0 .1 .8 .1 0 .1 .7 .1-.5 .1-.2 .1 3.2 .1-2.0 .1-.4 .1 .2 .1 .1 .1 2.1 .1-1.1 .1 .9 .1-5.2 .1 4.4 .1 .9 .1 1.3 .1-2.4 .1-2.1 .1 2.9 .1-1.4 .1-1.4 .1 1.5 .1 2.2 .1 .2 .1-.5 .1-2.1 .1 4.5 .1-4.6 .1 1.5 .1-1.7 .1 3.5 .1-1.0 .1 .6 .1-.9 .1-.1 .1 .3 .1-2.5 .1 3.7 .1-.1 .1-1.5 .1 .5 .1 .5 .1 1.6 .1-1.3 .1-.5 .1-.6 .1-1.2 .1 1.2 .1 .9 .1-.3 .1 .4 .1 .9 .1-.3 .1-.2 .1 .6 .1-.6 .1-.2 .1 .7 .1-2.7 .1 3.8 .1-3.1 .1 2.7 .1-1.0 .1 1.4 .1-1.3 .1-1.1 .1 2.5 .1-1.0 .1 0 .1 0 .1 1.2 .1-.2 .1-.7 .1-2.2 .1 1.5 .1 .7 .1 2.2 .1-1.8 .1-.5 .1 1.7 .1-1.6 .1 .1 .1 .3 .1-2.0 .1 3.1 .1-.6 .1-.8 .1-1.1 .1 1.8 .1 1.5 .1-2.5 .1-.5 .1 1.9 .1-2.5 .1-.7 .1 2.3 .1-.3 .1 .6 .1-.3 .1 1.1 .1-.6 .1-.4 .1 .2 .1 1.4 .1 .4 .1 0 .1-.2 .1-4.9 .1 2.9 .1 .9 .1 .7 .1-2.3 .1 3.9 .1-1.4 .1-1.1 .1 1.0 .1-.6 .1-.4 .1 1.6 .1-1.2 .1-1.1 .1 1.0 .1 .7 .1-1.2 .1 3.0 .1-2.9 .1 3.6 .1-1.0 .1-2.3 .1 1.4 .1 1.4 .1-1.7 .1-1.2 .1 1.6 .1 2.4 .1-4.3 .1 2.6 .1-.6 .1-.1 .1-.3 .1 .1 .1 1.7 .1-.5 .1-1.9 .1 3.2 .1-3.5 .1 2.5 .1-.6 .1 1.3 .1-1.0 .1 .9 .1-1.3 .1 1.3 .1-.7 .1 2.2 .1-3.5 .1 2.4 .1-.8 .1-.4 .1-.8 .1 1.3 .1-2.4 .1 .2 .1 2.6 .1-2.8 .1 3.8 .1-2.1 .1 .7 .1-.2 .1 .5 .1-.9 .1 0 .1 .3 .1 1.5 .1 .2 .1 .2 .1-1.1 .1-.7 .1-1.8 .1 2.9 .1 .3 .1-1.5 .1 1.6 .1 .6 .1-1.5 .1 1.3 .1-.9 .1-2.5 .1 1.6 .1 .1 .1 1.2 .1-1.7 .1 .6 .1-.6 .1 1.2 .1 .1 .1 1.2 .1-.2 .1-.7 .1 .1 .1-.1 .1 0 .1 1.8 .1-5.0 .1 3.0 .1 .6 .1 1.1 .1-2.8 .1 1.9 .1 .6 .1-1.6 .1-1.7 .1 1.9 .1-1.0 .1 2.4 .1-1.9 .1 3.4 .1-2.1 .1-1.1 .1 .4 .1-.7 .1 1.9 .1 1.4 .1-2.1 .1 1.5 .1-2.3 .1 1.6 .1 2.5 .1-4.6 .1 3.4 .1-.1 .1-3.8 .1 .6 .1 .6 .1 2.5 .1-1.7 .1 .4 .1 1.1 .1-.7 .1 .2 .1-.7 .1 1.9 .1-2.4 .1 3.1 .1-2.4 .1-.6 .1 1.9 .1-.2 .1-3.1 .1 2.8 .1-1.9 .1 .7 .1 2.1 .1-2.1 .1 1.6 .1-.9 .1 2.9 .1-2.5 .1-1.3 .1 .1 .1 .3 .1 1.4 .1-.2 .1 1.3 .1-1.0 .1 0 .1 .3 .1-.6 .1 .6 .1 .7 .1 0 .1-1.6 .1-1.5 .1 1.2 .1 1.4 .1-3.4 .1 2.5 .1 1.2 .1-1.2 .1-.7 .1 3.7 .1-.5 .1-2.0 .1 2.0 .1 0 .1-3.0 .1 4.8 .1-4.5 .1 .9 .1-1.0 .1 1.5 .1-1.7 .1 1.7 .1 1.4 .1-1.1 .1-.5 .1 2.2 .1-3.0 .1 2.4 .1-1.6 .1 .7 .1-.2 .1 .2 .1-.2 .1-.9 .1 .3 .1 1.3 .1-.6 .1-1.3 .1 .6 .1 0 .1 .9 .1 .3 .1-.1 .1-.9 .1 .9 .1-1.7 .1-1.9 .1 3.6 .1-2.0 .1 .9 .1-.3 .1 2.4 .1-2.3 .1 1.9 .1-.9 .1-.9 .1-.4 .1 2.6 .1-.1 .1 .5 .1 1.4 .1-2.0 .1 .1 .1-.5 .1 .3 .1-.5 .1-.7 .1 3.7 .1-4.8 .1 2.7 .1 .2 .1-.3 .1-1.3 .1 .9 .1-.3 .1-.7 .1 1.3 .1-.4 .1-.2 .1 1.6 .1-2.1 .1 1.9 .1-1.3 .1 1.3 .1-.4 .1 .3 .1-1.5 .1 .3 .1-.1 .1 1.3 .1 .7 .1 .5 .1-2.0 .1 .8 .1-2.1 .1-.7 .1 1.7 .1 .3 .1-1.1 .1-.2 .1 2.9 .1-1.7 .1-1.0 .1 5.0 .1-2.6 .1-.6 .1 1.2 .1-1.7 .1 2.9 .1-3.8 .1 .3 .1 1.5 .1-.8 .1 2.8 .1-3.8 .1 1.2 .1 1.2 .1 .4 .1 .6 .1-.8 .1 2.4 .1-3.4 .1 .9 .1 .9 .1-1.5 .1 .1 .1-.2 .1-.2 .1-.6 .1 .8 .1-1.2 .1 2.4 .1-2.4 .1 4.6 .1-.5 .1-.7 .1-1.6 .1-.4 .1 2.3 .1-1.3 .1 .5 .1-1.6 .1 2.3 .1-2.3 .1 1.1 .1-2.2 .1 1.3 .1 1.5 .1-1.1 .1 0 .1 1.6 .1-1.1 .1 1.7 .1-4.5 .1 3.7 .1 0 .1-2.6 .1 .4 .1 2.7 .1-2.4 .1 .6 .1 1.5 .1-1.1 .1 1.0 .1-1.6 .1 1.5 .1 1.0 .1-.9 .1-3.1 .1 3.5 .1-.7 .1-1.2 .1 2.9 .1-3.8 .1 4.5 .1-3.1 .1 2.8 .1-2.0 .1-1.6 .1 1.8 .1 .3 .1 .3 .1 .7 .1-2.4 .1 1.8 .1 .3 .1-1.2 .1-.8 .1 0 .1 2.1 .1 .1 .1-2.0 .1-.6 .1 3.2 .1-3.4 .1 2.1 .1-1.1 .1-1.2 .1 2.4 .1-.4 .1 2.1 .1 1.0 .1-3.0 .1 1.5 .1 .1 .1-1.9 .1-.4 .1 3.1 .1-2.5 .1 .5 .1-.3 .1 .2 .1-.6 .1 1.8 .1 .6 .1-2.0 .1-1.2 .1 1.8 .1-1.9 .1 1.1 .1 2.3 .1 1.4 .1-2.4 .1-1.7 .1 2.3 .1-3.7 .1 1.9 .1 2.8 .1-.9 .1-2.7 .1-.3 .1 3.2 .1-1.1 .1-.7 .1 1.3 .1-1.2 .1-1.7 .1 3.5 .1-1.8 .1-.4 .1-.4 .1 2.0 .1-1.3 .1 1.8 .1-1.1 .1 1.7 .1-1.8 .1-.3 .1-1.6 .1 1.1 .1 2.3 .1 2.9 .1-5.3 .1 .3 .1 1.7 .1 .2 .1-1.4 .1 1.0 .1-2.1 .1 1.7 .1 1.5 .1 .9 .1-2.2 .1-.1 .1 .9 .1 .9 .1-.8 .1-1.5 .1 1.4 .1 .8 .1-2.1 .1-.7 .1 2.3 .1-.2 .1 .8 .1-1.1 .1-.9 .1 .3 .1-.7 .1 .1 .1 .6 .1 .1 .1 2.0 .1-2.9 .1 1.5 .1-.7 .1 2.6 .1-1.4 .1-.8 .1 1.5 .1-.9 .1-.7 .1 2.6 .1-1.0 .1 1.2 .1-.6 .1-.5 .1-.8 .1-1.5 .1 2.3 .1-.8 .1 .8 .1-.8 .1-.8 .1-.4 .1 2.1 .1 .8 .1-1.9 .1 .9 .1 1.2 .1-2.8 .1 .7 .1-1.0 .1 2.9 .1-1.1 .1-.9 .1-1.4 .1 1.8 .1 1.5 .1-1.6 .1-.1 .1 1.3 .1-2.3 .1 1.7 .1 .7 .1-1.7 .1-.1 .1 1.4 .1-.4 .1-.2 .1 .6 .1 0 .1-1.4 .1 .4 .1 1.4 .1 .9 .1 .3 .1-2.7 .1 2.4 .1-.4 .1-1.0 .1 .7 .1 .5 .1 1.2 .1-3.5 .1 2.0 .1-.9 .1 0 .1 1.7 .1-.4 .1-2.3 .1 1.0 .1 .6 .1-2.0 .1 2.9 .1-1.2 .1 .3 .1 .3 .1 1.8 .1-2.2 .1-.4 .1 2.6 .1-2.8 .1 0 .1-1.0 .1 3.1 .1-1.0 .1 .3 .1-.4 .1-.3 .1-.8 .1 0 .1 1.5 .1-.3 .1 1.9 .1-3.0 .1 .4 .1-.7 .1 3.0 .1-3.2 .1 2.5 .1 .9 .1-2.0 .1 1.1 .1-3.5 .1 2.2 .1-1.6 .1 2.3 .1-.2 .1-.9 .1 2.1 .1-.7 .1-1.0 .1 0 .1-1.1 .1 1.6 .1 2.8 .1-3.4 .1 1.4 .1-1.2 .1 1.7 .1-.4 .1-.8 .1-1.9 .1 1.5 .1 2.2 .1-1.8 .1 1.1 .1-1.3 .1-1.7 .1 2.8 .1-.1 .1-1.1 .1 .3 .1 .9 .1-1.1 .1 1.2 .1-.7 .1-2.6 .1 2.7 .1-.5 .1-.3 .1 1.6 .1-1.1 .1 1.3 .1 .7 .1-1.2 .1-2.0 .1 1.0 .1 2.0 .1-1.4 .1-.6 .1 .9 .1 .7 .1-.3 .1 .5 .1-1.8 .1 .8 .1 0 .1 .3 .1-2.5 .1 2.3 .1-1.4 .1 3.4 .1 .3 .1 .1 .1-1.0 .1-1.6 .1 1.8 .1-1.4 .1 1.0 .1-1.8 .1 .4 .1 1.3 .1 1.6 .1-2.2 .1 2.9 .1 .6 .1-4.9 .1 1.5 .1-1.1 .1 1.0 .1-.4 .1 .6 .1 1.3 .1 0 .1-.9 .1-.3 .1 .2 .1 0 .1 .6 .1-.7 .1 .7 .1-2.2 .1 2.6 .1 1.2 .1-1.9 .1-2.0 .1 3.4 .1-2.0 .1-3.3 .1 3.5 .1 1.0 .1-.2 .1 1.0 .1-.7 .1-.6 .1-2.6 .1 1.1 .1 1.6 .1 .7 .1-2.1 .1 .5 .1 1.4 .1-2.9 .1-.1 .1 2.2 .1 .6 .1-.9 .1-2.2 .1 2.9 .1-1.7 .1 2.5 .1-.9 .1 .5 .1 .4 .1-1.4 .1 1.7 .1 .6 .1-1.1 .1 1.2 .1-2.4 .1 1.9 .1-.7 .1-1.6 .1 1.2 .1-.6 .1 0 .1 .8 .1 1.3 .1-1.7 .1 .5 .1-1.9 .1 2.0 .1 1.3 .1-.4 .1-.4 .1-1.2 .1-.6 .1 1.1 .1-1.5 .1 .2 .1 2.7 .1-2.3 .1 3.4 .1-4.0 .1 2.3 .1-1.9 .1 1.7 .1-1.5 .1 1.3 .1-.2 .1-.3 .1 1.2 .1 1.2 .1-2.5 .1 1.8 .1-1.0 .1-.1 .1 2.8 .1-5.4 .1 1.9 .1-1.4 .1 1.9 .1 .1 .1 5.0 .1-4.2 .1 1.8 .1-.6 .1-2.2 .1 1.2 .1 1.5 .1-1.8 .1 0 .1 .4 .1-2.4 .1 .8 .1 1.5 .1 .3 .1-1.8 .1 .7 .1 .3 .1 0 .1 1.0 .1-.7 .1 .1 .1-1.9 .1 .5 .1 1.7 .1-2.4 .1 2.4 .1-1.2 .1-.1 .1 1.8 .1-1.6 .1-.2 .1 .2 .1 .9 .1 3.4 .1-6.0 .1 2.6 .1-.3 .1 1.5 .1-1.6 .1-2.6 .1 4.8 .1-3.0 .1 1.3 .1-1.6 .1 .3 .1 .8 .1 1.7 .1 0 .1-1.8 .1 1.4 .1-1.0 .1 .6 .1 .1 .1 .6 .1-1.6 .1 .7 .1 .4 .1-.1 .1-1.1 .1 3.1 .1-2.7 .1 1.6 .1-.7 .1 1.3 .1-4.2 .1 5.3 .1-2.8 .1-1.3 .1 1.7 .1 2.7 .1-2.2 .1-2.1 .1 1.0 .1 2.2 .1-3.3 .1 1.5 .1-.1 .1 3.1 .1-3.1 .1 2.0 .1-2.4 .1-.2 .1 2.3 .1-.4 .1-2.9 .1 2.9 .1 0 .1-1.5 .1 1.1 .1 0 .1-.9 .1-.1 .1-.1 .1 .6 .1-1.3 .1 1.6 .1-1.8 .1 2.0 .1-.2 .1-1.2 .1 2.4 .1 1.4 .1-.8 .1-3.3 .1 3.3 .1-1.3 .1-.3 .1-.7 .1 .8 .1 1.7 .1-1.0 .1-1.2 .1-.2 .1 .3 .1 1.3 .1 1.6 .1-3.6 .1 1.3 .1-.5 .1-.4 .1 1.4 .1 .2 .1-2.4 .1 .5 .1 2.8 .1-1.1 .1 .3 .1-1.2 .1 .1 .1 1.1 .1-1.2 .1-.7 .1 1.4 .1 1.1 .1-2.4 .1 2.7 .1-.5 .1-1.9 .1 1.1 .1 0 .1 .8 .1 .1 .1-2.4 .1-.1 .1 3.0 .1-1.1 .1 .4 .1-.1 .1 1.5 .1-3.4 .1 2.9 .1-2.4 .1 2.0 .1 .8 .1-3.4 .1 2.2 .1-.8 .1 0 .1 .4 .1-1.3 .1 .1 .1 2.1 .1 .2 .1-1.7 .1-1.1 .1 4.7 .1-1.5 .1-.9 .1-1.7 .1 .6 .1 1.0 .1-1.5 .1 3.2 .1-1.8 .1 .4 .1-1.8 .1 .2 .1 .2 .1 1.3 .1-.7 .1 0 .1 .8 .1-.1 .1 1.6 .1-2.1 .1-1.0 .1 1.3 .1 1.8 .1-2.5 .1 .8 .1-.5 .1 1.0 .1-.2 .1-1.3 .1 .7 .1 1.5 .1 .2 .1-.2 .1-.1 .1-1.4 .1 0 .1 1.6 .1-2.6 .1 1.4 .1-2.2 .1 1.8 .1-.4 .1-.6 .1 2.3 .1-1.6 .1 .4 .1 .2 .1-.6 .1 2.7 .1-2.4 .1 .9 .1-1.8 .1 1.0 .1 .2 .1 0 .1-.3 .1 .9 .1 1.8 .1-2.1 .1 0 .1-.3 .1 3.6 .1-1.1 .1-1.3 .1 .2 .1-1.7 .1 .7 .1 .5 .1-.1 .1-1.2 .1 .1 .1 1.6 .1-.2 .1-3.0 .1 2.7 .1 1.5 .1-2.3 .1 1.1 .1-2.1 .1 2.8 .1-2.3 .1-.2 .1 1.2 .1 3.3 .1-3.7 .1-.7 .1 2.1 .1-.3 .1 1.8 .1-3.6 .1-.4 .1 1.6 .1 .9 .1 0 .1 .9 .1-3.2 .1 .9 .1 .8 .1 1.2 .1-.4 .1-1.1 .1-.7 .1 2.3 .1 .1 .1 2.2 .1-3.5 .1 2.2 .1-3.4 .1 .8 .1-.2 .1 .3 .1-.5 .1 .4 .1 .7 .1-.5 .1 1.4 .1-.9 .1 .1 .1 1.8 .1-1.4 .1-.2 .1-.2 .1 .1 .1 .7 .1-1.7 .1 2.4 .1 .5 .1-.4 .1-2.0 .1-1.4 .1 1.4 .1 .8 .1 .8 .1-1.2 .1-.1 .1 2.2 .1-2.6 .1 2.1 .1-.2 .1-2.7 .1 2.0 .1-1.0 .1-.5 .1-1.1 .1 .4 .1 2.4 .1-1.0 .1 .9 .1-1.7 .1 1.0 .1 0 .1-1.5 .1-.1 .1 2.6 .1-.4 .1-1.3 .1 1.0 .1 1.0 .1 1.4 .1-3.3 .1 1.9 .1 1.8 .1-2.5 .1 1.8 .1-5.0 .1 5.0 .1-1.8 .1-2.3 .1 3.3 .1 .3 .1 .2 .1 .1 .1-1.5 .1-.9 .1 .4 .1 .5 .1 .6 .1-1.1 .1 .6 .1 1.1 .1-.7 .1 2.4 .1-.1 .1-4.1 .1 .8 .1-.9 .1 .2 .1 2.1 .1-1.9 .1 0 .1 .9 .1 1.3 .1-1.4 .1 .1 .1 1.5 .1-.5 .1 0 .1 .6 .1-2.4 .1 1.5 .1-1.0 .1 2.1 .1-.3 .1-2.2 .1 2.9 .1-3.1 .1 2.9 .1-1.2 .1-1.3 .1-.3 .1 1.1 .1 .3 .1-.8 .1 1.6 .1-2.4 .1 1.7 .1 0 .1-2.3 .1 2.7 .1-1.9 .1-1.5 .1 2.3 .1 .5 .1 1.4 .1-1.7 .1 2.5 .1-.1 .1-.4 .1 .3 .1-1.2 .1-1.1 .1 1.5 .1 .4 .1-.9 .1-.5 .1-1.7 .1 2.8 .1-.4 .1-2.0 .1 1.8 .1 .7 .1-1.0 .1 1.1 .1 0 .1-2.7 .1 1.4 .1 1.0 .1 .6 .1 .6 .1-4.1 .1 2.3 .1 1.0 .1 .6 .1 .6 .1-3.2 .1 .7 .1-.8 .1 2.3 .1-2.6 .1 3.1 .1-.3 .1-.6 .1-3.2 .1 1.8 .1 1.8 .1-2.7 .1 1.5 .1 .2 .1 1.2 .1-.7 .1 0 .1-.9 .1 .6 .1-.2 .1 1.1 .1-1.1 .1 1.5 .1-3.4 .1 3.6 .1-1.6 .1 1.6 .1-1.3 .1 1.0 .1 .8 .1-2.6 .1 .8 .1-.3 .1 .5 .1-2.2 .1 1.8 .1-.1 .1-.7 .1 .8 .1-1.7 .1 3.7 .1-1.2 .1 1.8 .1-3.4 .1-.3 .1 1.8 .1-2.4 .1 2.3 .1-1.1 .1 .5 .1 .7 .1-.2 .1 2.2 .1-1.5 .1-2.4 .1 2.9 .1-2.9 .1 1.8 .1-1.7 .1 .6 .1 2.6 .1-2.3 .1-.1 .1 .2 .1 .3 .1 2.1 .1-3.2 .1 0 .1 2.2 .1-2.7 .1 1.6 .1 1.8 .1-1.3 .1-.6 .1-.3 .1-.2 .1 .4 .1 .9 .1 1.4 .1-.4 .1-1.8 .1-.2 .1 1.7 .1-3.1 .1 1.8 .1 .1 .1-1.0 .1 .2 .1 1.7 .1-2.5 .1 .9 .1 .4 .1 .9 .1-1.8 .1 3.1 .1-1.8 .1 .1 .1-.1 .1-.4 .1-.3 .1 2.6 .1-1.2 .1-.3 .1 1.3 .1-2.1 .1 1.7 .1-.7 .1-1.1 .1 2.0 .1-2.8 .1 2.7 .1-1.9 .1 1.6 .1 1.2 .1-1.0 .1-1.4 .1 .7 .1-.4 .1-1.0 .1 .1 .1 1.5 .1 .6 .1-2.9 .1 2.1 .1 .8 .1-.5 .1-1.4 .1 2.5 .1-2.7 .1 2.3 .1 1.2 .1-4.5 .1 2.8 .1 .1 .1-.1 .1-1.2 .1 .6 .1-1.3 .1 1.9 .1 .5 .1-1.5 .1-.3 .1 .6 .1 .5 .1 .1 .1-.2 .1 .3 .1-1.7 .1-1.7 .1 4.1 .1 1.0 .1-3.5 .1 .9 .1 1.2 .1 .8 .1-.3 .1 .8 .1-1.7 .1 .6 .1 0 .1-1.0 .1 2.0 .1-.7 .1 .5 .1-1.7 .1 1.8 .1-2.6 .1 1.8 .1-3.7 .1 2.0 .1 2.1 .1-1.4 .1 .8 .1-2.2 .1 3.9 .1-1.2 .1-.7 .1 .5 .1-.1 .1 1.4 .1-1.5 .1-2.0 .1 1.5 .1 1.9 .1-.9 .1-1.2 .1 1.3 .1-.6 .1 .6 .1-2.7 .1 .9 .1 1.9 .1-1.1 .1 .7 .1 2.0 .1-2.8 .1 .7 .1-.9 .1-.1 .1 .7 .1-1.7 .1-.8 .1 4.3 .1-1.8 .1 1.5 .1-1.2 .1 0 .1 .7 .1 0 .1-2.3 .1 3.0 .1-2.7 .1 1.5 .1 2.8 .1-3.0 .1 2.0 .1-2.5 .1 1.2 .1-.7 .1 .5 .1-1.5 .1-.1 .1 1.5 .1-2.3 .1 .9 .1 1.8 .1-1.5 .1-.3 .1-.3 .1 1.6 .1-.6 .1 .6 .1-.4 .1 2.5 .1-2.8 .1-1.8 .1 2.5 .1-.1 .1 .2 .1-2.2 .1 3.4 .1-1.4 .1 0 .1-1.9 .1 2.5 .1-.6 .1 1.7 .1-2.1 .1-1.0 .1 1.7 .1-1.3 .1 1.6 .1-1.8 .1 1.2 .1-.1 .1 .2 .1-.6 .1-.3 .1 .9 .1-.6 .1 .9 .1-.5 .1-2.4 .1 2.7 .1 1.7 .1-1.3 .1 .4 .1-.2 .1-1.1 .1-1.0 .1 2.6 .1 .3 .1-.6 .1-.1 .1-.1 .1-.5 .1 .4 .1-.3 .1 .4 .1-1.5 .1 .4 .1 1.4 .1-1.1 .1-2.5 .1 3.1 .1-2.9 .1 5.1 .1-1.4 .1-.1 .1-1.6 .1-.5 .1 1.1 .1 .3 .1-1.0 .1 1.1 .1 .7 .1-.1 .1-2.0 .1-1.3 .1 2.6 .1-.8 .1 1.4 .1 1.4 .1 0 .1-1.6 .1 1.0 .1 .6 .1-1.9 .1 .3 .1 .7 .1-1.0 .1-.6 .1-.3 .1 1.0 .1-.8 .1 1.7 .1-1.3 .1 2.1 .1-.3 .1-2.9 .1 2.8 .1-1.8 .1 2.2 .1-1.0 .1-.7 .1 .9 .1-1.5 .1 1.1 .1 .1 .1-.7 .1 .7 .1-1.7 .1 1.9 .1-2.1 .1 2.2 .1-.2 .1 .3 .1-1.5 .1 4.3 .1-3.9 .1 .5 .1-1.1 .1 2.6 .1-2.2 .1 1.7 .1-2.3 .1 1.6 .1-.8 .1 1.5 .1-1.4 .1-.7 .1 1.6 .1-2.0 .1 .3 .1 2.1 .1-3.1 .1 3.1 .1-1.4 .1-.6 .1 1.4 .1 .5 .1-1.5 .1 .5 .1 1.2 .1 0 .1-1.0 .1-.8 .1-.2 .1 .4 .1 1.5 .1-.1 .1-.3 .1 1.3 .1-2.0 .1-.1 .1 0 .1 2.7 .1-4.6 .1 2.7 .1 .2 .1-.4 .1 2.7 .1-1.4 .1-.4 .1-2.0 .1 1.7 .1-1.1 .1 .5 .1 .2 .1-.8 .1 1.4 .1 1.2 .1-.7 .1-1.0 .1-2.5 .1 3.5 .1 0 .1-1.4 .1-.4 .1 1.4 .1-1.7 .1 1.9 .1-2.2 .1 .2 .1 1.1 .1-1.7 .1 1.7 .1 .6 .1-2.2 .1 2.7 .1-1.7 .1 1.3 .1-.4 .1-.8 .1-.1 .1-1.3 .1 1.1 .1 0 .1 2.8 .1-.7 .1-2.8 .1 2.5 .1-.6 .1-.7 .1 1.0 .1 .4 .1-1.6 .1 .3 .1 .6 .1-1.4 .1 1.4 .1-.3 .1-.7 .1-.2 .1 1.4 .1 .7 .1-.7 .1-1.4 .1 1.9 .1-.6 .1 .5 .1 .6 .1-2.4 .1 .9 .1-.5 .1-.3 .1 3.4 .1-1.3 .1-3.1 .1 2.6 .1-1.2 .1 2.0 .1-1.2 .1-.3 .1 .4 .1 .3 .1-.5 .1-.2 .1 .1 .1 .7 .1-1.9 .1 1.4 .1-.2 .1-.4 .1 1.4 .1-2.3 .1 1.1 .1-.6 .1 1.6 .1-1.1 .1 .6 .1 .4 .1-2.3 .1 2.4 .1-1.4 .1 .6 .1 .1 .1 1.1 .1 0 .1 1.2 .1-1.9 .1-.7 .1-.1 .1 1.4 .1 1.1 .1-1.5 .1-1.0 .1 1.0 .1 0 .1-.3 .1-.9 .1-2.1 .1 2.4 .1 1.8 .1-.9 .1-2.8 .1 2.5 .1-2.1 .1 4.5 .1-2.1 .1-1.6 .1 2.3 .1-1.8 .1 1.5 .1-.6 .1-1.4 .1 2.2 .1-2.3 .1 3.1 .1-1.5 .1-1.3 .1-.9 .1 4.0 .1-.1 .1-3.2 .1 3.4 .1-1.7 .1-.5 .1 .2 .1-.2 .1 2.0 .1-1.5 .1-2.3 .1 4.6 .1-1.4 .1-2.3 .1 .9 .1-.7 .1 1.1 .1 .5 .1-.2 .1-1.0 .1-.2 .1 1.9 .1-1.1 .1 2.8 .1-3.6 .1 1.9 .1-.9 .1-.9 .1 2.5 .1-1.5 .1-1.1 .1 .6 .1 1.6 .1-2.6 .1 3.0 .1-.8 .1-1.1 .1 1.9 .1 .5 .1-1.3 .1-.5 .1 1.9 .1-.4 .1-2.8 .1 .9 .1 0 .1-.3 .1-1.2 .1 2.8 .1-1.0 .1 .1 .1 1.5 .1-2.3 .1 .6 .1 .4 .1-.8 .1 .4 .1 1.0 .1-.9 .1 1.6 .1-2.5 .1 1.2 .1-1.9 .1 1.5 .1-.7 .1 2.5 .1-.8 .1-.2 .1 1.5 .1-.4 .1-.9 .1-1.6 .1-.9 .1 1.7 .1-.4 .1-.3 .1 .4 .1-1.6 .1 3.7 .1-3.1 .1 .6 .1 1.4 .1-2.5 .1 3.0 .1 0 .1-1.5 .1-.9 .1 .8 .1-1.7 .1 3.9 .1-1.6 .1-.9 .1-.2 .1 1.7 .1 1.1 .1-3.2 .1 .8 .1-1.4 .1 2.9 .1-.6 .1 2.5 .1-2.8 .1-.4 .1-.3 .1 1.9 .1-3.0 .1 2.8 .1-.5 .1-.9 .1-.5 .1 2.3 .1 1.0 .1-2.7 .1 1.1 .1 1.5 .1-2.8 .1 .4 .1-1.1 .1 1.3 .1 .1 .1-.4 .1-.4 .1-1.0 .1 .3 .1 .4 .1 2.0 .1-1.4 .1-.4 .1 1.8 .1-.1 .1-1.6 .1 .2 .1 1.5 .1-.3 .1-1.4 .1 1.3 .1-.4 .1 1.4 .1-2.3 .1 2.0 .1-.5 .1-1.7 .1 2.5 .1-.2 .1-2.6 .1 3.9 .1-3.7 .1 .3 .1 .7 .1 1.3 .1-.2 .1-.8 .1 1.7 .1-1.1 .1 1.2 .1 1.7 .1-3.2 .1-3.3 .1 2.6 .1-.8 .1 1.4 .1 .1 .1-1.6 .1 .1 .1 1.0 .1 .1 .1-2.8 .1 4.3 .1-1.2 .1 0 .1 .4 .1-1.6 .1 1.2 .1 1.3 .1 0 .1-.7 .1-.9 .1-.6 .1 2.6 .1-1.0 .1-1.1 .1-2.1 .1 1.5 .1-1.2 .1 3.8 .1-1.3 .1-1.1 .1 .6 .1 3.5 .1-1.7 .1-3.1 .1 1.5 .1-1.3 .1-.6 .1 2.3 .1 2.7 .1-1.0 .1-1.9 .1-.5 .1 .7 .1 1.1 .1-3.1 .1-.5 .1 4.6 .1-1.9 .1 1.6 .1-1.7 .1 1.6 .1-2.6 .1 1.4 .1 1.3 .1-.7 .1-1.8 .1 1.7 .1-1.9 .1-.9 .1 2.4 .1 1.0 .1-.6 .1-2.6 .1 2.6 .1-.2 .1-1.4 .1-2.5 .1 4.3 .1-.1 .1-.5 .1-2.8 .1 .4 .1 3.1 .1-.3 .1-.4 .1-.9 .1 .8 .1-1.1 .1 .3 .1-.7 .1 1.4 .1-.9 .1 1.7 .1-.2 .1-1.9 .1 3.3 .1-3.7 .1 2.0 .1 .8 .1 .2 .1-4.3 .1 4.0 .1 .3 .1 .2 .1-4.5 .1 1.9 .1 .7 .1-.4 .1 2.2 .1-2.5 .1 2.4 .1-.8 .1-2.5 .1 .6 .1 .6 .1 .7 .1 1.2 .1-1.5 .1 1.4 .1-3.1 .1-1.9 .1 3.4 .1 1.0 .1-1.0 .1-.8 .1 1.8 .1 1.9 .1-2.5 .1-.8 .1-.2 .1 3.6 .1-2.5 .1 .8 .1 .8 .1-.2 .1-2.5 .1 2.3 .1-.1 .1-.4 .1 .6 .1-1.9 .1 .6 .1-.6 .1 1.6 .1-1.7 .1 1.3 .1-1.9 .1 1.3 .1-.3 .1 .3 .1 .3 .1-.4 .1 0 .1-2.3 .1 3.9 .1-2.1 .1 .5 .1-.8 .1 2.3 .1-2.3 .1 1.7 .1 .9 .1 .6 .1-.6 .1-.7 .1-2.3 .1 3.2 .1-.2 .1-.4 .1 0 .1-.9 .1-.8 .1 2.0 .1 .3 .1-2.9 .1 2.4 .1-.8 .1 .8 .1-.7 .1 1.0 .1-.1 .1-.2 .1-2.8 .1 2.8 .1-1.0 .1-1.4 .1 2.3 .1-2.6 .1 2.8 .1 1.0 .1-2.7 .1 1.8 .1-.6 .1 .2 .1-2.4 .1 2.4 .1-.6 .1 .8 .1-.9 .1 1.3 .1-1.0 .1 .5 .1 .9 .1-1.5 .1 1.0 .1-.9 .1 .4 .1-1.3 .1 1.6 .1 .6 .1-1.7 .1 1.1 .1-.4 .1-1.9 .1 1.8 .1 1.2 .1-2.2 .1-1.6 .1 2.4 .1-1.0 .1 3.1 .1-2.3 .1 0 .1-.7 .1 1.0 .1-1.0 .1-.4 .1 1.1 .1-.9 .1 2.6 .1-3.1 .1 1.4 .1-.8 .1-.8 .1 3.7 .1-4.6 .1 4.4 .1-3.5 .1 1.8 .1 2.7 .1-5.4 .1 1.0 .1 3.3 .1-1.4 .1-.9 .1 .6 .1-1.1 .1 1.3 .1 1.7 .1-2.3 .1 .7 .1 1.3 .1 .9 .1-3.1 .1 1.1 .1-1.1 .1-.1 .1 .3 .1-.2 .1-1.4 .1-.3 .1 1.6 .1 1.0 .1 1.4 .1-2.2 .1 .5 .1 1.0 .1 .1 .1-1.0 .1 0 .1 2.4 .1-2.7 .1-.2 .1-1.4 .1 2.6 .1-.9 .1 2.7 .1-2.8 .1 1.4 .1 .2 .1 .9 .1-3.6 .1 3.5 .1-1.9 .1-.1 .1-.3 .1-.1 .1 .1 .1-2.4 .1 3.4 .1-.5 .1-1.2 .1 1.1 .1 2.9 .1-2.4 .1-.9 .1 2.5 .1-3.0 .1 .8 .1-.5 .1 .4 .1 1.2 .1-.2 .1-1.6 .1 .7 .1 .3 .1-.6 .1 .5 .1-.9 .1 0 .1 1.0 .1-1.3 .1 1.8 .1-.8 .1-.9 .1 .4 .1 .2 .1 .4 .1 .3 .1-.4 .1-.8 .1 2.8 .1-.6 .1-1.0 .1 1.1 .1-.8 .1-.7 .1 .4 .1 3.2 .1-2.1 .1 .1 .1-1.7 .1 1.2 .1 2.0 .1-2.2 .1 .8 .1 .2 .1-.7 .1 1.1 .1-1.6 .1 .3 .1-1.4 .1 4.0 .1-2.8 .1-.2 .1 1.5 .1-2.3 .1 .6 .1-.9 .1 1.0 .1-.5 .1 1.1 .1-.8 .1-.5 .1 .3 .1 .2 .1-.4 .1 1.7 .1-.3 .1-.6 .1-1.6 .1 2.0 .1-2.1 .1 1.8 .1-.2 .1-.8 .1-.3 .1 .2 .1 3.3 .1-2.8 .1 .1 .1 1.4 .1-.6 .1 .8 .1-2.8 .1 .2 .1 5.3 .1-4.0 .1-.3 .1 .5 .1 1.0 .1-2.6 .1 1.8 .1-.4 .1 .9 .1-.6 .1-.9 .1-.4 .1-1.9 .1 4.2 .1-3.0 .1 1.3 .1 2.5 .1-2.5 .1 1.2 .1-.9 .1 1.1 .1-.8 .1-.7 .1 2.3 .1-2.0 .1-1.3 .1 1.3 .1 1.0 .1-2.0 .1 2.3 .1 0 .1 1.6 .1-3.3 .1 1.6 .1-2.8 .1 1.5 .1 .6 .1 .4 .1-.6 .1 0 .1-.6 .1 .2 .1 .9 .1 .3 .1 .1 .1 .4 .1 .3 .1-3.6 .1 1.5 .1 .5 .1-.6 .1 2.0 .1-.3 .1-1.0 .1 .2 .1 1.4 .1-1.9 .1 0 .1 1.5 .1-.5 .1 1.1 .1-1.2 .1 .4 .1-1.5 .1-.5 .1 1.2 .1-3.2 .1 3.7 .1 .6 .1-1.0 .1-.4 .1 1.6 .1-1.4 .1 1.3 .1 1.4 .1-1.7 .1 .2 .1-.5 .1-.3 .1 .1 .1-.3 .1 1.2 .1-3.2 .1 1.6 .1 1.2 .1-1.8 .1 .9 .1-.7 .1 1.3 .1 .5 .1 .7 .1-1.1 .1-1.4 .1 1.1 .1 .4 .1 1.0 .1-4.2 .1 3.0 .1-2.6 .1 3.0 .1-.3 .1 .1 .1 .4 .1-.6 .1-1.2 .1 1.2 .1 1.0 .1-1.5 .1 .1 .1-1.4 .1 2.8 .1-2.0 .1-.3 .1 .4 .1-.5 .1 .7 .1 1.9 .1-.6 .1 .7 .1 .1 .1-2.8 .1 1.6 .1 1.3 .1 .9 .1-4.4 .1 0 .1 2.2 .1-.9 .1-.8 .1 1.7 .1-1.4 .1-1.8 .1 2.7 .1 .2 .1 .6 .1 .4 .1-.9 .1-.5 .1-.5 .1-1.2 .1 1.4 .1 1.8 .1-.5 .1 1.7 .1-2.6 .1-1.9 .1 3.1 .1 .2 .1-2.6 .1-.5 .1 2.1 .1 .7 .1-2.2 .1 .9 .1-.5 .1-.5 .1-.1 .1 1.7 .1-.6 .1-.3 .1-2.4 .1 5.3 .1-3.3 .1 1.0 .1-1.2 .1 1.8 .1-2.2 .1 1.9 .1-.3 .1 1.3 .1-2.4 .1 .5 .1 .5 .1 2.8 .1-4.2 .1 2.1 .1-1.1 .1 1.1 .1 .4 .1-.6 .1 .2 .1 0 .1-1.0 .1 .4 .1-1.7 .1 1.6 .1-.5 .1 .6 .1 1.2 .1-.4 .1 .1 .1 .7 .1-4.1 .1 3.3 .1-.5 .1-.1 .1-1.4 .1 2.2 .1 .7 .1-.1 .1-1.4 .1 .9 .1 .4 .1 1.0 .1-.7 .1-1.3 .1 0 .1 .1 .1 .1 .1-.9 .1 1.5 .1-1.7 .1-.1 .1 1.3 .1-1.1 .1 .4 .1-2.1 .1 3.4 .1-1.0 .1-.1 .1 .7 .1-.3 .1-1.1 .1 3.3 .1-3.0 .1 1.7 .1 1.1 .1-3.0 .1 .9 .1-1.1 .1 2.2 .1-1.6 .1-.9 .1 2.9 .1-.5 .1-2.1 .1 2.4 .1-1.1 .1 3.0 .1-1.2 .1-2.7 .1 .3 .1-.7 .1 1.2 .1-.1 .1 .8 .1-.7 .1-1.9 .1 .8 .1 2.7 .1-.3 .1-1.6 .1 0 .1 0 .1 .2 .1-2.0 .1 3.1 .1-1.9 .1 1.0 .1-3.2 .1 3.3 .1 1.3 .1-4.2 .1 4.5 .1-1.3 .1-1.4 .1-1.0 .1 3.3 .1-1.1 .1 .4 .1-1.0 .1-.7 .1 2.0 .1-2.1 .1 2.2 .1-3.1 .1 .9 .1-.6 .1 3.3 .1-3.7 .1 .8 .1 2.1 .1-.5 .1 2.4 .1-.4 .1-1.5 .1 .1 .1-3.0 .1 1.1 .1 .7 .1 .2 .1-1.5 .1 .6 .1 .1 .1 2.3 .1-.8 .1-.9 .1 .1 .1 .7 .1-1.2 .1 .5 .1-1.7 .1 2.8 .1 .4 .1-.7 .1 .1 .1-.1 .1 2.0 .1-2.2 .1-1.8 .1 .3 .1 2.1 .1 .5 .1-.4 .1 .1 .1-.8 .1-2.0 .1 1.0 .1-1.4 .1 1.8 .1-1.2 .1 1.7 .1-.3 .1-2.1 .1 3.2 .1 .1 .1-2.6 .1 1.8 .1 .7 .1-1.2 .1 1.4 .1-.8 .1 1.1 .1-1.1 .1-.4 .1 .8 .1 .3 .1-.6 .1-.8 .1-.4 .1 .5 .1-.3 .1 1.0 .1-.1 .1-.3 .1 .1 .1 .2 .1 1.7 .1-.4 .1-2.2 .1 1.3 .1-.9 .1 .2 .1-.1 .1-.5 .1-.9 .1-1.3 .1 3.2 .1 1.2 .1-2.5 .1 1.7 .1-1.1 .1 .8 .1-1.3 .1 .7 .1 .2 .1-2.8 .1 3.2 .1-.4 .1-2.9 .1 3.8 .1-.8 .1 .3 .1 .2 .1-1.0 .1-.8 .1 .8 .1 0 .1 3.2 .1-.4 .1-2.8 .1 .1 .1 .9 .1 .3 .1-1.6 .1-.3 .1 3.5 .1-1.0 .1-3.2 .1-.2 .1 1.1 .1 1.3 .1 .4 .1-1.1 .1-1.5 .1 2.2 .1 .5 .1-.8 .1-.6 .1 1.3 .1-.7 .1-1.3 .1 1.5 .1-1.7 .1 2.7 .1-.6 .1-1.7 .1 1.4 .1 1.3 .1-4.1 .1 2.4 .1 2.2 .1-3.9 .1 1.7 .1-1.5 .1 1.6 .1-2.8 .1 .9 .1 1.4 .1 .8 .1 .3 .1 0 .1 .9 .1-.5 .1 0 .1-2.0 .1 1.0 .1 4.0 .1-1.1 .1-1.7 .1-.1 .1 .3 .1-1.7 .1 2.9 .1-2.9 .1 .4 .1 2.8 .1-5.3 .1 3.0 .1-2.5 .1 1.3 .1 .7 .1-.3 .1 .6 .1-1.1 .1 .8 .1-1.3 .1 1.0 .1-1.3 .1 2.6 .1-2.4 .1 2.4 .1-1.4 .1 .2 .1 1.8 .1-1.3 .1-2.5 .1 3.0 .1-4.2 .1 3.9 .1-.8 .1-1.2 .1 1.8 .1-.5 .1 2.9 .1-3.0 .1 2.9 .1-.7 .1-2.4 .1-.3 .1 2.7 .1-1.8 .1 .3 .1-.5 .1-1.2 .1 1.1 .1-.7 .1-.7 .1 1.5 .1 2.6 .1-.2 .1-2.1 .1 .2 .1 .5 .1 1.1 .1-1.3 .1-1.0 .1 .1 .1 1.9 .1 1.8 .1-4.0 .1-1.7 .1 3.5 .1-1.1 .1 .3 .1 1.4 .1-1.5 .1-1.7 .1-.8 .1 2.4 .1-1.4 .1 1.8 .1-1.9 .1 1.1 .1-1.4 .1 1.4 .1-.1 .1 1.3 .1 1.0 .1-1.9 .1-.9 .1 3.5 .1-2.0 .1 .4 .1 0 .1 1.0 .1-.5 .1-.4 .1 .1 .1-2.0 .1 .3 .1 .6 .1 .2 .1 0 .1 .3 .1-.3 .1-.6 .1-1.5 .1 3.1 .1-.3 .1-1.8 .1 1.7 .1-.1 .1-.4 .1-2.4 .1 .8 .1 .7 .1 2.8 .1-3.1 .1 .7 .1-1.0 .1 .8 .1 1.0 .1-3.0 .1-.9 .1 4.3 .1-.7 .1-.8 .1 1.9 .1 0 .1-3.8 .1 2.4 .1 1.6 .1-2.2 .1 .5 .1 1.5 .1-1.5 .1-1.1 .1 .6 .1-.8 .1 2.4 .1-2.9 .1 3.4 .1-3.3 .1 2.1 .1-1.8 .1 1.4 .1 1.7 .1 .1 .1 .2 .1-1.7 .1 .2 .1 .2 .1 .5 .1-1.3 .1 1.9 .1-1.0 .1 1.1 .1-.9 .1 .3 .1-1.8 .1 .4 .1-1.1 .1 1.3 .1 .1 .1 1.3 .1-2.6 .1 5.6 .1-4.2 .1 1.7 .1-.2 .1-4.5 .1 2.9 .1 2.1 .1-4.8 .1 4.0 .1-2.2 .1 .6 .1 .9 .1-2.6 .1 2.6 .1-1.1 .1-.1 .1 1.8 .1 3.5 .1-3.9 .1 .2 .1-.7 .1-.9 .1 1.3 .1 1.5 .1-1.6 .1 .9 .1-1.4 .1 3.4 .1-5.2 .1 2.8 .1-.1 .1-.3 .1-1.7 .1-.1 .1 1.2 .1 .4 .1-1.6 .1 .2 .1 2.0 .1 .6 .1-2.0 .1-.2 .1 0 .1 4.0 .1-2.5 .1-.7 .1 1.4 .1 1.6 .1-1.4 .1-3.3 .1 1.7 .1-.4 .1 .1 .1-1.1 .1 1.0 .1-.8 .1 1.8 .1-.4 .1-1.8 .1-.4 .1 1.6 .1 1.4 .1-.2 .1-.7 .1-4.1 .1 3.5 .1-.3 .1 .6 .1-1.1 .1 .9 .1-.2 .1 4.2 .1-2.5 .1-1.1 .1 .1 .1 0 .1 .3 .1-.7 .1 .5 .1 1.3 .1-.2 .1-.7 .1 1.3 .1-1.4 .1-1.5 .1-1.0 .1 1.4 .1 .8 .1 .5 .1 .9 .1-2.1 .1-.3 .1 2.0 .1 .5 .1-2.0 .1 1.0 .1 1.3 .1-1.3 .1-.5 .1-2.5 .1 4.2 .1-.8 .1-.7 .1-.7 .1-1.0 .1 1.5 .1 0 .1 1.5 .1-2.9 .1 3.3 .1-1.7 .1 1.4 .1-2.7 .1 1.7 .1 1.1 .1-1.4 .1-2.0 .1 1.4 .1 1.1 .1-2.4 .1-.1 .1 2.1 .1-1.4 .1 2.0 .1-2.3 .1-.8 .1 1.3 .1 2.8 .1-2.9 .1 1.1 .1 .3 .1-1.5 .1 2.6 .1-1.2 .1 .4 .1-2.7 .1-.1 .1-1.2 .1 3.2 .1-.1 .1 1.2 .1 1.0 .1-2.2 .1 0 .1 .9 .1 1.3 .1-2.9 .1 1.8 .1-1.1 .1-.1 .1 1.5 .1-2.0 .1-.4 .1 2.2 .1-.9 .1-.3 .1 .2 .1 .8 .1-1.1 .1 1.4 .1-.4 .1 1.3 .1-.2 .1-.5 .1-1.4 .1 .4 .1-.8 .1 4.3 .1-3.9 .1 1.0 .1 1.0 .1-3.4 .1 .7 .1 .5 .1-.7 .1-.4 .1 1.0 .1 2.3 .1-.8 .1-.8 .1 0 .1-2.1 .1 2.9 .1-.3 .1-1.9 .1 1.6 .1-.5 .1-.4 .1-.6 .1 .4 .1-.3 .1 1.8 .1-.2 .1 0 .1-.6 .1-.3 .1 3.1 .1-4.9 .1 3.8 .1-1.1 .1-.3 .1-.7 .1 .3 .1-1.2 .1-.2 .1 1.6 .1-1.9 .1 3.1 .1 .3 .1-5.7 .1 2.4 .1 2.3 .1-.1 .1-.1 .1 .4 .1 .4 .1 .1 .1 1.2 .1-2.2 .1 1.1 .1-3.2 .1 1.9 .1-1.3 .1 3.2 .1 1.2 .1-2.2 .1-2.3 .1 1.5 .1 .1 .1 .3 .1 1.1 .1-.2 .1-4.5 .1 5.0 .1-2.3 .1-.1 .1 2.5 .1-2.1 .1-1.4 .1 .1 .1 1.7 .1 1.1 .1 .7 .1-2.1 .1-.3 .1 2.6 .1-2.6 .1 2.4 .1-1.5 .1 0 .1-.6 .1 .6 .1-.9 .1-.3 .1 .7 .1-.6 .1 1.2 .1-.3 .1-.4 .1 0 .1 0 .1 2.5 .1-2.2 .1-.7 .1 .3 .1 1.2 .1-1.0 .1 0 .1-.1 .1 .5 .1 .3 .1 .1 .1-2.6 .1 .7 .1-1.9 .1 4.2 .1 .4 .1 .3 .1-1.5 .1 1.3 .1-1.5 .1-.1 .1-1.8 .1 1.0 .1 .2 .1 1.9 .1 .9 .1-2.6 .1 1.0 .1-.1 .1-1.3 .1-1.2 .1 1.2 .1-.8 .1 1.4 .1 .2 .1 0 .1 0 .1 .8 .1-1.8 .1 2.3 .1-3.2 .1 2.2 .1 .4 .1-1.5 .1-1.0 .1 2.8 .1-1.6 .1 1.8 .1 0 .1-1.0 .1 0 .1 1.3 .1-.8 .1-1.6 .1 1.4 .1 .4 .1-.4 .1 0 .1-.4 .1 0 .1-1.0 .1-.6 .1 3.2 .1-2.2 .1 1.0 .1-2.1 .1 2.1 .1-1.3 .1 4.8 .1-5.0 .1 .1 .1 2.4 .1 .2 .1-4.0 .1 2.9 .1 .8 .1-2.6 .1 2.4 .1-1.5 .1-.6 .1 .8 .1-.2 .1-1.1 .1 4.5 .1-3.3 .1-.4 .1 2.0 .1-1.2 .1 1.8 .1-2.0 .1 .8 .1-.3 .1 .1 .1-.5 .1 .1 .1 2.2 .1-2.9 .1 .2 .1 .2 .1 1.2 .1-.2 .1 .6 .1-2.8 .1 2.0 .1-.5 .1-.2 .1 .6 .1-2.7 .1 2.8 .1-.1 .1-2.0 .1 1.7 .1 2.0 .1-2.4 .1 1.2 .1-1.0 .1-.7 .1-.1 .1 .6 .1 2.1 .1-.6 .1-1.9 .1 2.2 .1-1.4 .1-.7 .1 1.4 .1-1.7 .1-.8 .1 3.5 .1-3.8 .1 2.9 .1-2.5 .1 1.8 .1-.2 .1-.3 .1-2.2 .1 2.6 .1 .1 .1-1.1 .1 1.1 .1 1.3 .1-2.1 .1 1.2 .1-1.7 .1 1.8 .1 .4 .1 2.2 .1-1.9 .1-.6 .1 1.2 .1-2.9 .1 2.5 .1-2.0 .1-.1 .1 2.2 .1-1.1 .1 1.3 .1-3.4 .1 2.1 .1-.9 .1 .3 .1-2.0 .1 3.5 .1-.9 .1-1.5 .1-.4 .1 .6 .1 2.8 .1-1.9 .1-.3 .1 1.1 .1-.6 .1 .2 .1 .7 .1-.5 .1 .6 .1-2.5 .1 1.5 .1-.5 .1 .6 .1-.2 .1-.7 .1 .4 .1 1.5 .1-1.8 .1-.8 .1 2.2 .1 .5 .1-1.5 .1 .5 .1-1.2 .1 .8 .1 1.6 .1-.4 .1-.8 .1-.5 .1-1.7 .1 2.4 .1 .2 .1 .7 .1 1.2 .1-2.0 .1 .7 .1-2.5 .1 2.8 .1-.4 .1 .6 .1-.8 .1-.3 .1 1.3 .1-2.7 .1 1.7 .1 .5 .1-2.3 .1-.4 .1 1.9 .1-.4 .1 .6 .1 .1 .1-1.7 .1 1.3 .1 1.0 .1-1.8 .1 .1 .1-1.1 .1 2.4 .1 1.4 .1-4.1 .1 2.6 .1 .2 .1-1.8 .1 .3 .1-.9 .1 .4 .1 1.1 .1 .6 .1-.6 .1 .9 .1-.8 .1-1.7 .1 3.2 .1-.3 .1-2.3 .1 3.0 .1-1.6 .1-.4 .1 2.2 .1-5.4 .1 1.1 .1 2.8 .1-1.1 .1-.9 .1 3.0 .1-1.2 .1-2.2 .1 .8 .1 1.8 .1 1.2 .1-4.7 .1 2.8 .1-.8 .1-1.6 .1 1.9 .1-1.8 .1 1.3 .1 2.7 .1-1.4 .1 .4 .1-.3 .1-.3 .1 .8 .1-2.6 .1 1.0 .1 1.5 .1-2.0 .1 .4 .1 2.0 .1 .4 .1-2.6 .1-.3 .1 1.8 .1-.4 .1-1.2 .1 1.6 .1-.1 .1-.5 .1 3.4 .1-1.9 .1-.6 .1 .2 .1 2.4 .1-2.3"/>
<path stroke="#1A6FDF" stroke-width="1.25" d="M83.4 308.7l.1-13.1 .1-10.2 .1-10.7 .1-11.3 .1-13.4 .1-13.0 .1-13.3 .1-14.5 .1-11.9 .1-12.0 .1-17.4 .1-11.4 .1-5.7 .1-11.9 .1-3.4 .1-6.3 .1-1.4"/>
<path stroke="#1A6FDF" d="M64.4 319.6l.1 1.2 .1-.3 .1-.7 .1 1.0 .1 0 .1-.4 .1-.5 .1 1.6 .1-2.6 .1 2.6 .1-1.0 .1 .3 .1-1.9 .1 3.0 .1-3.0 .1 .5 .1 1.8 .1-1.5 .1 .3 .1-1.1 .1 1.0 .1 .8 .1 .6 .1-1.2 .1 .6 .1 .3 .1-1.4 .1-.1 .1 2.4 .1-2.5 .1 2.6 .1-1.5 .1 1.8 .1-2.6 .1 1.4 .1-.2 .1-.7 .1 .6 .1-1.3 .1 .9 .1-.4 .1 1.4 .1-1.1 .1-1.5 .1 1.2 .1 .3 .1-.9 .1 2.7 .1-1.1 .1 .5 .1-2.0 .1 .5 .1 1.7 .1-3.0 .1 2.2 .1-.3 .1-.8 .1 .8 .1-1.5 .1 1.6 .1-1.7 .1-.1 .1 3.3 .1-2.6 .1-1.7 .1 3.8 .1-2.2 .1-3.4 .1 4.3 .1 1.2 .1-.7 .1 1.7 .1-2.3 .1 .9 .1-2.0 .1 1.5 .1 1.6 .1-1.2 .1-.4 .1-2.7 .1 2.0 .1-1.1 .1 2.5 .1-1.9 .1 1.4 .1-1.7 .1 3.6 .1-3.8 .1 1.6 .1 3.1 .1-3.0 .1-1.3 .1 1.8 .1 .5 .1-.2 .1-3.5 .1 2.7 .1-2.9 .1 5.0 .1-2.3 .1-.6 .1 1.4 .1-.2 .1-2.1 .1 3.5 .1-2.3 .1-1.9 .1 3.9 .1 .2 .1-.4 .1-.9 .1-1.7 .1 2.2 .1 1.2 .1-1.3 .1 .9 .1-2.9 .1 2.2 .1-.1 .1-3.0 .1-.1 .1 1.1 .1 1.0 .1 .4 .1-.8 .1 .2 .1-.1 .1 .3 .1 .6 .1-.1 .1-.7 .1 .4 .1-.9 .1 1.6 .1-1.7 .1 2.7 .1-2.1 .1 .4 .1-1.3 .1 .5 .1 .7 .1-.2 .1-.8 .1-.7 .1 1.5 .1 .2 .1 .4 .1 .9 .1-1.9 .1-2.1 .1 2.3 .1-2.1 .1 .7 .1 2.8 .1-.5 .1-1.5 .1 0 .1 .7 .1-2.1 .1 2.8 .1-1.1 .1 2.8 .1-3.6 .1 2.5 .1-2.1 .1 2.1 .1-2.4 .1 2.1 .1-1.5 .1-.5 .1 .9 .1 .8 .1-.1 .1 1.4 .1-.9 .1-4.3 .1 2.8 .1-2.0 .1 2.0 .1 1.2 .1-2.4 .1 .2 .1 1.6 .1-.5 .1 2.3 .1-1.5 .1 .2 .1 1.5 .1-2.8 .1-11.1"/>
<path stroke="#1A6FDF" d="M85.1 127.8l.1-3.7 .1-4.1 .1-2.2 .1-3.8 .1-1.9 .1-.8 .1-3.0 .1-4.1 .1-2.0 .1-.9 .1-1.5 .1-1.0 .1-2.2 .1 .3 .1-2.0 .1-.7 .1-1.6 .1-.3 .1-3.2 .1 2.4 .1-2.5 .1-.8 .1-.7 .1-.3 .1-1.2 .1-1.5 .1-1.3 .1-2.6 .1 1.5 .1-1.4 .1-.7 .1 2.6 .1-6.1 .1 1.7 .1 .6 .1-1.1 .1-.4 .1-3.9 .1-.5 .1 1.2 .1-2.0 .1 1.7 .1-2.6 .1-.8 .1-.4 .1-1.6 .1-.2 .1-1.7 .1 .2 .1-1.1 .1 .4 .1-2.5 .1-.5 .1 2.1 .1-.5 .1-1.7 .1 .7 .1-1.3 .1 3.7 .1-4.7 .1 3.9 .1-3.4 .1 1.4 .1-1.1 .1-.3 .1 1.5 .1-.3 .1-1.6 .1-.9 .1 3.6 .1-1.0 .1-1.7 .1-.7 .1 .6 .1-.4 .1 1.3 .1-2.7 .1 1.1 .1-1.0 .1 2.5 .1 .6 .1-2.4 .1 .7 .1 1.1 .1-2.2 .1-.8 .1 2.5 .1-.7 .1-.9 .1 2.1 .1-1.5 .1-2.6 .1 2.7 .1-.4 .1 2.4 .1-2.3 .1-.2 .1 .8 .1-.1 .1-2.1 .1 2.0 .1-.6 .1 2.3 .1 1.2 .1-4.3 .1 .2 .1 .3 .1 .3 .1 0 .1 1.0 .1 1.4 .1-2.9 .1-.2 .1-.3 .1 3.8 .1 .3 .1-3.4 .1-.1 .1 2.3 .1 1.4 .1 0 .1-.9 .1 .8 .1-.2 .1-.8 .1 3.5 .1-2.1 .1-.9 .1 1.2 .1-.9 .1 2.4 .1 1.8 .1-2.4 .1 3.4 .1 1.7 .1-1.7 .1-1.6 .1 .8 .1 1.0 .1-.8 .1 .4 .1 1.6 .1 .4 .1 1.4 .1-2.0 .1 4.2 .1-.6 .1 .1 .1-1.6 .1 3.3 .1-2.2 .1 3.0 .1-.6 .1-2.1 .1 .9 .1 3.2 .1-.7 .1-1.1 .1 .8 .1 .3 .1-.9 .1 1.1 .1-.3 .1 .6 .1 1.5 .1-1.4 .1 2.4 .1-.4 .1 1.1 .1 .5 .1 .8 .1-.4 .1 .4 .1-.7 .1 1.3 .1-1.5 .1 1.1 .1 1.6 .1-.6 .1 .9 .1-1.5 .1 3.4 .1-2.1 .1 1.5 .1-.2 .1 1.6 .1-1.3 .1-.4 .1-.8 .1 2.3 .1-.8 .1 2.6 .1 1.4 .1-4.2 .1 1.5 .1 2.4 .1 1.5 .1-.8 .1 .4 .1 .5 .1 .5 .1 1.7 .1-.9 .1-2.0 .1 1.3 .1 1.3 .1-.9 .1 1.0 .1 .1 .1 .1 .1 2.2 .1-1.0 .1-.5 .1 .9 .1 1.3 .1 3.0 .1-1.9 .1 2.0 .1-.9 .1-2.9 .1 3.6 .1-1.1 .1-.2 .1 .7 .1 4.0 .1-3.8 .1 1.7 .1 2.6 .1-.2 .1-2.5 .1 2.4 .1-.1 .1 .9 .1 1.6 .1-1.3 .1 .8 .1 2.7 .1-3.7 .1 2.2 .1 1.6 .1-1.7 .1 1.2 .1-.4 .1 2.3 .1-.5 .1 2.3 .1 .7 .1-.7 .1-.1 .1 1.3 .1 .2 .1-1.2 .1 3.4 .1-.6 .1 1.1 .1-2.2 .1 3.3 .1 2.0 .1-1.4 .1-2.2 .1 2.4 .1 .3 .1 .8 .1-.1 .1 1.4 .1-.7 .1 1.3 .1-.6 .1 1.4 .1 1.6 .1-1.4 .1 1.9 .1-1.4 .1 1.1 .1 .6 .1 2.3 .1-2.0 .1 2.9 .1-2.9 .1 2.1 .1 1.8 .1 .2 .1-1.7 .1 .2 .1 3.1 .1-2.2 .1 2.7 .1-.9 .1 1.1 .1 3.3 .1-.5 .1-.4 .1-2.4 .1 2.6 .1 0 .1 .3 .1 2.2 .1-3.4 .1 3.0 .1 .1 .1-.6 .1 3.5 .1-3.4 .1 2.1 .1 .5 .1-2.5 .1 1.4 .1 1.0 .1 2.6 .1 .6 .1 0 .1-.1 .1-2.7 .1 3.5 .1-.5 .1 2.5 .1 .6 .1 1.5 .1-1.5 .1 .5 .1-1.9 .1 1.8 .1-1.3 .1 3.1 .1-2.3 .1 1.6 .1-.4 .1 .9 .1 1.5 .1-.9 .1 1.4 .1-1.2 .1 3.4 .1-2.2 .1 2.5 .1 1.8 .1-5.4 .1 2.2 .1 1.3 .1 2.1 .1-1.7 .1 1.5 .1-1.1 .1 2.0 .1-1.9 .1 3.0 .1-4.5 .1 1.7 .1 5.1 .1-1.8 .1-1.0 .1 4.3 .1-1.1 .1 .5 .1-1.7 .1 1.7 .1 .2 .1-2.4 .1 3.2 .1-.7 .1 2.3 .1 .3 .1-2.1 .1 .4 .1 1.3 .1 1.0 .1-1.0 .1 .7 .1 1.2 .1 .1 .1 1.3 .1-.8 .1-1.1 .1-.8 .1 3.6 .1-1.1 .1 .3 .1 .4 .1-1.3 .1 1.8 .1-2.5 .1 3.2 .1-.4 .1 3.8 .1-1.4 .1-.6 .1 .8 .1 1.0 .1-1.6 .1 1.0 .1 .1 .1 3.9 .1-2.8 .1-2.3 .1 3.8 .1 2.5 .1-4.3 .1 5.9 .1-4.3 .1 1.6 .1-1.8 .1 .6 .1-1.0 .1 .4 .1-1.1 .1 4.4 .1-2.8 .1 2.2 .1 .1 .1-1.0 .1 1.1 .1 0 .1-.3 .1 .9 .1 .2 .1-1.2 .1-.1 .1 .8 .1 1.4 .1 1.9 .1 .3 .1-1.2 .1 1.0 .1-.8 .1 1.6 .1-1.0 .1 .6 .1-.6 .1 .6 .1 2.8 .1-3.7 .1 1.9 .1-.4 .1 2.4 .1 1.6 .1-2.3 .1-2.7 .1 4.9 .1 .5 .1-2.4 .1 2.4 .1 .8 .1-2.4 .1 4.4 .1 .2 .1 .2 .1-1.2 .1 .9 .1 .5 .1 1.8 .1-1.5 .1 3.5 .1-1.1 .1-3.0 .1 5.3 .1-1.7 .1-.6 .1 1.1 .1-2.2 .1 2.9 .1-3.2 .1 2.1 .1 3.3 .1 .2 .1-1.9 .1-.5 .1 2.7 .1-1.1 .1 .6 .1 .7 .1-2.0 .1 2.7 .1-3.6 .1 4.9 .1-3.8 .1 1.5 .1 .1 .1 2.0 .1 .2 .1-.3 .1 .4 .1 .1 .1-.5 .1-2.2 .1-.4 .1 .2 .1 3.1 .1-.1 .1 .3 .1 .6 .1-.4 .1-.8 .1-.6 .1-.3 .1 4.2 .1-.3 .1-2.8 .1 1.6 .1 1.0 .1 1.7 .1-2.8 .1 1.2 .1 1.4 .1-3.6 .1 1.4 .1 1.0 .1-.7 .1 3.8 .1-1.5 .1-.8 .1-1.3 .1 2.5 .1-.2 .1-1.4 .1 .2 .1-1.2 .1 2.0 .1 1.3 .1 .3 .1-.4 .1 .5 .1-1.8 .1 .3 .1 2.3 .1-.8 .1-1.5 .1 1.8 .1 .6 .1 0 .1-.7 .1-.6 .1 1.3 .1 1.8 .1-1.8 .1-1.0 .1 1.5 .1-1.9 .1 2.1 .1-.6 .1 1.8 .1-.9 .1 1.4 .1 1.8 .1-3.2 .1-.6 .1 1.8 .1-.5 .1 .4 .1-.8 .1 1.7 .1-.5 .1-2.7 .1 2.6 .1 .9 .1 1.3 .1-2.1 .1-.1 .1 2.7 .1-2.2 .1 1.1 .1 .7 .1 .5 .1-.8 .1-1.3 .1 3.0 .1-1.7 .1 0 .1 3.5 .1-1.3 .1-2.3 .1 .9 .1 .5 .1-.5 .1-1.3 .1 3.7 .1 .2 .1-.5 .1-.7 .1 1.0 .1 .8 .1-2.0 .1 1.1 .1-.1 .1 1.8 .1-.3 .1-1.8 .1 1.1 .1 3.3 .1-3.3 .1 1.7 .1-.8 .1 2.7 .1-1.4 .1-.2 .1-.7 .1 1.4 .1 1.7 .1 .1 .1-2.4 .1 4.0 .1-2.0 .1-.8 .1 1.8 .1-.7 .1 .3 .1 .2 .1 1.0 .1-.3 .1-1.3 .1 3.1 .1-1.1 .1 2.5 .1-.7 .1 .4 .1-.4 .1 1.7 .1-1.9 .1-.7 .1 2.0 .1-3.8 .1 3.3 .1 .9 .1-.6 .1 2.3 .1-.5 .1-.5 .1-.5 .1 2.1 .1-2.1 .1 .5 .1 1.7 .1 0 .1 2.0 .1-2.7 .1-2.0 .1 3.5 .1 .9 .1-1.6 .1 2.4 .1 .4 .1-3.0 .1 .5 .1-.9 .1 2.5 .1 .4 .1 .1 .1-2.2 .1 .7 .1-.7 .1 0 .1 .5 .1-.1 .1 1.9 .1 1.0 .1 .4 .1-.6 .1-.7 .1 1.1 .1 .9 .1-1.0 .1 .7 .1-.3 .1-.1 .1 .9 .1-1.3 .1 3.0 .1-3.2 .1 2.8 .1-2.1 .1 3.9 .1-.7 .1-1.9 .1 .6 .1-.6 .1 1.5 .1 .9 .1 2.9 .1-4.8 .1 3.6 .1-2.2 .1 1.4 .1 1.0 .1-.2 .1 0 .1-.6 .1 .5 .1 .4 .1 1.6 .1-3.2 .1 1.5 .1-.8 .1 .6 .1 .5 .1 2.6 .1 1.6 .1-.8 .1-3.1 .1 1.9 .1-1.4 .1 2.3 .1 1.3 .1-.7 .1 .6 .1-1.1 .1-2.2 .1 .2 .1 2.6 .1 1.1 .1 1.1 .1-1.9 .1 .7 .1 .5 .1 1.2 .1-1.3 .1-1.1 .1 3.0 .1-.7 .1 .2 .1-2.0 .1 1.9 .1-2.1 .1-.1 .1 2.4 .1 0 .1 1.4 .1 1.3 .1-1.7 .1 2.5 .1-2.8 .1 1.9 .1-2.5 .1 2.0 .1-.4 .1 .3 .1 1.2 .1-3.1 .1 2.8 .1-1.1 .1 1.4 .1 .5 .1-.9 .1 .2 .1-.9 .1 2.3 .1-1.4 .1 1.5 .1-2.3 .1 3.8 .1-3.0 .1 2.9 .1-1.9 .1 1.4 .1-.8 .1 1.2 .1-.8 .1 1.8 .1-.7 .1 .1 .1 1.4 .1-2.9 .1 2.7 .1-1.5 .1-1.9 .1 2.6 .1-.7 .1 2.5 .1-2.7 .1 .8 .1 .3 .1-2.6 .1 3.2 .1-1.8 .1 3.2 .1 .4 .1-2.1 .1-1.9 .1 2.4 .1 .1 .1 .8 .1-1.3 .1-1.0 .1 1.4 .1-.9 .1 3.6 .1-3.1 .1 .1 .1 .9 .1-1.4 .1 1.1 .1 .5 .1-.4 .1 .4 .1 2.0 .1-.9 .1-2.2 .1 1.2 .1 1.6 .1-1.7 .1 1.0 .1 0 .1 .8 .1-.8 .1 .1 .1-.8 .1 1.6 .1-1.5 .1 3.5 .1-2.2 .1-.1 .1 1.4 .1-1.1 .1 .3 .1 0 .1-.8 .1-.2 .1 .4 .1 2.4 .1-2.1 .1 .3 .1 .1 .1 1.5 .1 1.8 .1-3.7 .1 2.0 .1-.5 .1-.4 .1 1.1 .1-2.2 .1 2.8 .1-.7 .1-1.5 .1 3.4 .1-.8 .1 .5 .1-3.3 .1 1.6 .1-.2 .1 1.5 .1 1.0 .1-4.1 .1 2.6 .1-.1 .1 1.5 .1-1.2 .1-1.5 .1 1.4 .1-1.0 .1 .4 .1 1.2 .1-.6 .1 1.0 .1-2.2 .1 5.0 .1-1.3 .1-.6 .1-2.5 .1-1.0 .1 1.7 .1 .9 .1 3.2 .1-1.1 .1-2.2 .1 2.3 .1 .1 .1-1.5 .1 1.6 .1-1.0 .1-1.2 .1-.6 .1 1.4 .1 1.5 .1-2.9 .1-.2 .1 2.8 .1-4.1 .1 5.9 .1-2.8 .1 1.6 .1 1.5 .1-4.2 .1 .6 .1 4.3 .1-3.1 .1 .2 .1 .6 .1 1.1 .1 .4 .1-1.4 .1-.5 .1 .4 .1 .5 .1 1.4 .1-1.4 .1 2.2 .1-3.3 .1 1.8 .1 1.7 .1-.5 .1-1.2 .1-1.5 .1 .3 .1 .8 .1 .7 .1-.6 .1-1.5 .1 1.0 .1 1.7 .1 .4 .1-2.7 .1 1.4 .1-1.6 .1 1.5 .1 5.3 .1-4.4 .1-.4 .1-.3 .1-.7 .1-.7 .1 2.4 .1-.3 .1 2.4 .1-3.9 .1 2.7 .1 1.2 .1-4.1 .1 3.4 .1-2.8 .1 2.8 .1 1.3 .1-1.9 .1 .5 .1-1.2 .1 1.3 .1 1.2 .1-1.6 .1 .1 .1 .8 .1 .6 .1-3.1 .1 2.3 .1-.9 .1 1.6 .1 .7 .1-.8 .1 1.3 .1-2.8 .1 .8 .1-.7 .1 1.4 .1 .2 .1-.3 .1-1.3 .1 1.6 .1-.4 .1 1.4 .1-1.1 .1 1.9 .1-1.1 .1-2.6 .1 2.2 .1-1.5 .1 3.1 .1 .7 .1-1.8 .1 .7 .1-2.4 .1-.9 .1 2.2 .1 .5 .1-1.6 .1 2.2 .1 .3 .1 .5 .1 1.2 .1-.8 .1-1.5 .1 .7 .1 .7 .1-2.0 .1 3.1 .1-.5 .1-1.4 .1-.4 .1 5.7 .1-3.7 .1 .2 .1 1.2 .1-1.0 .1-.9 .1 .7 .1-2.0 .1 2.2 .1-2.8 .1 2.6 .1 .2 .1-2.6 .1 4.5 .1-3.9 .1 2.9 .1-1.9 .1 1.1 .1-1.2 .1 4.2 .1-1.8 .1 1.0 .1-1.2 .1-.1 .1-.6 .1-.4 .1 1.1 .1-.5 .1-.3 .1-1.5 .1 1.5 .1 1.2 .1-1.3 .1 1.1 .1-.5 .1-1.1 .1 .2 .1 .3 .1 .6 .1 .2 .1 1.8 .1-2.8 .1-1.1 .1 3.5 .1-1.4 .1 .5 .1 3.5 .1-1.3 .1-1.0 .1 .5 .1-1.0 .1 1.1 .1-1.9 .1-.1 .1 .4 .1 2.7 .1 0 .1-2.7 .1 2.3 .1-1.6 .1 1.7 .1-1.8 .1 1.7 .1-1.3 .1-.1 .1 .4 .1 .3 .1-.9 .1-1.0 .1 4.0 .1-2.6 .1-1.8 .1-.5 .1-.6 .1 2.9 .1 2.6 .1-3.8 .1 1.7 .1-1.9 .1 3.9 .1-.9 .1 0 .1 1.4 .1 .4 .1-.7 .1-2.1 .1-.9 .1 .5 .1-.9 .1 4.6 .1-2.5 .1 .5 .1 .1 .1 2.4 .1-3.3 .1 2.3 .1-1.0 .1-.6 .1-2.2 .1 3.7 .1-2.1 .1 .4 .1 1.0 .1-.2 .1 1.4 .1-2.2 .1 1.1 .1 .2 .1-.3 .1 .9 .1-1.2 .1 2.0 .1-2.5 .1-.8 .1 1.8 .1 1.6 .1-2.1 .1-.1 .1 .4 .1 .7 .1-.4 .1 .7 .1-2.6 .1 4.2 .1-1.1 .1-1.8 .1 2.9 .1-1.2 .1 1.4 .1-3.4 .1 3.7 .1-2.0 .1-2.7 .1 3.7 .1-1.3 .1-.9 .1 1.1 .1-2.2 .1 3.3 .1-1.0 .1 0 .1 2.2 .1-1.7 .1-.9 .1-.3 .1 1.2 .1 1.5 .1-2.1 .1-.6 .1 2.6 .1-1.1 .1 0 .1 2.7 .1-4.2 .1 1.9 .1-2.5 .1 1.9 .1 1.2 .1 .7 .1-3.0 .1 2.8 .1-.1 .1-1.1 .1 3.4 .1-3.2 .1-1.1 .1 1.8 .1-2.9 .1 4.4 .1-.7 .1-1.7 .1 1.3 .1-.1 .1 1.9 .1-3.3 .1-.8 .1-.9 .1 2.3 .1-1.6 .1 1.8 .1 .8 .1-1.1 .1-.6 .1 2.8 .1-1.7 .1 .6 .1 .9 .1-2.8 .1 .5 .1 4.4 .1-3.3 .1-1.2 .1 1.1 .1-.4 .1-.8 .1 1.1 .1 .6 .1 0 .1 .7 .1-2.8 .1 .3 .1 3.0 .1-1.6 .1 2.2 .1-1.1 .1-2.2 .1 2.5 .1-1.9 .1 1.7 .1 1.2 .1 1.2 .1-2.7 .1 1.0 .1-.5 .1 .7 .1-4.3 .1 2.8 .1 .9 .1 .3 .1-1.5 .1 2.0 .1 .4 .1-1.3 .1-.3 .1-.1 .1 .6 .1 1.4 .1 .5 .1-2.5 .1-.6 .1 .2 .1 2.3 .1-.9 .1 .1 .1 .3 .1-.1 .1-.6 .1-1.1 .1 .5 .1 1.0 .1 .4 .1-.9 .1-.1 .1 2.4 .1-2.4 .1 1.0 .1-.7 .1-.6 .1-.9 .1 1.3 .1-.3 .1 2.2 .1-2.5 .1 .9 .1 1.4 .1-.9 .1 .8 .1 .5 .1-3.2 .1 1.7 .1-.7 .1 3.0 .1-1.9 .1 .9 .1 1.5 .1-2.5 .1 .5 .1 .5 .1-.8 .1 2.0 .1-.6 .1 .3 .1-1.2 .1-.4 .1 0 .1 0 .1-1.6 .1 2.6 .1 .6 .1-1.0 .1-.6 .1 .7 .1 .3 .1 .2 .1 1.9 .1-3.4 .1 1.6 .1 .5 .1-.8 .1-.3 .1-1.0 .1 .6 .1 1.7 .1 1.0 .1-2.7 .1 1.5 .1 .1 .1 .6 .1-.9 .1 .3 .1 .6 .1-2.6 .1 1.6 .1-2.3 .1-.2 .1 1.5 .1-.9 .1 2.6 .1 .7 .1-1.6 .1 .2 .1-.1 .1 0 .1 .6 .1 .3 .1-1.0 .1-.4 .1 .4 .1 1.7 .1-1.5 .1 2.4 .1-2.1 .1 2.0 .1-3.2 .1 .7 .1 1.5 .1 .1 .1-.8 .1 2.8 .1-2.5 .1 .3 .1-1.0 .1 2.8 .1-.9 .1-.6 .1-2.5 .1 2.5 .1-1.0 .1 1.1 .1 .7 .1-2.0 .1 1.2 .1 .9 .1-.9 .1-.6 .1-.9 .1 .6 .1-.8 .1 2.9 .1-1.1 .1-1.6 .1 1.6 .1-1.6 .1-2.5 .1 5.7 .1 0 .1-3.3 .1 1.0 .1 1.2 .1-.7 .1-.6 .1 .5 .1 .3 .1-.3 .1 1.0 .1-.6 .1-.6 .1 1.0 .1-2.1 .1 4.0 .1-4.0 .1 2.1 .1 .6 .1 .1 .1-.2 .1 1.3 .1-2.9 .1 1.3 .1 .3 .1-.8 .1 0 .1 2.3 .1-2.4 .1 .3 .1 .3 .1 .1 .1 .5 .1-.4 .1 .7 .1-.3 .1 .5 .1 1.2 .1-2.8 .1 3.2 .1-2.6 .1 1.4 .1-.6 .1-.5 .1-2.1 .1 4.5 .1-2.9 .1 0 .1 2.3 .1-1.2 .1 2.3 .1-.2 .1-1.2 .1-.6 .1 .7 .1-2.6 .1 1.9 .1 0 .1-.7 .1 .9 .1-2.1 .1 3.0 .1 .5 .1-3.2 .1 1.8 .1 1.8 .1-1.4 .1-1.7 .1 0 .1 2.4 .1 1.2 .1-3.6 .1 1.4 .1-.9 .1 .6 .1 .8 .1-.4 .1-.8 .1 3.5 .1-2.8 .1 0 .1 1.6 .1-1.3 .1-.2 .1 1.4 .1-2.4 .1 2.2 .1 .4 .1-.4 .1-1.0 .1 .2 .1-2.1 .1 2.0 .1 .6 .1 .7 .1-.9 .1-.6 .1-.5 .1 1.0 .1 .2 .1 1.4 .1-1.5 .1-.6 .1 .5 .1-.4 .1 .3 .1-2.4 .1 .8 .1 .5 .1 2.1 .1-.6 .1 .3 .1 1.3 .1-2.7 .1 2.7 .1-.9 .1-1.3 .1 2.7 .1-3.6 .1 .4 .1 1.2 .1 .8 .1-.7 .1-2.4 .1 2.3 .1 .3 .1 3.3 .1-1.5 .1-1.5 .1-1.5 .1 1.8 .1-1.8 .1 1.7 .1 .3 .1-1.0 .1 .9 .1-.7 .1-.3 .1 2.6 .1-1.1 .1-1.1 .1-.5 .1 1.2 .1 .5 .1 .3 .1 .8 .1-1.2 .1-1.9 .1 3.9 .1-1.0 .1-.4 .1 .6 .1-3.4 .1 1.4 .1-.2 .1 2.2 .1-2.9 .1 1.0 .1 2.3 .1-1.0 .1-1.3 .1 2.9 .1-4.0 .1 2.3 .1-.9 .1 1.0 .1-1.0 .1-.6 .1 1.3 .1-1.9 .1 2.3 .1-1.0 .1 1.6 .1-1.7 .1-.3 .1 1.4 .1 1.0 .1-4.0 .1 2.7 .1 .7 .1-2.5 .1 .7 .1 1.9 .1-1.8 .1 .2 .1 3.0 .1-3.3 .1 .1 .1-1.7 .1 1.5 .1-.1 .1 3.6 .1-.6 .1-3.0 .1 4.0 .1-1.4 .1-1.2 .1 1.3 .1-.6 .1-1.3 .1-1.2 .1 1.0 .1 1.2 .1-.4 .1-.5 .1 2.2 .1-2.5 .1 2.4 .1-1.7 .1 .8 .1-1.5 .1 1.4 .1-.9 .1-1.2 .1 2.1 .1 0 .1 1.1 .1-.6 .1-1.6 .1 .5 .1-2.2 .1 1.7 .1 3.0 .1 .3 .1-.9 .1-.6 .1 .4 .1-.1 .1-2.7 .1 1.1 .1 2.5 .1 0 .1-1.1 .1-.7 .1 0 .1-.2 .1-.4 .1-1.3 .1 2.6 .1-.7 .1 .3 .1 2.4 .1-1.3 .1-1.6 .1 1.6 .1-2.5 .1 3.1 .1-.9 .1-.6 .1 1.0 .1 1.1 .1-2.3 .1-.7 .1 3.9 .1-2.6 .1 1.9 .1-2.7 .1 1.4 .1-1.3 .1 1.6 .1-1.1 .1-.5 .1 2.8 .1-1.5 .1-2.9 .1 2.3 .1-.8 .1-.4 .1 .8 .1 .2 .1 .6 .1-1.0 .1-1.3 .1 1.7 .1 1.8 .1-2.8 .1 2.5 .1-.2 .1-1.1 .1 1.0 .1-1.3 .1 .4 .1-.7 .1 1.8 .1 1.2 .1-2.5 .1 2.3 .1-4.1 .1 1.6 .1-.2 .1 3.4 .1-2.8 .1 1.7 .1-3.5 .1 2.7 .1 .6 .1-.7 .1-3.3 .1 3.6 .1 .8 .1 .7 .1-1.2 .1-2.5 .1 1.8 .1 1.4 .1-2.1 .1 1.8 .1-1.3 .1 .7 .1 .9 .1-1.8 .1 4.4 .1-3.3 .1 .2 .1-1.3 .1 1.0 .1-.4 .1-1.4 .1-.1 .1 2.3 .1-.5 .1-3.1 .1 .6 .1 2.3 .1 .3 .1 .9 .1-2.3 .1 2.3 .1-1.1 .1-.2 .1 .5 .1 1.4 .1-.5 .1 .4 .1-1.9 .1 .5 .1-1.1 .1 .8 .1 .2 .1 0 .1 1.5 .1-.4 .1 .5 .1-.8 .1 1.2 .1-1.2 .1 1.1 .1-.6 .1 .4 .1-1.0 .1-1.5 .1-.2 .1 4.3 .1-2.0 .1 .1 .1-.7 .1-.4 .1 4.2 .1-5.0 .1 1.4 .1 0 .1-1.3 .1-.2 .1 .8 .1 .4 .1-.1 .1 1.6 .1-2.4 .1 2.0 .1 1.3 .1-.7 .1-2.5 .1-2.3 .1 4.8 .1-.4 .1-1.3 .1 2.3 .1-2.1 .1 .7 .1-1.4 .1 1.7 .1-.9 .1-.1 .1 2.0 .1-1.1 .1-2.1 .1 2.8 .1 .2 .1-2.1 .1 .6 .1 .6 .1-.4 .1 .5 .1 .7 .1-1.4 .1 3.2 .1-3.5 .1 .3 .1 3.1 .1 .6 .1-2.9 .1-.3 .1-1.1 .1 2.8 .1-1.2 .1-1.2 .1 1.5 .1 1.3 .1-.9 .1 2.0 .1-1.3 .1-.9 .1-.6 .1 .8 .1 .8 .1-.4 .1 .3 .1-1.1 .1 .7 .1 .6 .1-1.7 .1-1.4 .1 3.8 .1-1.4 .1-1.2 .1 .8 .1-.6 .1-1.8 .1 2.0 .1-1.6 .1 2.1 .1-.4 .1 1.6 .1-1.6 .1 .7 .1-.8 .1-.1 .1-1.3 .1 3.0 .1-1.0 .1-.9 .1 1.0 .1-.7 .1-.4 .1 1.2 .1 1.3 .1-1.9 .1-1.4 .1 1.0 .1 3.1 .1-3.3 .1 2.6 .1-1.8 .1 1.2 .1-1.0 .1-1.8 .1 1.5 .1 3.1 .1-2.7 .1 .8 .1-1.1 .1 .3 .1 .6 .1 .2 .1 2.2 .1-2.8 .1-.1 .1-.6 .1-.8 .1-.4 .1 2.9 .1-3.1 .1 4.1 .1-.7 .1-1.4 .1-1.1 .1 1.5 .1 0 .1 1.4 .1-2.3 .1 .5 .1 .4 .1-.2 .1-.4 .1-1.4 .1 .1 .1 1.2 .1 .6 .1 1.6 .1 1.6 .1-.7 .1-1.6 .1 1.9 .1-2.5 .1-.5 .1 3.6 .1-4.2 .1 .8 .1 .2 .1 2.2 .1-2.6 .1 1.8 .1-1.5 .1-1.0 .1 1.9 .1-.1 .1-1.6 .1 .3 .1 .1 .1 2.3 .1-.6 .1-.3 .1 .3 .1-1.2 .1 1.3 .1-1.4 .1-.9 .1 .8 .1 1.2 .1-.1 .1 1.2 .1-3.4 .1 1.8 .1 .8 .1-1.6 .1 1.5 .1-.8 .1-.9 .1 2.8 .1-3.1 .1 3.0 .1-1.7 .1-.6 .1 0 .1 .2 .1-.1 .1 1.4 .1-2.6 .1 3.9 .1-.5 .1 .7 .1-2.9 .1-1.7 .1 2.2 .1 .6 .1 .6 .1-1.0 .1 .5 .1 .3 .1-2.1 .1 4.2 .1-3.6 .1 1.8 .1 1.0 .1-2.3 .1 1.0 .1 2.0 .1-2.3 .1 1.7 .1-1.0 .1 0 .1 .6 .1-1.2 .1 .1 .1 1.5 .1-.9 .1 .3 .1-2.1 .1 1.6 .1 1.5 .1-.4 .1-.7 .1-1.0 .1-.1 .1 1.3 .1 1.3 .1-1.7 .1 1.6 .1-2.0 .1 1.9 .1-2.8 .1 1.5 .1-1.5 .1 2.2 .1-.1 .1-1.9 .1 .3 .1 .4 .1-1.3 .1 .7 .1 .1 .1 2.1 .1 .8 .1-2.3 .1 .2 .1 .7 .1-.9 .1 .3 .1 1.4 .1-.7 .1-.4 .1-.6 .1 2.6 .1-2.6 .1 .9 .1-1.4 .1 .6 .1 .9 .1-.6 .1 1.1 .1-.5 .1-1.8 .1-1.1 .1 4.1 .1-2.0 .1 2.6 .1-1.8 .1-.9 .1 1.7 .1-1.1 .1 .4 .1-1.1 .1 1.9 .1 .6 .1-2.0 .1 2.9 .1-2.9 .1 1.0 .1-2.3 .1-.3 .1 5.0 .1-.8 .1-.3 .1-3.6 .1 2.5 .1 .2 .1-.4 .1 .3 .1-1.5 .1 1.0 .1-1.2 .1 1.0 .1 .9 .1-1.4 .1 .6 .1-.1 .1 .5 .1 1.2 .1-.9 .1 .3 .1-2.3 .1 1.3 .1 1.5 .1-2.0 .1 .5 .1-.6 .1 2.9 .1-2.2 .1-.4 .1 1.7 .1 .6 .1-.7 .1 .6 .1-.9 .1-.4 .1-.4 .1-.1 .1 0 .1 1.2 .1-.6 .1 .3 .1 .6 .1-.8 .1-1.6 .1 .7 .1-.4 .1-.9 .1 2.5 .1-1.6 .1-.1 .1 .3 .1 2.4 .1-1.4 .1 1.6 .1-1.3 .1-.4 .1 1.2 .1 .1 .1-.6 .1-1.4 .1 .7 .1-.9 .1 1.2 .1 .5 .1 1.7 .1-.1 .1-.9 .1 .4 .1-.9 .1 3.2 .1-1.5 .1 1.4 .1-2.8 .1 0 .1 .8 .1-1.0 .1 .1 .1-1.6 .1 2.5 .1-1.0 .1 .8 .1-1.2 .1-2.0 .1 2.9 .1 .8 .1-3.0 .1 .4 .1 .8 .1 .1 .1-1.8 .1 4.4 .1-1.0 .1-2.0 .1-1.4 .1 2.7 .1 2.0 .1-1.4 .1 .4 .1-2.6 .1 1.5 .1-2.2 .1 4.4 .1-1.7 .1-3.4 .1 .4 .1 2.9 .1-.4 .1-.6 .1 1.2 .1 1.8 .1-2.1 .1-2.7 .1 2.1 .1-1.4 .1 .6 .1 1.5 .1-.6 .1-1.2 .1 1.4 .1-1.0 .1 1.7 .1-1.0 .1 .8 .1-.8 .1 1.3 .1-1.1 .1 .2 .1-.7 .1 .9 .1-2.4 .1 5.6 .1-4.2 .1 1.0 .1-.7 .1 0 .1 1.1 .1-1.1 .1 .1 .1-1.1 .1 .5 .1-.2 .1 3.7 .1-3.9 .1 .3 .1 1.6 .1 1.6 .1-3.9 .1 .2 .1 2.1 .1 .3 .1-2.2 .1-.5 .1 1.1 .1 2.1 .1-.9 .1 1.0 .1-1.1 .1 .1 .1 .8 .1-.9 .1 .5 .1-1.4 .1 .4 .1 1.3 .1-.8 .1-.7 .1 1.8 .1-.1 .1-.7 .1-.9 .1 2.1 .1 2.0 .1-4.1 .1-.9 .1 .9 .1-.1 .1-.4 .1 .1 .1 2.5 .1 .1 .1 .7 .1-.9 .1-1.5 .1 2.0 .1-2.1 .1 .3 .1-1.0 .1 3.0 .1-.2 .1-1.9 .1 .2 .1 .5 .1 .2 .1 .8 .1-.9 .1 .4 .1-2.4 .1 1.6 .1-1.9 .1 4.5 .1-.5 .1-.8 .1 .5 .1 1.1 .1-1.3 .1-3.1 .1 1.7 .1-2.7 .1 2.0 .1-.6 .1 1.6 .1 .5 .1-1.6 .1 .8 .1 .7 .1-.5 .1 0 .1-2.8 .1 2.5 .1 1.5 .1-.6 .1-2.2 .1 1.5 .1 .7 .1-1.5 .1 2.1 .1-1.9 .1 .6 .1 .3 .1 3.0 .1-3.2 .1-.3 .1 1.6 .1-1.5 .1 .9 .1-3.1 .1 3.2 .1-.3 .1-1.6 .1 3.3 .1-2.0 .1 .1 .1-1.4 .1-.4 .1 1.4 .1-1.2 .1 2.5 .1 .5 .1-1.9 .1-1.2 .1 1.6 .1-.8 .1 1.5 .1 0 .1-.7 .1 .6 .1 1.2 .1 .9 .1-2.8 .1 1.6 .1-1.2 .1-1.0 .1 2.9 .1-1.1 .1-.3 .1 .3 .1-.6 .1-1.1 .1 3.5 .1-1.1 .1-.7 .1 .9 .1 .4 .1-1.9 .1 1.0 .1-1.1 .1 1.2 .1-1.1 .1 3.4 .1-3.5 .1 1.1 .1 0 .1-1.0 .1 1.6 .1-1.3 .1-.4 .1 .5 .1-.9 .1 2.5 .1-.7 .1 .4 .1-2.9 .1 2.1 .1-1.3 .1 1.1 .1 1.5 .1-1.3 .1-.5 .1 1.6 .1-.1 .1 1.0 .1-4.6 .1 2.8 .1-1.0 .1-.5 .1 1.2 .1-1.5 .1-1.4 .1 1.7 .1 .8 .1 2.7 .1-3.2 .1-.6 .1-1.0 .1 2.1 .1 .1 .1 .5 .1-2.0 .1 .9 .1-1.9 .1 3.1 .1-2.2 .1-1.4 .1 4.9 .1-.8 .1-.2 .1 0 .1-1.7 .1 2.6 .1-2.6 .1 3.7 .1-2.1 .1-2.6 .1 3.4 .1 1.4 .1-2.7 .1 1.6 .1-1.6 .1-.5 .1-2.4 .1 4.8 .1-2.1 .1 1.0 .1-1.8 .1 .3 .1 2.5 .1-1.9 .1 0 .1-1.0 .1 1.8 .1 .7 .1-1.5 .1 .4 .1-1.3 .1 3.3 .1-2.5 .1 .6 .1 2.3 .1-2.4 .1-1.7 .1 .8 .1 .8 .1 2.7 .1-2.0 .1-.5 .1 1.3 .1 .6 .1-2.6 .1 2.8 .1-.7 .1-.5 .1-3.5 .1 3.2 .1 1.5 .1-2.1 .1 3.3 .1-2.8 .1-1.4 .1 2.1 .1-.4 .1 .7 .1-1.3 .1 1.9 .1-2.3 .1 .9 .1-1.7 .1 .5 .1 1.3 .1-1.1 .1 .3 .1 .3 .1 .6 .1 .7 .1 0 .1 .3 .1-1.0 .1-.9 .1-1.3 .1 1.5 .1-.5 .1-1.3 .1 4.4 .1-4.4 .1 2.8 .1 .3 .1-1.0 .1 3.5 .1-3.2 .1-1.0 .1 3.2 .1-3.2 .1-.8 .1 .6 .1 .4 .1 .9 .1 .4 .1-2.3 .1 2.4 .1 2.3 .1-3.7 .1 .8 .1 1.0 .1 .7 .1-2.4 .1-.3 .1-.1 .1 2.7 .1-.2 .1-3.9 .1 0 .1 1.2 .1-.3 .1 2.4 .1-.2 .1 2.2 .1-1.5 .1-.8 .1 1.3 .1-2.6 .1-.6 .1 1.8 .1 1.2 .1-3.3 .1 3.2 .1 0 .1-1.7 .1 .9 .1-.6 .1 .5 .1 .9 .1-2.0 .1 2.3 .1-.2 .1 .1 .1-3.7 .1 .2 .1 3.2 .1-1.6 .1-.1 .1-.1 .1-.7 .1 1.3 .1-.5 .1 .1 .1 1.5 .1-2.1 .1 2.9 .1-4.2 .1 6.0 .1-4.9 .1 2.5 .1 .4 .1-1.2 .1 1.0 .1-1.1 .1-2.1 .1 2.7 .1 1.0 .1-2.1 .1-1.4 .1 1.4 .1 1.1 .1 0 .1 1.1 .1-.7 .1-.1 .1-3.2 .1 5.4 .1-2.7 .1 1.0 .1-1.5 .1 .2 .1 .3 .1 2.0 .1-.1 .1-1.1 .1 1.7 .1-3.0 .1 1.2 .1-1.2 .1 2.2 .1-1.6 .1 1.2 .1 1.0 .1-4.9 .1 5.5 .1-2.4 .1-.8 .1-2.0 .1 2.1 .1-2.6 .1 3.1 .1-.3 .1 2.5 .1-2.7 .1 1.8 .1 .1 .1 1.2 .1-3.0 .1 1.3 .1-2.9 .1 .6 .1 1.0 .1 .4 .1-1.5 .1 1.0 .1 1.4 .1-1.4 .1 .4 .1-1.0 .1 2.9 .1 .6 .1-2.0 .1-.4 .1 2.2 .1-1.5 .1-1.4 .1-.9 .1 1.0 .1 3.6 .1-3.6 .1 4.5 .1-3.7 .1-.3 .1 2.0 .1-2.0 .1 .8 .1-1.8 .1-.2 .1 .6 .1 1.3 .1-1.2 .1-1.6 .1 3.1 .1-.8 .1-.1 .1-.4 .1-2.1 .1 4.9 .1-2.6 .1 1.3 .1 1.1 .1-.3 .1-1.2 .1-.3 .1 .4 .1 .8 .1-.4 .1-1.3 .1 1.2 .1-.1 .1 .4 .1-.6 .1 1.5 .1-1.5 .1 .9 .1-1.1 .1-.8 .1-.5 .1 1.1 .1 .9 .1 .9 .1-1.7 .1-.6 .1 .1 .1 2.3 .1-1.5 .1-.8 .1 1.6 .1-2.6 .1 1.8 .1-.2 .1-.1 .1-1.3 .1 2.8 .1 .9 .1-3.9 .1 1.9 .1 .7 .1 2.1 .1-3.5 .1-.6 .1 1.2 .1 2.6 .1-2.5 .1 .3 .1 1.9 .1-5.0 .1 0 .1 3.9 .1-.1 .1-2.8 .1 2.5 .1-.7 .1 .3 .1-1.3 .1 .4 .1-.5 .1 1.2 .1-.3 .1 2.4 .1-1.3 .1-2.8 .1 2.5 .1 1.3 .1-1.4 .1 1.0 .1-1.4 .1 .9 .1-2.1 .1 2.3 .1-2.8 .1 3.4 .1-3.6 .1-.7 .1 3.4 .1-.9 .1 .4 .1 .4 .1-.6 .1-1.1 .1 1.4 .1 .2 .1 .2 .1 1.9 .1-3.5 .1 1.1 .1 .6 .1-1.3 .1-.9 .1 .8 .1 2.1 .1-1.7 .1 1.1 .1-1.7 .1 1.5 .1-1.4 .1-.2 .1 1.2 .1 0 .1 1.8 .1-4.0 .1 2.8 .1 1.4 .1-.3 .1-2.2 .1-.4 .1 .2 .1 1.1 .1-.2 .1 .3 .1 .3 .1-2.1 .1-.1 .1-.1 .1-.2 .1 1.6 .1 .6 .1 2.8 .1-2.5 .1-.7 .1 1.8 .1-2.7 .1 1.4 .1 .8 .1-.3 .1-.4 .1-1.0 .1-1.1 .1 1.4 .1-.6 .1 1.7 .1-1.1 .1 .9 .1-2.7 .1 3.3 .1-2.4 .1-.9 .1 .3 .1 1.0 .1 2.2 .1-.5 .1-2.4 .1 1.6 .1-.2 .1-1.9 .1 .7 .1-1.3 .1 1.5 .1-2.3 .1 2.4 .1-.1 .1 .1 .1 0 .1 2.6 .1-2.0 .1 .8 .1 .7 .1 .2 .1-.3 .1-1.6 .1-.7 .1 .5 .1 .4 .1 .6 .1-.1 .1 1.5 .1-1.5 .1 2.4 .1-1.0 .1-1.9 .1 1.7 .1-4.7 .1 5.4 .1-1.2 .1 0 .1-2.7 .1 5.4 .1-3.5 .1 .1 .1 1.6 .1-1.6 .1-.9 .1 2.0 .1-2.2 .1 2.3 .1-.8 .1 1.3 .1-3.0 .1 3.2 .1-1.2 .1 2.1 .1-3.3 .1 3.2 .1-1.5 .1 .1 .1-1.9 .1 1.7 .1 .1 .1-1.9 .1-.4 .1 .5 .1 2.8 .1-1.6 .1 1.0 .1-.8 .1-.2 .1 .1 .1-.8 .1 2.1 .1-1.3 .1 0 .1-2.0 .1 2.2 .1-1.3 .1 .2 .1 2.0 .1-2.7 .1 1.2 .1 1.0 .1 .7 .1-2.1 .1 1.0 .1 0 .1-1.8 .1-1.3 .1 .3 .1 3.2 .1-.6 .1-1.8 .1 .9 .1 .3 .1 .1 .1 .4 .1 2.9 .1-3.9 .1 1.2 .1-1.1 .1 .2 .1-.4 .1 .9 .1-.4 .1 1.1 .1-.1 .1-1.4 .1 3.6 .1-4.0 .1 2.0 .1 2.3 .1-3.7 .1 2.6 .1 .2 .1-1.4 .1-2.8 .1 4.2 .1-1.7 .1-.8 .1 2.3 .1-2.5 .1 2.3 .1-2.1 .1 1.4 .1-2.0 .1 .8 .1-.6 .1 .3 .1 1.1 .1-.4 .1 .4 .1 1.4 .1-1.7 .1-2.3 .1 2.1 .1 .4 .1 1.2 .1 .1 .1-.1 .1-1.5 .1 1.1 .1-2.7 .1 3.5 .1-1.0 .1 0 .1-1.1 .1 .6 .1-.9 .1 1.6 .1-2.5 .1 3.0 .1-.6 .1 1.9 .1-2.6 .1 0 .1 .3 .1-.2 .1-.1 .1-1.3 .1 0 .1 .7 .1 .4 .1-1.2 .1 .1 .1 1.1 .1 1.3 .1-1.2 .1 1.1 .1 .4 .1-.2 .1-1.5 .1 0 .1-1.9 .1 1.5 .1 1.5 .1-2.0 .1 3.2 .1 .1 .1-2.3 .1 1.6 .1-2.9 .1 .4 .1 .9 .1 .5 .1-.2 .1-.9 .1 3.6 .1-2.1 .1 0 .1 .5 .1-.6 .1-.5 .1-.5 .1-1.3 .1 4.0 .1-3.1 .1-.9 .1 1.1 .1-1.0 .1 4.5 .1-2.0 .1 1.3 .1 .1 .1-1.1 .1 0 .1-1.7 .1 .8 .1-.6 .1 .8 .1-.9 .1 2.5 .1-.6 .1-1.1 .1-2.0 .1 3.0 .1 .2 .1-1.2 .1-1.5 .1 2.2 .1 .8 .1-3.8 .1 3.2 .1-3.0 .1 2.4 .1 2.1 .1-2.1 .1 .5 .1-1.0 .1 .4 .1 3.0 .1-1.3 .1-2.1 .1 0 .1 .5 .1 2.7 .1-2.5 .1 1.2 .1-1.9 .1-1.1 .1 3.3 .1-1.8 .1-.9 .1 .1 .1 .1 .1 0 .1-1.1 .1 3.5 .1-1.1 .1 .8 .1-1.7 .1 .9 .1-.2 .1 1.3 .1-.5 .1-.6 .1-1.2 .1-.7 .1 .5 .1 .2 .1 .1 .1-.8 .1 3.7 .1-1.8 .1-2.9 .1 1.2 .1-.3 .1 2.0 .1 1.0 .1-2.6 .1 2.1 .1-1.2 .1 1.9 .1 .2 .1-1.3 .1 .5 .1-.9 .1-.4 .1-1.0 .1 1.9 .1-.5 .1-.4 .1 .4 .1-.2 .1-1.0 .1 .6 .1 2.1 .1-1.7 .1 2.1 .1-3.2 .1-.3 .1 1.9 .1 .8 .1-1.8 .1 1.6 .1 .4 .1 .2 .1-1.5 .1 .1 .1-2.0 .1 2.1 .1 .4 .1 1.4 .1-3.4 .1 .5 .1-.1 .1 2.4 .1-4.4 .1 1.9 .1 4.0 .1-1.8 .1-2.5 .1 1.6 .1 1.2 .1-.4 .1-1.0 .1-.7 .1 2.1 .1-1.1 .1 1.0 .1-.5 .1-1.1 .1 2.5 .1-2.5 .1 1.2 .1-1.3 .1 .5 .1 0 .1-.6 .1 1.2 .1 1.3 .1 .7 .1-.5 .1-2.0 .1 2.1 .1-1.3 .1 1.7 .1-3.9 .1 3.5 .1-2.6 .1 2.2 .1-2.0 .1 1.7 .1-1.5 .1-2.0 .1 1.2 .1 .9 .1 .3 .1-2.8 .1 1.3 .1 .6 .1 .7 .1 .5 .1-1.3 .1-.9 .1 2.3 .1-.8 .1 1.6 .1-1.8 .1 1.5 .1-1.9 .1 1.4 .1-.2 .1 .5 .1-1.8 .1 1.1 .1-.9 .1 .8 .1 1.0 .1 3.0 .1-3.7 .1 .9 .1-.8 .1 1.3 .1-.8 .1 .7 .1-.9 .1 2.6 .1-1.3 .1-3.8 .1 2.5 .1-.3 .1-2.8 .1 1.6 .1 .6 .1-.4 .1 1.1 .1-2.4 .1 3.2 .1 0 .1-.5 .1-.8 .1 .4 .1-.6 .1 2.0 .1-.8 .1 1.9 .1-2.9 .1 2.3 .1-2.6 .1 .5 .1-1.1 .1 2.0 .1-.7 .1 .8 .1 1.1 .1-1.9 .1 .6 .1 .6 .1-1.2 .1-.6 .1 1.2 .1 .1 .1 .4 .1 .1 .1-1.9 .1 1.4 .1 1.0 .1-2.1 .1 1.0 .1-1.2 .1 1.0 .1 2.0 .1-2.0 .1-1.4 .1 1.6 .1-.1 .1 1.1 .1-3.1 .1 .6 .1 1.0 .1-1.8 .1 3.4 .1-4.0 .1 1.5 .1-.8 .1 1.0 .1 1.9 .1-.3 .1 .4 .1-.4 .1-3.3 .1 3.0 .1-2.7 .1 1.7 .1 .1 .1-.2 .1 1.3 .1-1.6 .1 3.2 .1-1.4 .1 .7 .1-.5 .1 .2 .1-1.2 .1 2.5 .1-3.7 .1 1.9 .1-.6 .1-.3 .1 .7 .1-1.3 .1 2.0 .1-.1 .1-.8 .1 .8 .1-2.3 .1-.9 .1 1.5 .1 .5 .1 3.4 .1-3.4 .1 1.6 .1-.3 .1 1.6 .1-2.5 .1 .7 .1-1.0 .1-.9 .1-.1 .1 .3 .1 2.7 .1-1.4 .1-.5 .1 .2 .1-.7 .1 .6 .1 0 .1 .9 .1 .3 .1-3.2 .1 2.4 .1 1.4 .1-3.0 .1 1.0 .1 .5 .1 1.2 .1-.6 .1-1.0 .1 .9 .1 .6 .1-.8 .1 1.9 .1-1.8 .1-1.8 .1 .3 .1 .8 .1-.1 .1 1.1 .1-.4 .1 1.8 .1-1.2 .1 .9 .1-2.8 .1 .4 .1 1.4 .1-.7 .1 .6 .1-.4 .1-1.1 .1 2.9 .1-.7 .1-3.4 .1 1.2 .1 .8 .1 .9 .1-1.0 .1-1.6 .1 2.8 .1-1.3 .1 1.7 .1-1.1 .1 .9 .1-.2 .1 .1 .1-1.8 .1 2.0 .1-1.1 .1-1.8 .1 1.1 .1 .1 .1 1.0 .1 .3 .1-2.3 .1 2.3 .1-1.0 .1-1.2 .1 2.4 .1-2.0 .1-.5 .1 2.4 .1 .2 .1-2.0 .1 2.2 .1-.1 .1-1.9 .1 3.2 .1-2.6 .1 .4 .1-3.3 .1 3.8 .1-1.6 .1 1.4 .1-2.7 .1 3.6 .1 .4 .1 .5 .1-6.0 .1 4.4 .1-.3 .1-4.2 .1 2.9 .1 .8 .1 1.9 .1-2.8 .1 1.3 .1-.4 .1 .6 .1-1.0 .1 1.6 .1 .2 .1-2.9 .1 3.1 .1-2.4 .1 .6 .1 1.8 .1-1.3 .1 .6 .1 .3 .1-.3 .1-1.4 .1-.5 .1 2.1 .1 .1 .1-.5 .1-.7 .1 1.3 .1-1.1 .1-1.7 .1 2.1 .1 .3 .1 .3 .1-2.0 .1 .2 .1 1.3 .1-1.0 .1 .5 .1 1.3 .1-.7 .1 1.8 .1-1.9 .1 1.8 .1-.8 .1 1.8 .1-3.1 .1-.1 .1 1.7 .1-2.3 .1 .1 .1 .9 .1 .2 .1-2.2 .1 2.0 .1-.7 .1 .4 .1 .3 .1-.5 .1 1.6 .1-.7 .1-.9 .1 .4 .1 1.2 .1-.3 .1 .6 .1-1.8 .1 .4 .1 2.3 .1-2.5 .1 2.1 .1-1.0 .1-1.6 .1-1.2 .1 2.6 .1-1.7 .1 0 .1-1.3 .1 3.7 .1-1.4 .1-.1 .1 .5 .1-.2 .1-.2 .1 .6 .1-1.0 .1-2.9 .1 4.2 .1-.4 .1-.5 .1 1.9 .1-3.7 .1-1.8 .1 5.4 .1-1.3 .1-2.5 .1 1.5 .1 1.3 .1-2.3 .1 2.2 .1 1.9 .1-.9 .1-1.7 .1 .4 .1-1.5 .1 1.3 .1-.6 .1-.8 .1-.4 .1 4.1 .1-2.3 .1-1.4 .1 .8 .1 2.3 .1 .2 .1-2.8 .1 1.0 .1 .9 .1-1.5 .1-1.0 .1 .2 .1 1.2 .1-.9 .1-.7 .1 1.4 .1 1.4 .1-.3 .1-1.1 .1 2.6 .1-3.3 .1 .9 .1-1.6 .1 2.7 .1-1.2 .1-1.9 .1 1.1 .1 3.2 .1-1.3 .1-.7 .1 .9 .1-3.1 .1 1.0 .1-.6 .1 .6 .1 .6 .1 1.1 .1 .6 .1 0 .1 2.1 .1-3.9 .1 .6 .1 .6 .1-1.6 .1 .6 .1 .9 .1-1.6 .1 1.7 .1 .9 .1-2.9 .1-1.4 .1 2.9 .1-1.4 .1 1.6 .1-.8 .1 .9 .1 1.1 .1-.4 .1-1.5 .1-1.0 .1-1.6 .1 .4 .1 1.7 .1 1.1 .1-1.0 .1 .1 .1-1.2 .1-.1 .1 0 .1 2.9 .1-3.3 .1 3.3 .1-1.9 .1 1.8 .1-.4 .1 .6 .1 .6 .1-2.5 .1-.2 .1 .7 .1-.5 .1 1.8 .1-.9 .1 .1 .1 .5 .1-1.1 .1 2.0 .1-3.7 .1 2.6 .1 .3 .1-1.5 .1 .1 .1 2.0 .1-1.6 .1-1.9 .1 .7 .1 2.9 .1-2.3 .1 2.7 .1 .1 .1-2.0 .1 1.0 .1-1.7 .1 .5 .1-.4 .1 1.6 .1-2.3 .1 1.4 .1 .3 .1 .6 .1-3.3 .1 .4 .1 1.1 .1 .8 .1 .5 .1 .1 .1 2.2 .1-1.6 .1-.1 .1-1.4 .1 1.6 .1-.1 .1 0 .1-1.0 .1 1.0 .1 1.1 .1-2.9 .1-1.7 .1 3.7 .1-.1 .1-1.2 .1-.2 .1 3.9 .1-4.0 .1-.9 .1 .9 .1 1.3 .1-1.4 .1 .3 .1 .8 .1-.9 .1 .7 .1-.2 .1-1.3 .1 1.5 .1-1.6 .1 2.6 .1-2.3 .1 .9 .1-2.0 .1 1.7 .1-.9 .1 3.4 .1-2.0 .1 .8 .1-2.8 .1 .6 .1 1.3 .1-1.4 .1 3.1 .1-2.0 .1 .7 .1 .2 .1-.5 .1 1.1 .1-1.8 .1 1.3 .1 1.1 .1-1.3 .1-.1 .1-.5 .1 .5 .1 .7 .1-1.1 .1-1.8 .1 2.3 .1-.4 .1 .8 .1-.5 .1 1.9 .1-3.4 .1 .2 .1 2.1 .1-2.1 .1 1.7 .1-.5 .1-2.4 .1 3.3 .1 .9 .1-1.5 .1-1.9 .1 2.7 .1-2.3 .1 1.2 .1 .6 .1-1.5 .1-1.1 .1 1.9 .1 .2 .1-1.0 .1 .1 .1 1.8 .1-1.0 .1-.4 .1-.2 .1 1.0 .1-.1 .1-.3 .1-1.5 .1 1.2 .1-.3 .1 .9 .1 1.3 .1-.2 .1-.4 .1-.7 .1-.5 .1 .8 .1-1.0 .1 .2 .1-.6 .1 1.0 .1-.1 .1 2.4 .1-1.6 .1-1.1 .1 1.4 .1-1.5 .1 1.8 .1-.3 .1 2.6 .1-4.8 .1 1.2 .1-.1 .1 .5 .1 .6 .1-2.1 .1 .3 .1 1.3 .1 .8 .1-2.5 .1-.6 .1 3.3 .1-.3 .1 .3 .1-2.5 .1 .9 .1 .5 .1 .3 .1-.7 .1 .1 .1 1.3 .1-1.8 .1-.1 .1 .2 .1-.1 .1 .7 .1-.4 .1-.2 .1 2.2 .1-1.3 .1-.8 .1 1.9 .1-2.1 .1 .6 .1-.1 .1-.6 .1 .3 .1 .5 .1-1.8 .1 1.3 .1 .8 .1 0 .1 0 .1 2.5 .1-2.0 .1-1.0 .1 0 .1 .2 .1 .5 .1-.9 .1 2.2 .1-3.1 .1 2.1 .1-.2 .1-1.9 .1 2.1 .1-.1 .1-1.4 .1 3.5 .1-1.9 .1-1.2 .1-.2 .1-.3 .1 1.2 .1-.3 .1-1.7 .1 .4 .1 .4 .1 .4 .1 .1 .1-.4 .1 1.6 .1 .3 .1-1.0 .1-2.7 .1 2.4 .1 .9 .1-.8 .1 .4 .1-.1 .1-1.9 .1-1.3 .1 3.8 .1-1.4 .1 1.1 .1-.8 .1 .2 .1 1.8 .1-3.1 .1 1.5 .1-1.3 .1 1.4 .1 .5 .1 .2 .1-.6 .1-1.8 .1 1.9 .1 .8 .1 .1 .1 1.4 .1-1.9 .1-1.9 .1 .6 .1 .7 .1 1.2 .1-2.6 .1 2.4 .1-.3 .1-1.8 .1 1.8 .1-1.6 .1 .9 .1-.4 .1 .7 .1-1.7 .1 2.0 .1-3.2 .1 2.1 .1-.2 .1 2.6 .1-1.3 .1-1.2 .1-.4 .1 1.1 .1-.8 .1 3.4 .1-6.0 .1 3.4 .1-3.0 .1 4.2 .1-2.2 .1 2.9 .1-2.6 .1 1.9 .1-1.0 .1 1.2 .1-1.4 .1-3.5 .1 2.6 .1-1.0 .1 3.0 .1-.5 .1-.6 .1 .5 .1-.3 .1-.9 .1 3.0 .1-2.0 .1-.5 .1-1.5 .1 1.0 .1 .8 .1-.3 .1-.3 .1 .5 .1-1.3 .1 1.4 .1-1.9 .1 .8 .1 .2 .1 1.9 .1-.4 .1-.5 .1-1.5 .1 .9 .1 1.4 .1 .6 .1-3.2 .1 1.2 .1 .6 .1 .3 .1-.4 .1 .8 .1-2.5 .1 3.6 .1-3.2 .1 1.4 .1 .6 .1 .7 .1-.3 .1 0 .1 .5 .1-1.7 .1 1.1 .1 .9 .1-2.7 .1-.8 .1 .5 .1 2.9 .1-.2 .1-1.9 .1 .7 .1 .3 .1 .7 .1-3.5 .1 1.6 .1 .3 .1 .7 .1-.3 .1-.4 .1 .7 .1-3.4 .1 6.7 .1-2.7 .1 .1 .1-1.8 .1 1.3 .1 1.9 .1-.2 .1-2.1 .1-1.6 .1 1.7 .1-.6 .1 1.4 .1-2.5 .1 1.3 .1 .5 .1-.8 .1 1.8 .1-2.6 .1-.1 .1 1.0 .1 1.4 .1-1.3 .1-.4 .1 1.7 .1-.7 .1-.9 .1 .8 .1-.4 .1 1.0 .1-.6 .1-1.1 .1 .4 .1 .1 .1 .9 .1 0 .1-1.4 .1 .8 .1 .6 .1 .9 .1-1.0 .1 2.0 .1-2.3 .1 .9 .1-1.3 .1-.8 .1 1.4 .1 .4 .1-.2 .1-.2 .1-.6 .1-.5 .1 .6 .1 .9 .1 .6 .1-5.1 .1 4.7 .1 .6 .1 .2 .1-1.1 .1 .4 .1-1.3 .1 .4 .1 .7 .1-1.9 .1 .4 .1 1.1 .1-1.8 .1 1.7 .1-1.9 .1 2.1 .1-.2 .1-.7 .1-.5 .1 .5 .1-2.0 .1 2.2 .1 .6 .1 1.3 .1-2.1 .1 .4 .1 1.9 .1 .4 .1-2.6 .1 1.8 .1 .2 .1-.8 .1-1.8 .1 .1 .1 1.8 .1 2.1 .1-3.0 .1 2.1 .1 .4 .1-3.8 .1 .8 .1 2.5 .1-.6 .1-.5 .1-.7 .1 .8 .1-1.5 .1 3.7 .1-4.4 .1-.7 .1 2.3 .1 1.6 .1-2.3 .1 .5 .1-1.2 .1 1.2 .1-1.2 .1 .1 .1-.6 .1 1.1 .1 2.9 .1-2.3 .1 .3 .1 2.5 .1-3.5 .1-.4 .1 1.8 .1-2.1 .1 1.9 .1 1.0 .1-2.7 .1 .7 .1 2.7 .1-3.4 .1 .5 .1 1.1 .1-.7 .1-.6 .1 3.0 .1-2.7 .1 1.1 .1-.9 .1 .3 .1-1.4 .1 2.8 .1-1.7 .1 2.1 .1-2.9 .1 .8 .1 1.1 .1-.4 .1-.9 .1 .6 .1-1.4 .1 1.7 .1-3.3 .1 3.4 .1 1.4 .1-.5 .1-.1 .1-1.5 .1 1.1 .1-1.1 .1 .4 .1 0 .1-3.9 .1 5.1 .1-.5 .1 .4 .1-2.1 .1 2.0 .1-.3 .1-3.2 .1 .5 .1 2.2 .1-.8 .1 .7 .1-.7 .1 2.6 .1-4.1 .1 .6 .1 .5 .1-.5 .1 1.0 .1 .6 .1-1.5 .1 2.0 .1 1.2 .1-.3 .1 1.1 .1-1.0 .1-1.4 .1 2.2 .1-1.3 .1 1.4 .1-2.5 .1-2.3 .1 1.1 .1 1.7 .1 .4 .1-.9 .1 1.5 .1-2.6 .1 .5 .1 2.1 .1-1.2 .1 .1 .1 1.6 .1-.4 .1-2.3 .1 1.2 .1-2.3 .1 2.1 .1 .5 .1-2.6 .1 4.0 .1 .5 .1-1.8 .1 .5 .1 .7 .1-2.0 .1 1.5 .1-.8 .1-2.3 .1 .8 .1 .4 .1 1.9 .1-1.1 .1 1.0 .1-1.7 .1-1.0 .1 4.0 .1 .8 .1-2.8 .1-.7 .1 1.7 .1-2.8 .1 1.1 .1-1.4 .1 2.3 .1-.3 .1-.8 .1-.3 .1-1.0 .1 .8 .1 2.5 .1-1.9 .1 1.9 .1-2.5 .1 .9 .1-.4 .1 .2 .1 1.3 .1-3.4 .1 3.3 .1 0 .1-.9 .1 .1 .1-.3 .1 1.1 .1-.8 .1-1.1 .1 1.2 .1 1.0 .1-.7 .1-.4 .1 .2 .1-.8 .1 0 .1-1.7 .1 2.1 .1 1.4 .1-1.7 .1-.6 .1 2.2 .1-.9 .1 0 .1 .4 .1 .3 .1-.9 .1-1.0 .1 3.1 .1-2.0 .1-1.0 .1 1.2 .1 1.2 .1-3.2 .1 3.3 .1-1.7 .1 2.5 .1-1.6 .1-.9 .1 1.7 .1 0 .1-2.0 .1 .7 .1-.8 .1 1.7 .1-2.8 .1 1.5 .1-2.4 .1 3.3 .1-3.4 .1 1.4 .1 1.6 .1-.7 .1-.1 .1-.6 .1 .5 .1-1.5 .1 2.5 .1 .6 .1-.1 .1-.9 .1 1.5 .1-.9 .1 .6 .1-.7 .1-.4 .1-1.0 .1-2.2 .1 3.9 .1-.9 .1 2.5 .1-4.7 .1 3.4 .1-2.2 .1 1.2 .1-1.1 .1 1.5 .1-.5 .1 1.1 .1-.8 .1 .4 .1 .9 .1-.9 .1-.8 .1 1.7 .1-1.6 .1 .6 .1-.9 .1-.4 .1-2.8 .1 4.4 .1-2.2 .1 2.3 .1 1.3 .1-3.7 .1 2.6 .1-1.2 .1 .7 .1-2.0 .1 1.5 .1 .1 .1 1.5 .1 .9 .1-2.2 .1-.8 .1 3.1 .1-2.8 .1 .1 .1 .2 .1 .4 .1 .3 .1-1.5 .1 .6 .1 2.3 .1-.3 .1-1.4 .1-.2 .1-.6 .1 1.5 .1-1.8 .1 .8 .1-.7 .1-.2 .1 .8 .1-.1 .1-.7 .1 .6 .1 .2 .1-.6 .1-.2 .1 .6 .1 1.0 .1 .5 .1-1.1 .1-.6 .1 .3 .1 2.3 .1-1.2 .1-2.2 .1 1.1 .1-.6 .1 .2 .1-1.5 .1 2.0 .1-1.6 .1 .9 .1 2.5 .1-.6 .1-2.2 .1-.2 .1 .1 .1-1.1 .1 1.0 .1 .9 .1-.9 .1 2.1 .1-.9 .1-.6 .1 2.7 .1-1.2 .1-.8 .1 2.1 .1-.6 .1-2.4 .1 1.2 .1-.9 .1-1.2 .1 4.0 .1-.5 .1-3.3 .1 2.1 .1-2.5 .1 3.2 .1-1.3 .1-.3 .1 1.9 .1-1.5 .1-.3 .1 1.4 .1-1.5 .1 1.4 .1-1.0 .1 1.0 .1-.3 .1 .2 .1-2.1 .1 3.4 .1-2.4 .1 2.3 .1-2.8 .1 .4 .1 0 .1 1.7 .1-1.9 .1 1.0 .1-2.4 .1 1.3 .1 .9 .1-.4 .1-2.1 .1 2.8 .1-1.7 .1 3.5 .1-2.6 .1 3.0 .1-2.0 .1-.2 .1-1.1 .1 .4 .1 .7 .1-2.9 .1 3.6 .1-2.6 .1 1.1 .1-3.0 .1 3.8 .1 .4 .1-.6 .1 .1 .1-.9 .1 .7 .1 1.2 .1-1.9 .1 1.1 .1 .3 .1-1.2 .1 .6 .1 0 .1-.9 .1 3.5 .1-3.4 .1 2.6 .1-.8 .1-3.7 .1 2.7 .1 1.0 .1-.3 .1-2.1 .1 1.4 .1-1.7 .1 .2 .1 .9 .1 .6 .1 1.7 .1-1.5 .1 .8 .1-2.7 .1 .1 .1 .8 .1 2.7 .1-3.8 .1-.3 .1 1.9 .1 1.5 .1-3.4 .1 1.7 .1-1.4 .1 3.4 .1-.9 .1-.5 .1-.4 .1-.2 .1 .5 .1-1.0 .1-.3 .1-.3 .1 1.4 .1-1.0 .1 2.1 .1-3.7 .1 3.3 .1 0 .1 .8 .1-1.8 .1-1.5 .1 .7 .1 2.5 .1-1.8 .1-.1 .1-.2 .1 .6 .1-.2 .1-1.6 .1 1.2 .1 2.0 .1 .5 .1-1.9 .1-.5 .1 2.3 .1-1.9 .1-1.2 .1 1.3 .1 1.0 .1 1.0 .1-2.4 .1 1.2 .1-1.0 .1 1.7 .1-1.0 .1 0 .1-1.5 .1 .8 .1 0 .1-4.0 .1 5.4 .1-1.0 .1-.3 .1-.2 .1 .5 .1 .3 .1-1.9 .1 1.7 .1 0 .1-.1 .1-1.8 .1 1.6 .1-1.4 .1 2.0 .1 1.2 .1-.5 .1-1.5 .1-.2 .1-.1 .1 1.1 .1-1.2 .1 .2 .1-2.4 .1 2.0 .1 .1 .1 .3 .1 2.1 .1-3.1 .1 0 .1 2.4 .1-2.0 .1 1.0 .1 .5 .1-.2 .1-1.0 .1 2.1 .1 .7 .1-3.1 .1 .9 .1 1.5 .1-1.4 .1-1.0 .1 .7 .1 1.6 .1-2.2 .1 1.5 .1 .1 .1-1.2 .1 1.5 .1 .1 .1 .4 .1-.1 .1-2.9 .1 2.9 .1-.4 .1 .5 .1-2.2 .1 2.1 .1-.7 .1-1.8 .1 2.9 .1-2.4 .1-.3 .1 1.7 .1-1.2 .1 1.1 .1-.7 .1 .7 .1 .6 .1-1.0 .1 1.1 .1-.1 .1-2.0 .1 2.1 .1-.3 .1-.6 .1 1.2 .1 .6 .1-1.0 .1-2.7 .1 2.3 .1-.7 .1-.2 .1 .8 .1-.8 .1 2.3 .1-1.6 .1-.3 .1 .9 .1 0 .1 .5 .1-.7 .1-.8 .1 .2 .1-2.7 .1 .8 .1 3.0 .1-1.6 .1 2.6 .1 0 .1-3.7 .1 1.9 .1 3.1 .1-4.5 .1 1.5 .1-.8 .1 0 .1 0 .1 .3 .1 .9 .1-1.9"/>
<path stroke="#37AD6B" stroke-width="1.25" d="M83.4 307.3l.1-10.3 .1-11.9 .1-12.9 .1-10.1 .1-12.3 .1-11.3 .1-14.5 .1-12.5 .1-12.5 .1-15.2 .1-12.0 .1-13.5 .1-9.7 .1-10.1 .1-3.7 .1-5.5 .1-2.4"/>
<path stroke="#37AD6B" d="M64.4 321.0l.1-1.4 .1 1.5 .1-.3 .1-1.3 .1 1.1 .1-1.1 .1-.1 .1 2.4 .1-2.9 .1 2.2 .1 .2 .1-1.6 .1 2.0 .1-.2 .1-2.6 .1 2.2 .1-.1 .1-1.5 .1 1.6 .1 .2 .1-1.8 .1-.6 .1 2.0 .1-1.4 .1-.6 .1 1.1 .1-1.1 .1 1.1 .1 1.9 .1-4.9 .1 4.0 .1-1.7 .1 .6 .1-.6 .1 1.9 .1-.8 .1-.9 .1-.7 .1 1.1 .1 1.9 .1-2.9 .1 2.0 .1-.1 .1-2.8 .1 3.8 .1-1.4 .1 2.7 .1-.6 .1-2.4 .1 .1 .1-1.0 .1-.5 .1 2.7 .1-1.3 .1-.2 .1 .3 .1 1.1 .1 .3 .1-1.2 .1-.2 .1 .3 .1 2.4 .1-5.0 .1 1.1 .1 2.0 .1-.4 .1 1.3 .1 .1 .1 .8 .1-3.4 .1 1.8 .1-1.1 .1 1.5 .1-.9 .1 .8 .1-2.0 .1 1.1 .1-.8 .1 .3 .1-.2 .1-.7 .1 2.6 .1-1.0 .1 1.0 .1-2.6 .1-1.2 .1 1.6 .1 .6 .1 1.2 .1 .3 .1 .2 .1 .4 .1-1.0 .1-.7 .1-1.1 .1 1.8 .1-1.5 .1-.4 .1 1.8 .1-.5 .1 .8 .1-1.9 .1 2.3 .1-1.0 .1-.7 .1-.7 .1-.4 .1-.3 .1 3.3 .1-3.4 .1 2.5 .1-1.1 .1-.4 .1 .2 .1 .4 .1 1.2 .1-.4 .1-.7 .1-1.6 .1-.6 .1 4.5 .1-3.5 .1-.7 .1 3.3 .1-3.2 .1 2.7 .1 .3 .1-.9 .1 .9 .1-2.9 .1 .2 .1 1.3 .1 .2 .1-.1 .1 .7 .1-1.5 .1-1.7 .1 3.1 .1-.8 .1 1.3 .1 1.6 .1-2.5 .1 .6 .1-1.8 .1 2.2 .1-.7 .1-.1 .1 .9 .1-2.6 .1 2.1 .1-.1 .1 1.4 .1-4.2 .1 2.1 .1 2.8 .1-3.2 .1 0 .1 2.7 .1 .9 .1-2.9 .1-1.0 .1 .1 .1 .2 .1-.5 .1 0 .1 1.2 .1-.1 .1 .5 .1-.5 .1-1.6 .1 2.4 .1-.6 .1-1.0 .1 .4 .1 .7 .1-.3 .1-.2 .1 1.1 .1 .3 .1-1.7 .1 .4 .1-1.3 .1 1.1 .1 .8 .1 .5 .1-.9 .1-.3 .1-.8 .1 1.2 .1-13.4"/>
<path stroke="#37AD6B" d="M85.1 126.9l.1-6.3 .1-1.9 .1-1.9 .1-2.4 .1-5.1 .1-.8 .1 1.5 .1-4.1 .1-2.6 .1-5.2 .1 .8 .1 .4 .1-1.7 .1-1.0 .1-.6 .1-2.2 .1-.2 .1-4.3 .1 4.2 .1-4.3 .1-1.3 .1 1.8 .1-1.9 .1-.3 .1-2.7 .1 .4 .1-.2 .1-2.9 .1 .4 .1-.7 .1-.7 .1-1.1 .1-1.4 .1 1.4 .1-.8 .1 .4 .1-2.2 .1-1.4 .1-1.7 .1 1.2 .1-1.2 .1 2.2 .1-.4 .1-1.5 .1-3.7 .1-1.2 .1 .9 .1-1.4 .1 2.4 .1-2.1 .1-1.0 .1 .1 .1 1.3 .1-2.9 .1 1.6 .1-2.3 .1 1.2 .1-.6 .1 1.1 .1-.3 .1 1.2 .1-.7 .1-1.7 .1-.9 .1 .5 .1 .4 .1 .2 .1-.7 .1 2.2 .1-.2 .1-1.5 .1-.3 .1 .2 .1 .3 .1-.1 .1-2.0 .1 1.4 .1-1.8 .1 2.2 .1 .8 .1-2.2 .1 1.5 .1-1.0 .1-.1 .1 3.2 .1-1.3 .1-.5 .1-1.1 .1 1.0 .1-.7 .1 .8 .1-1.6 .1 1.0 .1-.3 .1-1.3 .1 3.9 .1-1.0 .1-1.9 .1-.8 .1 1.0 .1-.1 .1 .4 .1-1.0 .1 .9 .1 1.2 .1 .5 .1-2.8 .1 2.5 .1-1.1 .1 0 .1 1.0 .1-.3 .1 1.8 .1 .2 .1-1.1 .1-.3 .1 3.1 .1 .2 .1-1.6 .1-.5 .1 1.5 .1 .8 .1-2.2 .1 3.1 .1-2.1 .1 2.0 .1-1.6 .1 1.1 .1-.1 .1 1.0 .1 1.7 .1-1.8 .1 1.2 .1 1.5 .1-.7 .1 3.5 .1-3.9 .1 5.4 .1-3.6 .1 2.4 .1 1.2 .1-1.0 .1-2.0 .1 1.7 .1 .9 .1 1.0 .1 .9 .1 .5 .1 .8 .1-2.6 .1 2.8 .1-3.1 .1 2.7 .1-1.1 .1-.5 .1 3.7 .1-.8 .1 1.6 .1-2.8 .1 .8 .1 1.7 .1-.3 .1 1.3 .1-.5 .1 .7 .1-.7 .1 3.4 .1-1.6 .1-.7 .1 2.7 .1 .1 .1 0 .1 .4 .1-.4 .1 .7 .1-2.2 .1 1.2 .1 .8 .1 2.2 .1 1.5 .1-1.3 .1 .2 .1 2.1 .1-1.5 .1 1.7 .1 .1 .1-1.9 .1 2.4 .1 .3 .1-1.3 .1 .5 .1 0 .1 3.7 .1 1.3 .1-1.4 .1 1.5 .1-3.3 .1 3.8 .1 1.1 .1-.1 .1-2.8 .1 2.9 .1-1.1 .1 1.9 .1-1.8 .1 1.2 .1-.3 .1 1.7 .1-.3 .1 1.9 .1 0 .1-.1 .1-.1 .1 .1 .1 .8 .1 1.3 .1-.3 .1 .6 .1 0 .1 .4 .1-.3 .1-1.1 .1 3.5 .1 .4 .1-1.5 .1 4.1 .1-3.4 .1 3.1 .1-.5 .1 .5 .1 1.5 .1 .2 .1-.7 .1-.9 .1 .2 .1 2.2 .1 2.2 .1-.4 .1-.7 .1 .9 .1 .9 .1 1.7 .1-2.6 .1 2.2 .1-.1 .1-.8 .1 .1 .1 3.3 .1-.8 .1-.2 .1 .8 .1 1.6 .1-.7 .1 2.3 .1-1.9 .1-.2 .1 1.3 .1-.6 .1 1.2 .1 2.4 .1 1.0 .1-.9 .1-.1 .1-.9 .1 .3 .1 2.2 .1 .1 .1-.4 .1 .6 .1 2.9 .1-.3 .1-.7 .1 .7 .1 1.7 .1-.7 .1 .3 .1-1.8 .1 .3 .1 .1 .1 0 .1 3.3 .1 .8 .1-1.0 .1 2.0 .1 .5 .1-.3 .1-1.3 .1 4.1 .1 .3 .1-2.0 .1 3.5 .1-1.9 .1-.7 .1 .9 .1-1.4 .1 2.3 .1-1.2 .1 3.8 .1-.6 .1-1.7 .1 2.8 .1-2.4 .1 2.7 .1 .8 .1-.1 .1-1.1 .1 1.6 .1 .3 .1 .7 .1 2.2 .1 .6 .1 .2 .1-2.4 .1 .3 .1 1.3 .1 .9 .1-2.7 .1 2.1 .1 3.4 .1-3.4 .1 1.0 .1 .4 .1 1.9 .1-.4 .1 .1 .1-1.2 .1 3.1 .1-.4 .1-.5 .1 1.2 .1 1.3 .1-2.5 .1 .3 .1 1.0 .1 .6 .1-2.4 .1 3.4 .1 2.5 .1-1.5 .1 2.1 .1-4.6 .1 3.8 .1 2.2 .1 .6 .1-2.2 .1-.1 .1 1.8 .1-1.6 .1 1.4 .1-1.3 .1 2.5 .1 .2 .1 2.4 .1-1.3 .1-.9 .1 1.0 .1-1.2 .1 2.0 .1 0 .1 1.1 .1 1.0 .1-3.3 .1 3.2 .1 .8 .1-2.1 .1 4.2 .1-2.9 .1 4.3 .1-1.8 .1 .6 .1-.6 .1 1.3 .1-2.3 .1 .6 .1-1.1 .1 3.4 .1-1.2 .1 2.1 .1 .1 .1-2.1 .1 2.9 .1-.3 .1 .3 .1 .6 .1-.3 .1 .3 .1 1.6 .1-2.3 .1 0 .1 .8 .1 2.5 .1-1.4 .1 3.1 .1-6.0 .1 3.2 .1 .5 .1 1.2 .1 1.5 .1-1.7 .1-.8 .1 2.5 .1 1.1 .1-4.9 .1 4.1 .1-.1 .1-1.3 .1 .7 .1 1.1 .1-.1 .1-.2 .1-.9 .1 2.0 .1-1.0 .1 1.1 .1-.7 .1 1.2 .1 .9 .1-.4 .1 .7 .1-2.3 .1 2.5 .1 0 .1-.9 .1 .8 .1-3.1 .1 3.9 .1-.4 .1-2.0 .1 3.7 .1-1.1 .1 1.4 .1-.3 .1 1.3 .1-.1 .1-.1 .1 1.5 .1 .9 .1-3.4 .1 3.4 .1-.3 .1-.1 .1 3.5 .1 .1 .1-2.0 .1 .4 .1 2.9 .1-1.4 .1 .8 .1-1.7 .1 2.7 .1 1.9 .1-1.7 .1 .8 .1 2.6 .1-.8 .1 1.0 .1-.8 .1 1.0 .1-3.3 .1 1.3 .1-.8 .1 5.1 .1-2.3 .1-.1 .1-.6 .1-.1 .1-2.0 .1 6.5 .1-2.7 .1 .4 .1-1.6 .1 1.9 .1 .7 .1-.3 .1 1.0 .1-1.6 .1 1.6 .1 .9 .1-.2 .1 0 .1-.5 .1-.9 .1 2.1 .1-1.0 .1-.5 .1 2.3 .1-2.9 .1 1.5 .1 1.8 .1 .4 .1-1.5 .1 .7 .1 .7 .1-.6 .1-.7 .1 1.6 .1-.2 .1 .1 .1 1.4 .1-.9 .1-.8 .1 .9 .1 2.3 .1-3.2 .1 .7 .1-.6 .1 1.6 .1-1.9 .1 2.3 .1 .5 .1-1.8 .1 0 .1-.7 .1 2.1 .1-1.4 .1 .8 .1 .3 .1-.2 .1 2.1 .1 1.0 .1-4.5 .1 1.8 .1 1.4 .1-1.5 .1 .8 .1 1.0 .1 1.7 .1-.2 .1-1.7 .1 .7 .1-.5 .1 .4 .1-1.1 .1-.6 .1 1.9 .1 1.8 .1-.1 .1-3.2 .1 2.3 .1-.4 .1 1.3 .1-1.6 .1 2.6 .1-1.2 .1 1.1 .1 .5 .1-3.3 .1 2.3 .1 2.3 .1-1.7 .1 1.4 .1-.6 .1-1.0 .1 1.1 .1 1.1 .1 .5 .1 .4 .1-3.1 .1 2.6 .1-2.6 .1 1.7 .1 .1 .1 1.2 .1-.2 .1 1.3 .1-2.2 .1 2.0 .1-.4 .1-.3 .1-1.3 .1 2.4 .1-.2 .1 .8 .1-.9 .1 0 .1 .9 .1 .3 .1 .5 .1 1.7 .1-3.0 .1 3.5 .1-6.0 .1 5.1 .1-2.0 .1 3.7 .1-3.4 .1 2.6 .1-2.3 .1 0 .1 2.7 .1 .3 .1-1.7 .1 4.1 .1-3.1 .1 2.6 .1-3.0 .1 .3 .1 1.6 .1-1.1 .1 2.1 .1-3.0 .1 3.1 .1-.6 .1-.3 .1 1.7 .1-.3 .1 0 .1 1.8 .1-.4 .1 .4 .1 1.4 .1-1.5 .1 1.3 .1-1.3 .1 1.5 .1 .1 .1-1.2 .1-1.0 .1 .5 .1 .6 .1 2.1 .1-.7 .1 0 .1 1.2 .1 .5 .1 1.0 .1-2.3 .1 1.6 .1 .4 .1-1.9 .1 1.5 .1-1.1 .1 1.0 .1 1.0 .1-2.5 .1 1.2 .1 .3 .1 1.2 .1-.8 .1 1.5 .1-1.3 .1 .6 .1 1.5 .1-.2 .1 0 .1-.1 .1 1.5 .1 .6 .1-2.0 .1-.3 .1-.2 .1 3.6 .1-3.1 .1-.4 .1 2.2 .1 1.1 .1-2.6 .1 1.5 .1-1.4 .1 1.0 .1 3.1 .1-1.6 .1-.4 .1 .6 .1 .4 .1-.3 .1-1.1 .1 .2 .1 4.1 .1-3.2 .1 2.6 .1-2.2 .1 2.7 .1-.5 .1-1.0 .1 3.0 .1-3.5 .1 1.1 .1-.6 .1 .4 .1 .7 .1-.5 .1 1.0 .1 2.5 .1-3.9 .1 .8 .1 .6 .1 .8 .1 2.1 .1-.1 .1-.1 .1-.2 .1 3.0 .1-4.2 .1 .2 .1 1.6 .1 .5 .1-.3 .1-.6 .1-.4 .1 1.5 .1-.3 .1 .5 .1-.6 .1 3.2 .1-.9 .1 1.9 .1-2.7 .1 .9 .1-.2 .1 .5 .1-.1 .1 .3 .1-2.1 .1 2.3 .1 1.4 .1-3.1 .1 2.2 .1 1.3 .1 1.0 .1-1.5 .1 .9 .1 1.8 .1-.4 .1-2.0 .1 0 .1 2.2 .1-.9 .1-.7 .1 .5 .1 .9 .1-.5 .1 .1 .1 .2 .1-1.5 .1 4.2 .1-.5 .1 .5 .1-1.9 .1 .5 .1 .7 .1 .4 .1-3.2 .1 2.9 .1-1.6 .1 1.3 .1-.6 .1 3.0 .1-1.3 .1-.6 .1 1.9 .1-1.7 .1-.7 .1 .8 .1-.1 .1 .6 .1 1.1 .1-1.1 .1 .2 .1 1.4 .1-.8 .1 .9 .1-.9 .1-1.7 .1 .4 .1-.6 .1 3.6 .1-.8 .1-1.0 .1-.6 .1 1.8 .1-.5 .1 .6 .1-1.3 .1-.2 .1 3.4 .1-3.1 .1 1.3 .1 1.8 .1-3.9 .1 3.2 .1-.6 .1-.2 .1 .6 .1-1.7 .1-1.2 .1 5.1 .1-2.6 .1 1.6 .1 .3 .1-.9 .1 .3 .1 .4 .1 1.2 .1-1.3 .1 1.0 .1-1.8 .1-.1 .1 .7 .1 .5 .1 .3 .1 1.8 .1-1.3 .1-.9 .1 2.5 .1-2.0 .1 .2 .1 .2 .1-.9 .1-.9 .1 1.6 .1-.4 .1-.6 .1 1.3 .1-.3 .1-.4 .1-1.4 .1 2.1 .1 2.4 .1-.9 .1 .3 .1-1.3 .1 1.4 .1-2.0 .1 .3 .1 1.3 .1-2.3 .1 1.9 .1 .4 .1 1.8 .1-2.9 .1 1.5 .1-1.3 .1 .2 .1-2.5 .1 2.2 .1 2.7 .1-.7 .1-.4 .1 2.9 .1-2.3 .1-2.1 .1 1.4 .1 .2 .1 2.2 .1-3.1 .1 1.8 .1 .7 .1-2.1 .1 1.2 .1-2.5 .1 2.6 .1-2.7 .1 2.3 .1 2.7 .1-1.6 .1-.3 .1 .2 .1 2.5 .1-1.9 .1 .7 .1-1.8 .1 .1 .1-.7 .1 1.2 .1-.6 .1 2.2 .1-.4 .1-.8 .1-.5 .1-2.8 .1 2.9 .1 1.2 .1 .5 .1-4.5 .1 .9 .1 3.2 .1-1.4 .1 1.1 .1-.2 .1 1.4 .1-3.0 .1 1.7 .1 1.9 .1-.8 .1-1.2 .1 1.6 .1-.1 .1-1.4 .1 2.1 .1 0 .1-.9 .1 1.4 .1-2.5 .1 2.4 .1-1.1 .1-.8 .1 .5 .1 2.2 .1-2.0 .1 .3 .1-.3 .1-.1 .1 2.2 .1 1.7 .1-1.1 .1-.9 .1 .4 .1-1.3 .1-.1 .1-.8 .1 3.3 .1-2.1 .1-.4 .1 .2 .1 1.1 .1-.9 .1 .8 .1 .2 .1 1.6 .1-3.1 .1 1.9 .1-1.1 .1 .4 .1 2.6 .1-1.2 .1-1.2 .1 1.2 .1-.6 .1 1.5 .1-1.9 .1 1.3 .1-.8 .1 .3 .1-.1 .1-.5 .1 1.0 .1 1.1 .1-1.9 .1 .4 .1 1.0 .1-1.3 .1 2.0 .1-.1 .1-3.6 .1 2.1 .1-.5 .1 2.4 .1 .2 .1-2.5 .1 .7 .1 .8 .1-.3 .1 1.4 .1 .4 .1-.4 .1 .7 .1-.1 .1-1.2 .1-.4 .1-.3 .1 2.0 .1 .1 .1 .3 .1-1.6 .1 0 .1 .9 .1 1.2 .1-1.0 .1-.1 .1-1.2 .1 1.6 .1 .2 .1-1.7 .1 3.4 .1-3.3 .1 2.4 .1-1.3 .1 .5 .1-1.1 .1 .3 .1 1.7 .1-1.1 .1-.1 .1 1.6 .1-.1 .1-.7 .1 .2 .1 1.9 .1-2.3 .1 .8 .1 .1 .1-2.2 .1-.5 .1 2.6 .1 .9 .1-.7 .1-.8 .1-.1 .1 1.9 .1-1.3 .1-1.6 .1 2.9 .1-.5 .1 .3 .1 .9 .1 .4 .1-.9 .1-.8 .1-2.4 .1 3.1 .1-.5 .1 1.9 .1 0 .1-.9 .1 1.1 .1-1.7 .1 .1 .1-.9 .1 .7 .1 .8 .1 1.1 .1-2.2 .1 2.0 .1 1.9 .1-4.4 .1 1.4 .1 .4 .1 1.3 .1 1.2 .1-.8 .1-1.5 .1-1.0 .1 1.1 .1 .1 .1 .4 .1-1.4 .1 3.1 .1-2.7 .1 1.8 .1-.5 .1-1.6 .1 1.5 .1 0 .1-.2 .1 1.3 .1-1.5 .1 3.8 .1-1.7 .1-2.5 .1-1.9 .1 4.7 .1-1.2 .1-.1 .1-1.3 .1-.5 .1-.4 .1 5.5 .1-1.1 .1-2.6 .1 3.0 .1-4.5 .1 3.2 .1 0 .1-1.9 .1 .6 .1-.7 .1 1.4 .1 1.7 .1-.4 .1-.7 .1 1.0 .1-3.6 .1 4.8 .1-2.5 .1-1.5 .1 1.2 .1-.3 .1 1.0 .1 .3 .1-3.3 .1 4.5 .1 .7 .1-3.4 .1 3.2 .1-.3 .1-.2 .1 .8 .1-3.7 .1 2.7 .1-2.1 .1 4.2 .1-4.1 .1-.3 .1 3.0 .1-.6 .1-.7 .1 .2 .1 .7 .1 1.4 .1-3.0 .1 .2 .1 .1 .1 .6 .1 .2 .1-1.6 .1 2.0 .1-1.9 .1 1.3 .1 .1 .1 0 .1 2.2 .1 .3 .1-.7 .1 .7 .1-2.3 .1 2.1 .1-1.7 .1 .4 .1 .1 .1-2.0 .1 .9 .1 .6 .1 .7 .1-.5 .1-.9 .1-.3 .1 1.5 .1-1.5 .1 .1 .1 1.4 .1 .3 .1-1.2 .1-1.1 .1 2.6 .1 .7 .1-1.5 .1 .1 .1-2.4 .1 4.1 .1-2.5 .1 2.3 .1-1.6 .1 .6 .1 0 .1-2.0 .1 5.8 .1-5.4 .1 2.1 .1-1.1 .1 .8 .1 2.0 .1-4.0 .1 2.2 .1 .9 .1-.5 .1 .4 .1-1.4 .1-1.1 .1 .5 .1 1.2 .1 1.4 .1-.8 .1 2.0 .1-1.9 .1 .2 .1 0 .1-2.3 .1 2.9 .1-2.1 .1 1.0 .1 3.4 .1-4.4 .1 1.7 .1 .3 .1-.2 .1-.1 .1-.7 .1 3.2 .1-4.9 .1 1.2 .1 3.2 .1-1.1 .1-1.6 .1-.2 .1 .9 .1 3.6 .1-2.6 .1-1.9 .1 1.6 .1-1.0 .1 2.7 .1-1.5 .1 1.3 .1-1.4 .1 2.4 .1-2.0 .1-.1 .1-1.6 .1 .8 .1 1.0 .1-1.0 .1 3.7 .1-3.1 .1-.9 .1 2.2 .1-1.8 .1 1.2 .1-.6 .1-.7 .1 2.6 .1-1.6 .1 1.3 .1-1.7 .1-1.4 .1 .3 .1 1.0 .1 .4 .1 .3 .1 .7 .1-2.2 .1 1.9 .1-1.8 .1 .7 .1 4.1 .1-1.6 .1-2.0 .1 2.7 .1-.4 .1-.6 .1 .7 .1-2.1 .1 .2 .1-.9 .1 1.9 .1-2.3 .1 1.0 .1 1.2 .1-1.1 .1 1.1 .1 1.8 .1-3.4 .1 3.0 .1-2.6 .1-.3 .1 1.5 .1 1.1 .1-2.2 .1 0 .1 .4 .1-.3 .1 1.2 .1-1.1 .1 .6 .1 .8 .1-.9 .1 2.0 .1-2.3 .1-.1 .1 3.6 .1-.7 .1-1.7 .1 1.0 .1-.6 .1-1.0 .1 1.5 .1-.5 .1 1.3 .1-3.9 .1 3.4 .1-.8 .1-1.0 .1 .3 .1 .1 .1-1.1 .1 1.0 .1 1.7 .1-2.9 .1 1.5 .1-2.4 .1 2.2 .1 1.3 .1-.5 .1 .1 .1-1.4 .1 2.1 .1-1.8 .1 2.3 .1-.8 .1-.7 .1 2.3 .1-2.3 .1 1.8 .1-1.1 .1-.1 .1 1.3 .1-.7 .1-.5 .1-.1 .1 .5 .1-.2 .1-.5 .1-.8 .1-1.9 .1 3.1 .1-.1 .1 1.8 .1-.9 .1 .9 .1 .8 .1-2.3 .1-.9 .1 2.1 .1-1.7 .1 .5 .1 2.1 .1-1.1 .1 .8 .1-3.1 .1 1.8 .1 1.4 .1-3.0 .1 1.9 .1 .3 .1-3.4 .1 4.9 .1-2.8 .1 .7 .1 2.3 .1-4.3 .1 2.9 .1-1.1 .1 .6 .1-1.0 .1 2.7 .1-3.0 .1 1.9 .1 .2 .1-.8 .1-.1 .1 0 .1 1.6 .1-.6 .1-.7 .1-1.2 .1 1.6 .1 .5 .1-.7 .1 1.9 .1-4.2 .1 5.6 .1-3.4 .1-1.1 .1-.7 .1 3.3 .1-.4 .1-.9 .1 .2 .1 .3 .1-.7 .1 2.0 .1-.6 .1-.9 .1-1.9 .1 3.8 .1-2.3 .1-.7 .1 3.0 .1-1.0 .1-3.1 .1 .5 .1 1.6 .1-1.1 .1 1.5 .1 3.5 .1 .4 .1-3.7 .1 1.1 .1 .1 .1-1.2 .1-1.7 .1 3.2 .1-1.5 .1 .8 .1 .4 .1-1.9 .1 3.2 .1-2.0 .1 .2 .1-.8 .1 1.5 .1 .4 .1-2.0 .1 1.5 .1-1.3 .1-.9 .1 1.1 .1 1.2 .1 0 .1 .7 .1-2.2 .1 .5 .1 .5 .1 .7 .1-.9 .1-1.0 .1-.7 .1 3.4 .1-.1 .1-2.1 .1 2.7 .1-1.9 .1 .7 .1 1.0 .1-2.1 .1-.4 .1-1.2 .1 2.6 .1 .2 .1 .6 .1-.3 .1-.6 .1 1.3 .1-2.7 .1 1.8 .1 .2 .1-.8 .1 2.4 .1-1.6 .1 1.2 .1-.6 .1-1.3 .1 2.7 .1-1.0 .1-1.4 .1-.1 .1-1.1 .1 1.1 .1-.1 .1 .6 .1-.7 .1 1.2 .1-.8 .1-1.8 .1 1.4 .1-.5 .1-.4 .1 1.3 .1 1.5 .1-2.6 .1-1.1 .1 2.4 .1 4.0 .1-4.5 .1 1.1 .1-.8 .1 1.6 .1 .8 .1-2.0 .1 1.7 .1-2.8 .1 1.6 .1-1.8 .1 1.8 .1-.9 .1 1.1 .1-1.7 .1 1.7 .1-.1 .1-.8 .1-.3 .1-.5 .1 1.1 .1 1.0 .1-.7 .1 .4 .1 1.4 .1-1.9 .1 .8 .1 .7 .1-.4 .1-.1 .1-.4 .1 2.4 .1-2.5 .1-.4 .1 1.3 .1 1.3 .1-.3 .1-1.7 .1 1.1 .1-.4 .1-.5 .1 .7 .1 0 .1-.6 .1 2.0 .1-2.6 .1 2.3 .1 .9 .1 0 .1-2.3 .1-.5 .1-1.7 .1 1.9 .1 3.2 .1-5.0 .1 0 .1 3.0 .1-.2 .1-3.1 .1 2.3 .1 .5 .1-2.3 .1 3.1 .1-2.8 .1 3.1 .1-1.1 .1-1.1 .1-1.2 .1 1.6 .1 .4 .1 0 .1-.6 .1 .5 .1 1.4 .1-2.2 .1 .9 .1 .8 .1-.5 .1 1.1 .1 .9 .1-2.4 .1 .8 .1-4.0 .1 3.3 .1 1.3 .1-2.2 .1 3.1 .1-4.0 .1 4.1 .1-2.4 .1-.6 .1 .7 .1 .3 .1-.9 .1-.4 .1 1.1 .1 1.8 .1-.6 .1 1.2 .1-2.4 .1 .3 .1 0 .1 .7 .1 .4 .1 1.6 .1-1.3 .1-.6 .1 1.5 .1-2.7 .1-.6 .1 2.5 .1-.6 .1 0 .1 1.0 .1-1.6 .1 .3 .1 .7 .1 .4 .1 .4 .1-1.1 .1 .2 .1-3.3 .1 4.6 .1-3.5 .1 1.9 .1 3.3 .1-3.6 .1-1.5 .1 4.0 .1-2.7 .1 .5 .1 0 .1 1.2 .1 .1 .1-1.1 .1 1.5 .1-2.5 .1 2.0 .1-1.6 .1 1.7 .1-1.7 .1 .3 .1 2.4 .1-3.2 .1 0 .1 2.2 .1-1.1 .1-.1 .1 .3 .1 2.9 .1-3.9 .1 1.0 .1 .5 .1-1.3 .1 1.1 .1 .7 .1-1.7 .1 2.5 .1-2.8 .1 1.3 .1 .6 .1 3.6 .1-6.2 .1 2.6 .1 2.8 .1-3.9 .1 2.2 .1-1.1 .1-2.0 .1 2.3 .1-1.6 .1 1.2 .1-1.9 .1 2.8 .1-3.9 .1 2.8 .1 1.8 .1-.9 .1-1.1 .1 .2 .1-.2 .1 3.9 .1-3.4 .1 .1 .1-.9 .1 .3 .1 1.4 .1-1.5 .1-.2 .1 .3 .1 .3 .1 .7 .1-.9 .1 .4 .1-.6 .1 2.5 .1-1.4 .1-.5 .1 .7 .1-.4 .1-1.8 .1 1.7 .1 2.3 .1-1.4 .1 .9 .1-2.3 .1-1.0 .1 1.0 .1 2.6 .1-2.9 .1 .2 .1 2.4 .1-1.6 .1 0 .1 .8 .1-.4 .1-.4 .1 .7 .1-1.2 .1 .9 .1 .8 .1-2.1 .1 1.1 .1-1.1 .1 2.3 .1-.1 .1 .4 .1 .2 .1 0 .1-.4 .1-1.8 .1 2.1 .1-2.3 .1 4.1 .1-2.5 .1 .4 .1-2.3 .1 2.9 .1 .2 .1-3.5 .1 1.3 .1 .2 .1-.2 .1 2.5 .1 1.0 .1-4.0 .1 2.7 .1-1.7 .1 2.1 .1-4.8 .1 2.6 .1 2.1 .1-2.5 .1 2.5 .1-2.1 .1 2.1 .1-.7 .1-1.3 .1-.4 .1 .8 .1 1.7 .1-1.5 .1-.8 .1 5.0 .1-6.1 .1 1.7 .1 1.0 .1-1.9 .1 1.3 .1-.5 .1-1.3 .1 2.4 .1-2.0 .1 .5 .1 2.6 .1-3.0 .1 2.2 .1 .8 .1-.3 .1-.6 .1-.9 .1-1.4 .1 2.0 .1 .3 .1-1.1 .1-.6 .1 2.3 .1-2.4 .1 1.9 .1-1.1 .1-1.5 .1 4.2 .1-1.3 .1 0 .1-2.5 .1 1.7 .1 .5 .1-1.3 .1 3.0 .1-4.5 .1 3.4 .1-3.2 .1 .4 .1 .4 .1 2.3 .1-1.6 .1 .1 .1-.3 .1-.7 .1 .8 .1-.1 .1 .8 .1 0 .1-2.5 .1 2.2 .1 2.3 .1-2.1 .1 .5 .1-.8 .1 .1 .1 .8 .1-1.6 .1 1.5 .1-1.9 .1 2.6 .1-2.4 .1 2.8 .1 .5 .1-3.3 .1 2.9 .1-1.4 .1 2.0 .1-2.1 .1 .3 .1 0 .1 2.0 .1-4.0 .1 3.4 .1-.8 .1-.7 .1 .3 .1 1.5 .1-.1 .1 1.1 .1-2.9 .1-1.5 .1 1.6 .1 .5 .1-.3 .1 2.1 .1 1.4 .1-2.4 .1-2.7 .1 3.6 .1-2.1 .1 .9 .1 1.0 .1-.6 .1-.5 .1 .5 .1 .6 .1-.2 .1 1.8 .1-6.3 .1 2.8 .1 .3 .1 1.8 .1-.8 .1 .8 .1-2.8 .1 1.5 .1 1.1 .1-.8 .1-.4 .1 .8 .1 1.8 .1-4.7 .1 4.6 .1-1.6 .1-1.4 .1 1.9 .1-.7 .1 1.5 .1-2.5 .1 2.2 .1-2.3 .1 1.5 .1 .5 .1-.9 .1 .9 .1-1.5 .1 2.1 .1-2.0 .1-.2 .1 .7 .1 .1 .1-.9 .1 2.0 .1-1.1 .1 .9 .1-2.6 .1 .3 .1 1.3 .1-.9 .1 1.1 .1 .9 .1 .7 .1 .5 .1-.9 .1-1.8 .1 1.6 .1-1.3 .1 1.3 .1-2.0 .1 3.1 .1-1.2 .1-.8 .1-1.4 .1 2.1 .1-1.0 .1 1.0 .1-1.2 .1 .3 .1 1.4 .1 1.1 .1-3.4 .1 1.4 .1 .7 .1-.6 .1-.4 .1 3.3 .1-3.7 .1 1.5 .1-1.1 .1 .5 .1-2.7 .1 4.0 .1-1.3 .1-1.0 .1 3.3 .1-2.4 .1-.4 .1-.2 .1 2.4 .1-1.3 .1-.4 .1-1.3 .1 .6 .1 1.6 .1-.5 .1-2.4 .1 1.4 .1 1.4 .1 3.1 .1-4.3 .1-1.8 .1 3.7 .1-1.5 .1-1.0 .1 2.4 .1-1.0 .1-.9 .1-.4 .1 1.5 .1 .3 .1-2.4 .1 3.5 .1-2.8 .1 3.4 .1-1.3 .1-.7 .1 .7 .1-1.1 .1 .6 .1 2.2 .1-2.8 .1 1.8 .1-2.1 .1 1.1 .1 1.2 .1-2.6 .1 1.9 .1-3.1 .1 1.3 .1 .9 .1 1.7 .1-.2 .1-2.0 .1 1.0 .1 .4 .1-2.2 .1 2.5 .1 1.2 .1-.1 .1-2.3 .1 .2 .1-.6 .1 .6 .1 .3 .1 1.2 .1-.7 .1-1.3 .1 2.2 .1 .1 .1-1.8 .1 .4 .1 .2 .1-1.9 .1 2.3 .1 .7 .1 1.6 .1-2.2 .1-.6 .1 .2 .1 1.0 .1 .2 .1-2.0 .1 1.3 .1 .6 .1-3.3 .1 4.3 .1-2.0 .1 1.4 .1-1.2 .1-.2 .1 .2 .1 .5 .1 .8 .1-1.4 .1-1.1 .1 .6 .1-.4 .1 2.2 .1-2.1 .1 3.1 .1-1.7 .1-.3 .1 1.8 .1-2.1 .1 .1 .1 1.4 .1 0 .1-2.2 .1 4.4 .1-2.4 .1-2.2 .1 1.3 .1 1.4 .1-.8 .1 .8 .1 1.9 .1-1.8 .1 1.4 .1-1.7 .1-1.6 .1 2.7 .1-2.7 .1 2.0 .1-.3 .1-1.9 .1 .2 .1 .7 .1 .7 .1 1.2 .1-1.5 .1 2.3 .1-1.3 .1-1.9 .1 .1 .1 .9 .1-.8 .1 .6 .1 1.1 .1-.6 .1 .9 .1-2.1 .1-.2 .1-.6 .1-.5 .1 1.7 .1 .7 .1-.4 .1 .3 .1 2.6 .1-3.9 .1 1.0 .1-.2 .1-.5 .1 2.8 .1-1.7 .1 1.6 .1-2.9 .1 3.7 .1 .5 .1-3.9 .1 1.1 .1-.1 .1 .9 .1-2.4 .1 2.3 .1 .3 .1-1.6 .1-2.1 .1 2.0 .1 .4 .1 1.4 .1-1.7 .1-.6 .1 2.2 .1-.3 .1 .5 .1-.9 .1 1.3 .1-.7 .1-2.8 .1 2.5 .1 .7 .1-.9 .1 1.8 .1-2.4 .1 1.5 .1-2.4 .1 1.5 .1-.6 .1-.6 .1-.3 .1 1.9 .1 .3 .1-1.4 .1-.7 .1 .5 .1 2.0 .1-2.4 .1 2.9 .1-3.5 .1 2.5 .1 .5 .1 .7 .1-2.0 .1-.5 .1-.8 .1 3.0 .1-1.3 .1-.4 .1 .1 .1 .8 .1-.3 .1 1.5 .1-4.2 .1 3.8 .1-1.7 .1 .6 .1-.3 .1 .3 .1 1.1 .1-.7 .1-2.0 .1 1.7 .1 0 .1 .6 .1-.4 .1-.2 .1 1.4 .1-2.6 .1 4.1 .1-3.4 .1-.6 .1 2.3 .1 .4 .1 .2 .1 .3 .1-1.2 .1-.5 .1 .4 .1-.5 .1-.6 .1 2.7 .1 .2 .1-2.2 .1-.3 .1-.3 .1-1.5 .1 1.3 .1 .2 .1 .6 .1-1.2 .1-1.1 .1 3.2 .1 1.4 .1-4.8 .1 2.5 .1 1.2 .1-2.5 .1-.3 .1 1.9 .1-.4 .1-.4 .1 2.8 .1-.1 .1-1.1 .1-.9 .1-.3 .1 1.5 .1-1.3 .1 2.1 .1-.3 .1-2.3 .1 1.8 .1 1.0 .1-1.1 .1-2.0 .1 .8 .1 0 .1 .6 .1-.1 .1-.5 .1 1.5 .1 .7 .1-2.4 .1-1.1 .1 2.3 .1-.4 .1 .5 .1-1.4 .1 1.3 .1-1.5 .1 2.5 .1 .7 .1-3.2 .1-2.1 .1 2.7 .1-.1 .1 1.0 .1-.2 .1 .6 .1 2.8 .1-4.1 .1 .2 .1 1.1 .1-2.9 .1 3.3 .1-1.7 .1-1.0 .1 .7 .1 1.7 .1 .5 .1 .5 .1-1.0 .1-1.4 .1 1.6 .1-.8 .1 3.0 .1-5.5 .1 4.6 .1-1.0 .1-.4 .1-.6 .1-.6 .1-.5 .1-.7 .1 4.5 .1-1.4 .1-.3 .1-.4 .1-2.8 .1 2.1 .1 .5 .1 1.3 .1-2.7 .1 1.6 .1-.6 .1 .3 .1-1.0 .1 1.5 .1-.4 .1-2.4 .1 3.9 .1 1.2 .1-3.8 .1 2.5 .1-2.6 .1 .6 .1 2.9 .1-2.0 .1 1.7 .1-1.5 .1 .9 .1-1.5 .1 2.0 .1 .5 .1-1.4 .1-1.5 .1 .2 .1-.7 .1 2.0 .1-.1 .1-1.5 .1 2.0 .1-1.8 .1 3.0 .1-1.3 .1 1.0 .1-2.9 .1-.3 .1-1.0 .1 3.1 .1-2.2 .1 3.1 .1-1.5 .1 .8 .1-2.6 .1 .9 .1 1.0 .1 .7 .1-2.5 .1 2.0 .1-1.4 .1 2.1 .1-1.3 .1-.1 .1 .9 .1 .9 .1-1.7 .1 1.9 .1-2.8 .1 1.6 .1-1.7 .1 1.6 .1-1.4 .1 1.2 .1 .8 .1-2.0 .1-1.0 .1 2.0 .1 .9 .1-.3 .1-1.4 .1 2.1 .1-1.4 .1 1.4 .1-2.1 .1 1.7 .1 .9 .1-2.3 .1 .5 .1 1.2 .1-.1 .1-.2 .1-.6 .1-1.8 .1 1.9 .1-1.5 .1 1.7 .1-3.0 .1 4.7 .1 .6 .1-1.8 .1-1.6 .1 .7 .1 1.5 .1-.3 .1-1.7 .1 2.4 .1-.6 .1-.2 .1-1.1 .1 .4 .1-.8 .1 1.1 .1-1.0 .1 2.2 .1-1.4 .1 .3 .1 .1 .1 0 .1-2.1 .1 3.3 .1-1.4 .1-.8 .1-.5 .1 .4 .1 .1 .1 .7 .1-1.0 .1 1.2 .1 0 .1-1.0 .1 3.6 .1-2.9 .1 .6 .1-.2 .1-.4 .1 1.1 .1 .9 .1-1.8 .1-1.0 .1 1.8 .1-3.4 .1 2.9 .1-.4 .1 .6 .1-2.2 .1 1.3 .1-.7 .1 .6 .1 1.4 .1-1.0 .1-.5 .1 2.3 .1-1.5 .1-2.5 .1 1.2 .1 1.8 .1 .1 .1-.3 .1 .1 .1-1.4 .1 1.0 .1-1.4 .1 .5 .1-.1 .1 .1 .1 .6 .1 .2 .1-.8 .1 2.4 .1-1.9 .1 2.5 .1-.7 .1-2.7 .1 2.6 .1-2.8 .1 3.5 .1-1.4 .1-1.6 .1-1.5 .1 2.2 .1-1.1 .1 3.0 .1-2.9 .1 1.3 .1 .9 .1-.6 .1 .3 .1-.6 .1 1.2 .1-2.0 .1 1.8 .1-2.1 .1 1.7 .1-1.6 .1 1.1 .1 1.0 .1 .8 .1-3.7 .1 1.3 .1-.3 .1 2.7 .1-2.5 .1 1.9 .1-1.5 .1-1.1 .1 1.9 .1-1.5 .1 2.3 .1 .1 .1 .7 .1-2.9 .1 3.2 .1-.7 .1-3.4 .1 4.9 .1-.6 .1-3.4 .1 1.7 .1-2.0 .1 1.5 .1 .4 .1 .5 .1-1.7 .1 .9 .1-1.1 .1 1.7 .1 .3 .1-.7 .1 1.4 .1-.5 .1-.5 .1 1.0 .1-3.0 .1 1.5 .1-2.1 .1 2.2 .1-.6 .1 1.6 .1-1.5 .1-.2 .1 .6 .1 0 .1 .8 .1-1.7 .1-.7 .1-.2 .1 3.4 .1-2.9 .1 1.0 .1-.8 .1 2.5 .1-1.8 .1 2.2 .1-2.4 .1 1.3 .1 .6 .1 .2 .1-2.6 .1 1.0 .1 .4 .1-2.2 .1 3.2 .1-.4 .1 .1 .1-2.3 .1 2.0 .1 .3 .1 .7 .1-1.9 .1 1.5 .1 1.6 .1-2.9 .1 0 .1 .1 .1-1.4 .1 1.4 .1 2.5 .1-3.2 .1 .9 .1 1.8 .1-.8 .1-.4 .1-.7 .1 .3 .1 .1 .1 .9 .1-.8 .1 1.1 .1-3.4 .1 3.3 .1-1.7 .1 .7 .1-.5 .1 1.3 .1-.9 .1 .9 .1-1.7 .1 1.2 .1 1.3 .1-.1 .1-1.8 .1 .6 .1-.6 .1 .3 .1 .2 .1 1.4 .1-.7 .1 1.1 .1 .1 .1-3.5 .1 2.0 .1-.9 .1-1.5 .1 .7 .1 .7 .1 2.7 .1-1.9 .1-.4 .1 .2 .1-.8 .1 1.1 .1-.3 .1-1.9 .1 1.4 .1 4.8 .1-3.4 .1-.9 .1 1.0 .1-2.0 .1 1.3 .1 1.0 .1-3.1 .1 1.1 .1 .4 .1 .2 .1-.3 .1 1.0 .1 .9 .1-.8 .1 .8 .1 .1 .1-2.0 .1 1.0 .1-.7 .1 1.2 .1-1.2 .1 .2 .1 2.3 .1-2.3 .1-1.6 .1 2.0 .1 .3 .1-1.0 .1 .7 .1 1.2 .1-1.9 .1 .4 .1-.6 .1 1.3 .1-.6 .1-1.0 .1 1.0 .1 2.4 .1-4.3 .1 .4 .1 2.1 .1-2.1 .1 4.1 .1-4.2 .1 .3 .1 .9 .1 2.0 .1-.3 .1-.3 .1-.3 .1 1.2 .1-3.8 .1 2.6 .1 1.4 .1-3.1 .1 1.8 .1 1.1 .1 0 .1-1.7 .1 2.5 .1-1.7 .1 .7 .1-2.6 .1 .4 .1 0 .1 3.1 .1-5.0 .1 .6 .1 3.2 .1-.7 .1-3.8 .1 3.1 .1 .1 .1 1.9 .1-3.8 .1 1.7 .1 1.9 .1-.3 .1-2.1 .1 .8 .1-1.4 .1 3.5 .1-2.2 .1 2.1 .1-.6 .1-2.0 .1 .9 .1 .9 .1-.2 .1 1.3 .1-.5 .1-.9 .1 .4 .1-1.7 .1 .2 .1 1.5 .1-.4 .1-1.7 .1 1.2 .1-.8 .1 .3 .1 2.2 .1-2.7 .1 .4 .1 1.5 .1-.6 .1 .1 .1-1.9 .1 1.7 .1-.4 .1-.5 .1 .3 .1 .3 .1 1.4 .1 1.3 .1-2.2 .1 1.7 .1-1.6 .1-2.0 .1 1.9 .1 1.5 .1 .1 .1-2.7 .1 3.8 .1-3.6 .1 0 .1 .3 .1 2.4 .1-1.3 .1 .6 .1-3.8 .1 2.7 .1-.1 .1 1.0 .1-1.4 .1 2.0 .1-2.2 .1-.9 .1-.3 .1 3.5 .1-.6 .1-1.8 .1 2.3 .1-1.6 .1 .1 .1-1.6 .1 1.1 .1 .8 .1 .1 .1-.9 .1 1.9 .1 .6 .1-2.8 .1 1.5 .1-2.3 .1 2.3 .1-1.6 .1 1.0 .1 .4 .1-.5 .1 1.6 .1-2.2 .1 .3 .1 1.0 .1-.4 .1 .3 .1-.5 .1-.7 .1 1.8 .1-.7 .1 1.0 .1 .5 .1-2.0 .1-.5 .1 .4 .1-.3 .1-1.6 .1 4.4 .1-1.5 .1 2.4 .1-3.5 .1 1.4 .1-.4 .1-.4 .1 1.3 .1-1.2 .1-.1 .1 .3 .1-2.9 .1 1.9 .1 0 .1 2.8 .1-1.2 .1 .2 .1-.2 .1-1.0 .1 2.3 .1-2.3 .1-1.4 .1 2.5 .1 .6 .1-1.2 .1 .3 .1 .7 .1 .7 .1-1.1 .1 1.3 .1-1.7 .1 2.2 .1-4.2 .1 2.8 .1-.7 .1-.2 .1-1.7 .1 2.8 .1-1.5 .1-.9 .1 .4 .1 .5 .1 .4 .1-1.2 .1 0 .1 1.6 .1-.6 .1 2.5 .1-2.9 .1 1.4 .1 1.2 .1-2.3 .1 1.4 .1-.8 .1-.3 .1 1.9 .1-3.1 .1 .5 .1-1.4 .1 2.0 .1 1.3 .1-1.5 .1 1.3 .1-1.9 .1 2.3 .1-1.5 .1-.4 .1 2.5 .1-1.9 .1 .7 .1-.6 .1 .7 .1-.7 .1-1.5 .1 1.8 .1 .2 .1-.1 .1-.7 .1 2.4 .1-3.0 .1 1.0 .1 .1 .1-1.5 .1-.1 .1 2.2 .1 0 .1-.6 .1-2.1 .1 1.6 .1 .6 .1 .5 .1 .7 .1-.9 .1 .6 .1 .9 .1-4.8 .1 4.0 .1-1.7 .1 1.1 .1-.4 .1-1.4 .1 .1 .1 1.6 .1-.7 .1 1.1 .1-1.3 .1 3.0 .1-2.9 .1 2.8 .1-3.3 .1 1.5 .1 .7 .1-2.9 .1 .4 .1 1.7 .1 .9 .1 .3 .1-1.0 .1 .6 .1-2.7 .1 .9 .1 2.3 .1-2.4 .1 .4 .1-1.8 .1 1.8 .1-1.6 .1 2.3 .1 1.4 .1-1.4 .1-.2 .1-.7 .1 1.2 .1-2.0 .1 .8 .1 3.1 .1-4.1 .1 .9 .1-1.0 .1 3.1 .1-1.7 .1-1.2 .1 0 .1 2.8 .1-.5 .1 .2 .1-1.1 .1 1.2 .1 .5 .1-.8 .1-2.7 .1-.4 .1 .6 .1 2.1 .1-2.1 .1 .5 .1 1.3 .1-1.1 .1-.4 .1 2.6 .1-.5 .1 .3 .1 .2 .1 .6 .1-1.7 .1-.2 .1-1.9 .1 1.8 .1-.4 .1 2.0 .1-.4 .1 .9 .1-.4 .1 .1 .1-.8 .1-.5 .1-.6 .1 .5 .1-1.2 .1 1.7 .1-.6 .1-2.3 .1-.8 .1 2.3 .1 .4 .1 .2 .1 1.9 .1-2.3 .1-.8 .1 2.0 .1 .8 .1 .7 .1-3.1 .1 .9 .1-.2 .1 2.3 .1-1.0 .1-.8 .1 .9 .1-1.3 .1 .2 .1 .2 .1-.6 .1 .3 .1 .8 .1-.2 .1 1.5 .1-.7 .1-1.1 .1-2.5 .1 .8 .1 1.2 .1 .1 .1-1.1 .1 1.2 .1 .5 .1-.8 .1 .6 .1 0 .1-.7 .1-.2 .1 .9 .1 .5 .1-1.6 .1-1.2 .1 1.3 .1 1.8 .1-2.5 .1 3.0 .1-1.8 .1 .8 .1-1.0 .1 1.6 .1-.6 .1 .4 .1-2.8 .1 3.2 .1-2.9 .1 1.6 .1 1.1 .1-.9 .1 .9 .1-.4 .1-.1 .1-1.1 .1 2.2 .1 .1 .1-1.9 .1-.5 .1 1.4 .1-1.2 .1 1.1 .1 .8 .1-.2 .1 1.0 .1-1.2 .1-1.8 .1 .2 .1 1.7 .1 1.6 .1-2.6 .1-.7 .1 2.7 .1-1.7 .1 .9 .1 .5 .1-2.4 .1 .7 .1-.2 .1 1.3 .1 .1 .1-1.3 .1 1.2 .1-2.7 .1 2.5 .1 0 .1-.4 .1-1.7 .1 1.6 .1-1.2 .1 3.0 .1-2.0 .1 .1 .1 .1 .1 .8 .1-.6 .1 .6 .1-1.7 .1 2.4 .1-1.9 .1 1.5 .1-.6 .1 .9 .1-1.3 .1-1.6 .1 .3 .1 1.1 .1 1.9 .1-2.1 .1 .6 .1 1.4 .1-2.1 .1 1.0 .1 0 .1-1.0 .1 .9 .1 1.0 .1 0 .1-1.6 .1 3.8 .1-3.0 .1-.7 .1-.5 .1-.3 .1 2.1 .1-4.4 .1 3.3 .1-1.5 .1 1.4 .1 .2 .1-1.5 .1 .4 .1 2.7 .1-2.2 .1 .7 .1-.4 .1 1.4 .1 .4 .1-.3 .1-.4 .1 0 .1-2.1 .1 3.0 .1-2.2 .1-.4 .1 .6 .1-.5 .1 1.4 .1 .4 .1 .7 .1-1.6 .1-.6 .1 .4 .1-1.1 .1 .5 .1 3.3 .1-3.3 .1 .4 .1 1.3 .1-.5 .1 .6 .1-1.9 .1-.2 .1 2.8 .1-2.3 .1 .7 .1 .3 .1-2.4 .1 2.0 .1-.6 .1 1.4 .1-1.0 .1-2.2 .1 3.5 .1-3.9 .1 2.5 .1-.3 .1 .1 .1 .7 .1 1.2 .1-2.2 .1 .3 .1 1.6 .1-.2 .1 .2 .1-.4 .1-.7 .1-.3 .1 0 .1 1.7 .1 .7 .1 .5 .1-3.5 .1 1.0 .1 .2 .1-.1 .1-1.2 .1 3.9 .1-.8 .1-1.9 .1-.4 .1 .6 .1-1.4 .1 1.0 .1 1.3 .1 1.1 .1-.9 .1 .4 .1-2.7 .1-2.6 .1 5.5 .1-1.4 .1-.3 .1 2.0 .1-3.1 .1 0 .1 .3 .1 2.8 .1-.8 .1-3.2 .1 4.1 .1-2.0 .1 .5 .1-1.4 .1 3.1 .1-1.7 .1 1.1 .1-2.7 .1 2.0 .1-.7 .1-.4 .1-.7 .1 .1 .1-.5 .1 .6 .1 .8 .1 .7 .1-2.6 .1 .7 .1 .5 .1-1.2 .1 1.6 .1 0 .1 .1 .1 .7 .1 .7 .1-.2 .1-.6 .1 .4 .1-1.7 .1-.2 .1 1.9 .1 0 .1 1.9 .1-2.9 .1-.9 .1 1.5 .1-.8 .1-.5 .1 2.6 .1 .7 .1-1.8 .1-1.2 .1 1.0 .1-.3 .1-1.6 .1 2.7 .1-.6 .1 1.1 .1-2.2 .1 .7 .1-.1 .1-2.0 .1 5.1 .1-5.5 .1 1.2 .1 .9 .1-1.4 .1 2.3 .1-1.0 .1 .6 .1 .2 .1-.2 .1 .1 .1-.3 .1 .7 .1 .5 .1-1.3 .1-.2 .1 0 .1 .9 .1-.8 .1 0 .1-1.4 .1 4.1 .1-3.7 .1 3.5 .1-1.1 .1 .3 .1-.9 .1 .3 .1-.3 .1 .4 .1 .3 .1 .8 .1-3.0 .1 1.8 .1 1.4 .1-.3 .1-2.9 .1 1.6 .1 0 .1 0 .1-3.0 .1 3.7 .1-3.0 .1 4.6 .1-1.8 .1-.9 .1 .9 .1-.6 .1-.8 .1 .5 .1 .6 .1-1.4 .1 1.8 .1 .5 .1 0 .1 .1 .1 .1 .1-.7 .1 .8 .1-1.5 .1 .4 .1 1.2 .1 .7 .1-2.8 .1-1.3 .1 4.3 .1-1.2 .1 .8 .1-1.1 .1-.8 .1-1.0 .1-.4 .1 2.9 .1-.5 .1-.8 .1-1.8 .1 .8 .1-.2 .1 .4 .1-3.1 .1 3.8 .1 1.6 .1-2.5 .1 .7 .1 .3 .1-1.6 .1 1.8 .1-1.5 .1 .4 .1 .9 .1-.4 .1 .2 .1-1.2 .1 2.0 .1-2.2 .1 2.3 .1-1.6 .1-.8 .1 1.3 .1-1.2 .1 .7 .1 .4 .1 1.2 .1 0 .1-.4 .1-.9 .1-1.5 .1 1.6 .1-.1 .1 .2 .1-.5 .1 0 .1 1.7 .1-2.6 .1 1.6 .1 1.5 .1-2.4 .1-.3 .1 .9 .1-.1 .1 .8 .1 1.3 .1-1.8 .1 .8 .1-1.4 .1 .2 .1 .9 .1-1.1 .1 2.2 .1-1.9 .1 .3 .1-1.1 .1 .8 .1-.7 .1 .6 .1-1.6 .1 2.2 .1 2.2 .1-4.5 .1 4.5 .1-2.3 .1 1.2 .1-2.3 .1 3.7 .1-3.8 .1 1.3 .1 2.0 .1-3.5 .1-1.3 .1 2.8 .1-.9 .1-.2 .1 .1 .1-.7 .1 3.5 .1-.2 .1-3.2 .1 1.6 .1-.4 .1 1.9 .1-2.4 .1 3.0 .1-1.9 .1-1.0 .1 .8 .1-.6 .1 3.6 .1-2.6 .1-.8 .1 .7 .1 1.7 .1-3.0 .1-.9 .1 3.7 .1-.8 .1-1.3 .1 .4 .1 1.5 .1-4.7 .1 4.9 .1-1.8 .1 1.1 .1-.9 .1 3.9 .1-4.6 .1 2.1 .1-4.6 .1 3.3 .1 1.0 .1-2.9 .1-.6 .1 2.6 .1 1.2 .1 .2 .1-2.3 .1 1.2 .1-2.1 .1 3.9 .1-2.9 .1 2.3 .1-1.9 .1-.1 .1 2.5 .1-3.1 .1 2.7 .1-2.1 .1-.6 .1 0 .1 2.5 .1-1.5 .1-.4 .1-1.4 .1 3.4 .1-.2 .1-.9 .1 .6 .1-5.0 .1 3.4 .1 .8 .1 0 .1-.9 .1 1.0 .1-1.2 .1 .1 .1-.7 .1 1.7 .1-1.0 .1 .2 .1 2.4 .1-1.8 .1 0 .1-1.8 .1 1.2 .1 1.9 .1-.5 .1-.6 .1-.3 .1 .3 .1 .4 .1-.9 .1-2.7 .1 5.6 .1-1.0 .1-1.6 .1 1.9 .1-3.4 .1 3.3 .1-1.4 .1 .9 .1-1.5 .1 .6 .1 .5 .1 .6 .1-.7 .1 0 .1-1.3 .1 2.9 .1-1.9 .1-.6 .1-.1 .1-1.1 .1 .6 .1-1.0 .1 2.2 .1-.3 .1 .3 .1-1.8 .1 1.0 .1-.2 .1 2.0 .1-3.1 .1 0 .1 3.5 .1-1.1 .1-2.5 .1 3.7 .1 .2 .1-.5 .1-4.0 .1 2.8 .1-1.2 .1 .7 .1-1.6 .1 4.1 .1-3.0 .1 1.2 .1 .7 .1-.3 .1-.2 .1-1.0 .1 .8 .1-.6 .1-2.5 .1 4.1 .1-2.1 .1 .2 .1 .1 .1-1.2 .1 .2 .1-.7 .1 2.8 .1 .9 .1-1.4 .1-1.5 .1 3.1 .1-2.0 .1-1.6 .1-.4 .1 2.6 .1 1.6 .1-2.3 .1-.3 .1 .4 .1-.7 .1 .4 .1 1.0 .1-1.2 .1 2.1 .1-2.4 .1 2.1 .1-.4 .1-.9 .1 .1 .1-.1 .1 2.5 .1-3.1 .1 2.5 .1-.2 .1-1.7 .1 2.5 .1-5.0 .1 3.3 .1-.2 .1-.1 .1 1.0 .1-1.5 .1 .3 .1 1.6 .1-1.5 .1-1.2 .1 2.0 .1-.8 .1-.6 .1 1.4 .1-1.6 .1-.3 .1 .9 .1 .1 .1 .3 .1-1.5 .1 3.6 .1-1.3 .1-.6 .1 .1 .1-3.4 .1 4.3 .1-2.5 .1 1.9 .1-2.1 .1 2.7 .1-1.9 .1 .5 .1 2.1 .1-.6 .1-3.0 .1 .9 .1 1.1 .1-.5 .1 1.3 .1-1.9 .1-1.5 .1 1.2 .1 .9 .1 1.0 .1 .2 .1 .6 .1-1.2 .1-.6 .1 1.2 .1-1.0 .1-.5 .1 0 .1 1.8 .1 .7 .1-.2 .1-3.7 .1 3.4 .1-2.8 .1 1.0 .1 1.2 .1-2.4 .1 .1 .1 .6 .1 3.1 .1-.8 .1-2.4 .1 1.3 .1 0 .1 .2 .1-1.3 .1 2.7 .1-2.3 .1 1.5 .1-3.1 .1 2.6 .1-.3 .1 1.5 .1-4.9 .1 3.9 .1 .4 .1-1.4 .1 2.0 .1 1.0 .1-1.5 .1-.1 .1 .7 .1-1.2 .1 1.0 .1-.8 .1-1.6 .1-.4 .1 2.8 .1-.7 .1-1.6 .1 .8 .1 1.9 .1-4.0 .1 1.0 .1 2.0 .1 .2 .1-2.5 .1 .2 .1 1.5 .1 1.5 .1-1.7 .1-2.9 .1 4.2 .1-1.4 .1-.5 .1-.9 .1 3.0 .1-1.2 .1 .2 .1-.1 .1 .2 .1 .5 .1 1.1 .1-3.5 .1 1.2 .1-.4 .1 2.6 .1-2.4 .1-1.7 .1 2.0 .1-.9 .1 0 .1 .4 .1-1.1 .1-.8 .1 4.9 .1-2.6 .1-1.0 .1 2.0 .1 .9 .1-3.9 .1 1.6 .1 1.0 .1-1.5 .1 1.7 .1-2.1 .1 .7 .1 .7 .1 .7 .1-.5 .1-.9 .1 .4 .1-2.2 .1 5.3 .1-3.2 .1 .2 .1 .7 .1 .4 .1-.3 .1-1.3 .1-1.2 .1 1.9 .1-.8 .1 .3 .1 .7 .1 .3 .1 1.3 .1-1.8 .1-2.0 .1 2.9 .1 .5 .1-3.2 .1 2.8 .1-.5 .1-.9 .1 .9 .1 .2 .1 .3 .1 .7 .1-1.5 .1 0 .1 3.1 .1-4.4 .1 1.0 .1-.1 .1 1.4 .1 .5 .1-3.1 .1 3.2 .1-3.0 .1 4.8 .1-4.1 .1 2.2 .1-1.7 .1 1.2 .1-1.8 .1 1.1 .1-.1 .1 0 .1 .9 .1-1.5 .1 .1 .1-1.2 .1 1.5 .1-.5 .1 1.8 .1-.3 .1-1.7 .1 1.4 .1 1.1 .1-1.9 .1-1.2 .1 4.6 .1-2.4 .1 .2 .1 2.2 .1-4.1 .1 1.4 .1-2.8 .1 3.0 .1-.1 .1-1.5 .1 0 .1 .8 .1 0 .1 2.2 .1-2.3 .1 .2 .1-.1 .1-1.7 .1 1.4 .1-1.1 .1 1.8 .1-2.9 .1 1.4 .1 1.7 .1-2.9 .1 .6 .1 3.2 .1-2.9 .1 1.7 .1 .4 .1-1.7 .1-.8 .1 4.0 .1-2.6 .1 1.4 .1-1.6 .1 1.4 .1-2.1 .1-.1 .1 .4 .1 .6 .1 0 .1 .3 .1 1.0 .1-1.2 .1 1.8 .1-2.0 .1 1.7 .1 .8 .1 .6 .1-4.7 .1 4.6 .1-4.3 .1 4.0 .1-1.8 .1 .4 .1-1.6 .1 2.4 .1-.3 .1-1.6 .1 0 .1 1.8 .1 .2 .1-.3 .1-1.4 .1 .4 .1 1.2 .1-.1 .1 .4 .1-1.3 .1-1.0 .1 1.2 .1 .2 .1-1.2 .1 1.2 .1-1.6 .1 1.4 .1-1.1 .1 3.4 .1-1.1 .1-1.2 .1-1.9 .1 .1 .1 2.4 .1-1.1 .1 .6 .1-2.3 .1 0 .1 2.1 .1-.4 .1-1.4 .1 .6 .1 2.0 .1-1.5 .1 1.3 .1 1.3 .1-1.6 .1-.3 .1-.9 .1 2.3 .1-3.3 .1 .4 .1 1.4 .1-1.9 .1 3.1 .1-2.0 .1 1.5 .1-1.1 .1 .1 .1 .3 .1-2.4 .1 1.1 .1 .7 .1 3.4 .1-1.8 .1-.1 .1-2.2 .1 2.4 .1 .5 .1-.6 .1 2.3 .1-4.9 .1 .3 .1 1.0 .1-.9 .1 1.3 .1 .6 .1-.6 .1 .1 .1 .4 .1 .4 .1-1.7 .1-.1 .1 2.4 .1-1.9 .1-.6 .1 1.4 .1-.8 .1 .6 .1-.3 .1 .9 .1 .4 .1-2.2 .1-.5 .1 3.5 .1-2.8 .1-1.1 .1-.4 .1 2.3 .1-.8 .1-1.4 .1 1.1 .1-.2 .1 2.6 .1-1.0 .1-.3 .1-1.5 .1 1.3 .1 1.1 .1-.6 .1 1.1 .1-1.2 .1 .7 .1-.2 .1-1.3 .1 2.4 .1-1.3 .1 .6 .1-2.3 .1-.1 .1 1.2 .1-.8 .1 1.8 .1-.3 .1 1.0 .1-.7 .1-2.2 .1 2.6 .1-2.0 .1-.1 .1 1.0 .1-.1 .1 1.3 .1 2.3 .1-3.0 .1 1.3 .1-2.1 .1 .7 .1-1.1 .1 .1 .1 2.2 .1-1.1 .1 0 .1-1.5 .1 3.1 .1-2.3 .1-.6 .1 .8 .1 .8 .1 .1 .1 .9 .1-3.1 .1 .8 .1 2.5 .1 .9 .1-3.7 .1 .7 .1-1.8 .1 .9 .1-.1 .1 1.0 .1-1.3 .1 2.6 .1-1.2 .1-.3 .1 1.5 .1-1.5 .1-1.2 .1 1.6 .1 2.7 .1-2.6 .1 .5 .1-.9 .1 0 .1 .9 .1-3.9 .1 1.7 .1 .9 .1 .4 .1 2.1 .1 1.3 .1-2.3 .1-.3 .1 .4 .1 1.0 .1-3.1 .1 .6 .1 .8 .1 .2 .1-2.7 .1 2.9 .1-2.5 .1 2.9 .1 .1 .1-3.9 .1 3.5 .1-.4 .1-1.0 .1 1.9 .1 1.4 .1-1.9 .1-2.0 .1-.4 .1 .3 .1 .2 .1 2.7 .1-1.1 .1-.3 .1 1.1 .1-1.1 .1 0 .1-1.0 .1 .2 .1 .8 .1-1.4 .1 3.5 .1-1.9 .1-.9 .1 1.9 .1-2.5 .1 2.6 .1-1.2 .1 2.3 .1-3.0 .1 .1 .1-.5 .1-.5 .1 1.9 .1-1.7 .1 1.8 .1-1.2 .1 2.1 .1-4.5 .1 3.7 .1-.5 .1 0 .1-.8 .1 3.0 .1-2.7 .1 1.0 .1-.8 .1-.2 .1 .6 .1 .7 .1-2.2 .1 .8 .1-1.2 .1 2.3 .1-1.6 .1 .2 .1 1.7 .1-.8 .1 .5 .1-.7 .1 .7 .1-.4 .1-1.5 .1 1.7 .1-.7 .1 .1 .1 .7 .1-1.0 .1-.7 .1 2.8 .1 .9 .1-2.8 .1 1.9 .1-1.0 .1-1.2 .1-.3 .1 .7 .1-.2 .1 .2 .1 .2 .1-1.2 .1 2.5 .1-2.5 .1 .1 .1 2.5 .1-.2 .1 .8 .1-1.6 .1-1.0 .1 2.2 .1-1.5 .1 0 .1-.9 .1 1.5 .1-3.4 .1 3.6 .1-3.2 .1 3.6 .1-3.0 .1 2.8 .1 2.2 .1-3.4 .1-1.1 .1 3.9 .1-3.0 .1-.8 .1 2.9 .1-5.1 .1 1.7 .1 .2 .1 .8 .1-1.6 .1 3.5 .1 .3 .1-1.4 .1-.4 .1-1.5 .1 2.6 .1-1.5 .1 1.7 .1 .5 .1-1.2 .1-2.7 .1 1.4 .1 2.9 .1-1.3 .1 1.4 .1-4.6 .1 2.7 .1-.1 .1-1.8 .1 1.2 .1 2.1 .1-.6 .1-1.3 .1 1.1 .1 1.0 .1-2.8 .1 1.7 .1 1.0 .1-2.2 .1 2.5 .1-1.7 .1 1.5 .1-.3 .1-.8 .1-.7 .1-.4 .1 1.0 .1 .1 .1 1.5 .1-1.9 .1 .5 .1 1.7 .1-1.7 .1 .2 .1 1.4 .1-1.9 .1 .4 .1 .5 .1-1.1 .1-1.3 .1-.4 .1 1.6 .1 1.6 .1-.1 .1 .8 .1-.9 .1-2.0 .1-1.0 .1 1.2 .1 .3 .1-.6 .1 2.1 .1-2.1 .1 1.7 .1 .3 .1-3.2 .1 1.7 .1 2.1 .1-.6 .1-.9 .1-1.5 .1 .5 .1 1.0 .1 1.5 .1-1.0 .1-.7 .1 .4 .1 .7 .1-3.2 .1 1.0 .1 1.3 .1 1.4 .1-.1 .1-2.3 .1 1.0 .1-1.0 .1 .4 .1 .7 .1-.6 .1-.3 .1-.7 .1-.5 .1 1.7 .1 .5 .1 .5 .1-1.8 .1 .2 .1 2.4 .1-1.0 .1 .6 .1-1.8 .1-.2 .1-.6 .1 2.7 .1-2.6 .1-.8 .1 1.2 .1 2.6 .1-1.6 .1 .3 .1-.2 .1-.2 .1-.1 .1-1.6 .1 3.9 .1-2.3 .1 1.7 .1-3.4 .1 2.6 .1-2.2 .1-.1 .1 2.0 .1 .9 .1 .4 .1 0 .1-2.0 .1 1.3 .1-1.7 .1 .1 .1 .9 .1-.4 .1 1.2 .1-3.3 .1 3.7 .1-2.2 .1 2.6 .1-.4 .1-2.9 .1 1.4 .1 .9 .1-1.8 .1 0 .1 .6 .1 1.3 .1 .2 .1-1.6 .1 1.5 .1 .8 .1-.7 .1-2.0 .1-.2 .1 1.5 .1 .6 .1-.5 .1-1.0 .1-.6 .1 2.7 .1-1.8 .1 2.5 .1-3.7 .1 1.0 .1-.4 .1 3.1 .1-.7 .1-2.2 .1-1.8 .1 3.9 .1-1.3 .1-1.6 .1-.4 .1 2.4 .1-.8 .1 .4 .1 .4 .1-1.0 .1 .1 .1 1.2 .1-1.0 .1-.2 .1 1.2 .1-3.3 .1 4.0 .1-1.0 .1-1.5 .1 .8 .1 1.7 .1-.8 .1-2.9 .1 .9 .1 1.5 .1 2.0 .1-1.2 .1-1.2 .1 .9 .1-.7 .1-.4 .1 .9 .1-3.1 .1 3.9 .1-.6 .1-1.2 .1-.5 .1-.5 .1 1.9 .1-.2 .1 .1 .1 1.9 .1-4.9 .1 1.9 .1-.1 .1 2.1 .1-1.4 .1-.9 .1 1.4 .1 .3 .1 1.5 .1-1.7 .1-.9 .1 0 .1-.4 .1 1.6 .1 .4 .1-1.3 .1 .1 .1 1.9 .1-1.6 .1 .5 .1-1.9 .1 .6 .1-1.9 .1 .9 .1 2.2 .1 1.1 .1-1.9 .1-1.2 .1 1.6 .1 1.3 .1-1.6 .1 1.4 .1-1.3 .1-1.4 .1 .4 .1 .8 .1 3.2 .1-2.1 .1-1.1 .1 .7 .1-.1 .1-.8 .1 .4 .1-.2 .1 1.3 .1 1.0 .1-.3 .1-2.0 .1 1.0 .1-1.5 .1-.5 .1 1.5 .1 .6 .1-.8 .1 1.1 .1 0 .1-.1 .1-1.1 .1-1.5 .1 3.9 .1-2.8 .1 1.5 .1-.3 .1-1.0 .1 2.7 .1-1.5 .1-.8 .1-.5 .1-.7 .1-.4 .1 2.3 .1-1.2 .1 0 .1 1.1 .1-1.0 .1 1.2 .1-1.6 .1 .2 .1 1.8 .1-2.0 .1 1.6 .1-.1 .1-.7 .1-2.0 .1 .4 .1 .3 .1-.3 .1 2.7 .1-2.1 .1-.5 .1 .9 .1 .5 .1-1.9 .1 2.8 .1 .1 .1-1.6 .1 1.8 .1-3.0 .1 1.3 .1 .5 .1 .3 .1 1.3 .1-1.8 .1-.9 .1 1.5 .1 0 .1 .3 .1-.9 .1 .6 .1-.9 .1 1.4 .1-1.5 .1 0 .1 2.2 .1-2.3 .1 .9 .1 .7 .1-1.1 .1 1.5 .1-1.8 .1 2.0 .1-3.2 .1 .2 .1 1.8 .1 1.7 .1 .2 .1-3.0 .1 1.0 .1-.6 .1-2.0 .1 3.5 .1-1.3 .1 2.1 .1-1.3 .1-1.0 .1-.2 .1 .6 .1 .8 .1-1.2 .1 4.1 .1-3.2 .1-1.7 .1 1.5 .1 1.4 .1-.9 .1-1.0 .1-.4 .1-.1 .1-.5 .1 .8 .1 1.0 .1-1.0 .1 2.7 .1-1.6 .1-1.0 .1 .5 .1 1.9 .1-3.9 .1 2.4 .1 3.0 .1-2.1 .1-2.3 .1 1.2"/>
<path stroke="#B177DE" stroke-width="1.25" d="M83.4 309.5l.1-11.8 .1-12.2 .1-13.1 .1-9.9 .1-13.1 .1-10.1 .1-15.4 .1-13.6 .1-13.6 .1-14.4 .1-12.6 .1-10.9 .1-12.8 .1-2.7 .1-7.8 .1-4.4 .1-5.4"/>
<path stroke="#B177DE" d="M64.4 320.1l.1 1.8 .1-2.3 .1 .5 .1-.1 .1-1.1 .1 0 .1 1.2 .1 .9 .1-1.1 .1 1.1 .1 .3 .1 0 .1-2.4 .1 3.0 .1-.4 .1-.1 .1-1.0 .1 0 .1-.7 .1 1.2 .1 .6 .1-1.8 .1 1.7 .1-1.6 .1 1.3 .1-.9 .1 1.3 .1 .4 .1-1.2 .1-.9 .1 .1 .1 1.3 .1-1.4 .1 1.8 .1-.8 .1 .7 .1-1.8 .1-.5 .1 .3 .1 1.4 .1-1.5 .1 1.9 .1-3.4 .1 1.7 .1 .6 .1-2.0 .1 1.4 .1-1.0 .1 1.7 .1-.2 .1 1.2 .1-1.9 .1-1.0 .1 1.3 .1 .9 .1-.1 .1 .1 .1 1.3 .1-1.9 .1 .1 .1-.7 .1 .3 .1 2.0 .1-.9 .1-3.6 .1 4.7 .1-3.9 .1 1.9 .1 1.7 .1-1.0 .1 .5 .1 .4 .1-.7 .1-1.9 .1 2.0 .1-1.4 .1-2.1 .1 2.6 .1 1.1 .1-.5 .1-.2 .1 2.1 .1-1.8 .1 .8 .1-.7 .1 1.6 .1-2.4 .1 1.9 .1 .8 .1-2.7 .1 1.7 .1-3.0 .1 2.1 .1 .5 .1-1.9 .1-1.2 .1 2.3 .1-.5 .1 .6 .1 .2 .1 .6 .1 .9 .1-1.3 .1-2.5 .1 2.7 .1-.3 .1-.3 .1 1.8 .1-1.7 .1-.7 .1 1.0 .1-2.5 .1 3.1 .1-1.1 .1 2.0 .1-1.2 .1-.4 .1-.2 .1-1.7 .1 1.3 .1 .5 .1 .8 .1-.6 .1 .3 .1 0 .1-1.5 .1 1.0 .1-.6 .1-1.3 .1-.3 .1 2.9 .1 .7 .1 0 .1-2.8 .1 2.9 .1 .1 .1-2.9 .1 1.5 .1 1.5 .1-1.9 .1 1.3 .1-2.2 .1 .3 .1 1.5 .1-1.3 .1 .4 .1 0 .1-1.4 .1 3.1 .1-2.0 .1-.3 .1-.1 .1 .6 .1-1.2 .1 2.2 .1-1.5 .1 1.4 .1-2.0 .1-.2 .1 .1 .1 1.4 .1-1.9 .1 2.7 .1-1.5 .1 1.5 .1-1.5 .1 1.4 .1-2.2 .1-.1 .1 2.1 .1-1.4 .1 1.9 .1-2.1 .1 1.5 .1-1.7 .1-1.1 .1 3.9 .1-2.0 .1 1.4 .1-.9 .1-2.4 .1 2.6 .1 .9 .1 .2 .1 .5 .1-1.6 .1-.6 .1 .2 .1-1.5 .1-9.5"/>
<path stroke="#B177DE" d="M85.1 125.7l.1-2.4 .1-3.6 .1-2.9 .1-4.7 .1-.9 .1-4.5 .1-.1 .1-2.8 .1-1.4 .1-1.3 .1 0 .1-1.0 .1-2.8 .1-2.6 .1 1.9 .1-4.7 .1 0 .1-.7 .1-1.6 .1 1.6 .1-2.1 .1-.1 .1-2.5 .1 .6 .1-2.0 .1-.8 .1-.2 .1-.6 .1-.5 .1-1.7 .1-2.3 .1 .7 .1-3.6 .1 2.3 .1-1.4 .1 1.3 .1-5.1 .1 5.1 .1-3.7 .1-2.3 .1 1.7 .1-.6 .1-.8 .1 1.4 .1-4.4 .1 .7 .1-.8 .1-1.6 .1 .6 .1 .7 .1-3.0 .1 1.2 .1 .3 .1-.7 .1-3.0 .1 2.2 .1-1.0 .1 1.8 .1-1.8 .1 2.4 .1-4.1 .1 2.1 .1-1.9 .1 3.2 .1-.4 .1-3.2 .1 1.9 .1-1.1 .1-2.0 .1 .6 .1 1.3 .1 .4 .1-1.2 .1 .8 .1-.1 .1-.1 .1-1.9 .1 1.6 .1 .5 .1-2.6 .1 3.7 .1-.1 .1-1.6 .1 2.3 .1-3.6 .1-.2 .1 .4 .1-.1 .1 3.2 .1-2.2 .1-.1 .1 .5 .1 1.6 .1-1.7 .1-.7 .1 .9 .1 1.3 .1-1.8 .1 2.1 .1-1.3 .1-.6 .1 .9 .1 2.0 .1-2.7 .1 2.1 .1-.9 .1-.4 .1 0 .1 1.0 .1-.1 .1-.2 .1 .5 .1-1.8 .1 .4 .1-.3 .1 1.0 .1 .3 .1-.1 .1 1.3 .1-1.7 .1 1.0 .1 1.6 .1 1.2 .1-1.7 .1 1.7 .1 .6 .1-2.5 .1 2.0 .1-1.1 .1 1.3 .1 1.4 .1-1.5 .1 2.7 .1-.4 .1 .4 .1 1.4 .1-1.2 .1-.7 .1 2.5 .1-.5 .1 1.0 .1-.7 .1 .6 .1 .2 .1 .1 .1 1.0 .1 .4 .1 1.3 .1 4.3 .1-4.3 .1-.8 .1 3.0 .1-1.9 .1 .8 .1 1.1 .1 .8 .1 .4 .1 .6 .1-.1 .1 1.9 .1 0 .1-1.3 .1 .7 .1-1.0 .1 2.8 .1-.7 .1 3.0 .1-2.8 .1 3.1 .1-2.7 .1-.5 .1 1.4 .1 1.8 .1 1.2 .1-1.9 .1 2.6 .1-1.5 .1 .4 .1 .6 .1 2.8 .1-1.4 .1 .5 .1-1.9 .1 2.5 .1 .5 .1 2.0 .1-2.7 .1 .6 .1 .1 .1 .7 .1 2.0 .1-1.5 .1 3.0 .1-1.2 .1-.8 .1 .7 .1-.5 .1 .3 .1 3.6 .1 0 .1-1.9 .1 1.1 .1 2.9 .1-2.5 .1 1.5 .1 .8 .1-.5 .1 .4 .1 .2 .1 1.0 .1-1.6 .1 2.3 .1 .6 .1-1.4 .1 2.6 .1-1.3 .1-1.6 .1 1.2 .1 2.9 .1 1.0 .1-.7 .1-.9 .1 2.1 .1 1.7 .1-.7 .1-1.3 .1 2.8 .1-.4 .1 .5 .1 .7 .1 1.1 .1-.4 .1-.6 .1 1.5 .1 .8 .1 1.7 .1-2.5 .1 1.8 .1-.5 .1 1.9 .1-.6 .1-2.6 .1 5.4 .1-1.6 .1-.1 .1 0 .1 1.0 .1 .1 .1 1.9 .1 .8 .1 .2 .1 .9 .1-1.0 .1 2.2 .1-.4 .1 1.1 .1 .7 .1-.8 .1 2.4 .1-.1 .1-1.0 .1 3.1 .1 .4 .1-3.5 .1-.4 .1 2.4 .1 1.8 .1 1.0 .1 .1 .1-.3 .1 1.6 .1 .2 .1-1.0 .1 1.2 .1 1.5 .1-1.6 .1 .5 .1 .2 .1 3.2 .1-.5 .1 .6 .1-1.0 .1 .9 .1 1.9 .1-1.4 .1 2.2 .1-1.0 .1 .4 .1 1.2 .1 .7 .1 1.6 .1-2.2 .1 2.9 .1-2.6 .1 .3 .1-1.2 .1 4.1 .1 1.2 .1-2.9 .1 1.5 .1 .5 .1-1.2 .1 2.4 .1 .7 .1-.6 .1-.2 .1 1.8 .1 .9 .1-2.1 .1 2.0 .1 1.2 .1-3.7 .1 4.2 .1 2.1 .1-3.3 .1 3.6 .1-1.6 .1 1.5 .1-.6 .1-.8 .1-.3 .1 5.3 .1-4.1 .1 1.6 .1 2.5 .1-1.0 .1 .2 .1-2.3 .1 2.1 .1-.5 .1-.2 .1 3.0 .1 .9 .1-1.6 .1 .5 .1 1.7 .1 .9 .1-2.0 .1 3.1 .1 0 .1-.8 .1-1.0 .1 2.4 .1 .5 .1 1.7 .1-2.6 .1 3.0 .1-2.0 .1 1.4 .1-.4 .1 .6 .1 2.0 .1-2.3 .1 2.2 .1-1.0 .1 .6 .1-.5 .1 1.4 .1-2.3 .1 2.4 .1 1.9 .1 .1 .1-2.7 .1 1.0 .1 1.2 .1 3.1 .1-2.5 .1 .9 .1 0 .1 1.0 .1-1.1 .1 1.7 .1 .6 .1 1.0 .1-2.0 .1 2.5 .1 1.6 .1-1.1 .1 .2 .1-3.6 .1 5.0 .1 1.0 .1-.5 .1-.6 .1 .7 .1 3.0 .1-4.3 .1 .6 .1 2.2 .1-.8 .1-2.7 .1 3.2 .1 .4 .1-1.3 .1 1.9 .1 0 .1-2.2 .1 3.0 .1 2.3 .1-.3 .1-3.3 .1-.1 .1 1.9 .1 .5 .1-1.8 .1 .9 .1 2.8 .1-1.2 .1 1.2 .1-1.1 .1 1.5 .1-1.7 .1 .2 .1-.4 .1-1.0 .1 2.1 .1-1.0 .1 1.3 .1 1.0 .1 .3 .1 .4 .1-.7 .1 .6 .1 1.8 .1-1.4 .1 .5 .1-2.8 .1 1.9 .1 3.0 .1-2.1 .1 0 .1 2.9 .1-2.3 .1 3.1 .1-.9 .1-.2 .1-1.3 .1 4.7 .1-3.4 .1 1.2 .1 3.0 .1-2.0 .1 2.7 .1-.1 .1 .2 .1-.5 .1 .9 .1 1.6 .1-1.2 .1 2.4 .1-.1 .1 .7 .1-.1 .1 .7 .1 0 .1 .9 .1-.3 .1 .2 .1-1.3 .1-.7 .1 2.5 .1 1.3 .1-2.1 .1-.5 .1 1.5 .1 1.3 .1 .9 .1-1.3 .1-.8 .1 1.6 .1 1.1 .1-.7 .1 1.5 .1-1.6 .1 1.9 .1 1.1 .1-3.1 .1 .4 .1 2.0 .1 3.3 .1-3.1 .1-.5 .1 1.9 .1-1.6 .1-1.7 .1 1.0 .1 3.0 .1-3.6 .1 .4 .1 3.0 .1-.7 .1 1.5 .1-2.7 .1 .5 .1 .7 .1-1.0 .1 1.4 .1 .2 .1 1.4 .1-1.0 .1-.3 .1 1.2 .1 .9 .1 .1 .1-.9 .1-.6 .1 0 .1-1.0 .1 1.9 .1 0 .1 2.2 .1-1.7 .1 .8 .1 .8 .1-3.8 .1 1.6 .1 .7 .1 .5 .1-1.4 .1 2.6 .1 .2 .1-.4 .1 .4 .1-2.1 .1 2.9 .1-2.1 .1-1.4 .1 2.6 .1 .5 .1-1.2 .1-1.1 .1 .8 .1 1.3 .1-2.8 .1 4.6 .1 .1 .1-1.3 .1 1.7 .1-1.4 .1-1.0 .1 2.3 .1 .1 .1-1.7 .1-.5 .1 .7 .1 2.8 .1-1.6 .1 4.0 .1-4.2 .1 1.7 .1-.2 .1-.5 .1 1.5 .1-2.0 .1 1.2 .1-1.2 .1-1.1 .1 2.9 .1-1.3 .1-.1 .1 2.6 .1-.8 .1 .8 .1 1.9 .1-1.8 .1 .5 .1-1.8 .1 2.7 .1 .1 .1-2.2 .1 2.4 .1-.3 .1-.5 .1 .6 .1 3.1 .1-3.7 .1 .6 .1 .7 .1-.1 .1-1.9 .1 3.3 .1 .5 .1 1.2 .1-2.6 .1-.7 .1 2.6 .1-1.9 .1 1.5 .1-.2 .1 .9 .1-.5 .1 1.7 .1-1.8 .1 4.4 .1-1.8 .1-1.5 .1-.2 .1 1.3 .1-.1 .1-.2 .1 3.0 .1-.2 .1-2.3 .1 2.3 .1-.5 .1 1.2 .1-1.5 .1 3.7 .1-2.3 .1 2.7 .1-2.9 .1 2.5 .1-1.6 .1 2.5 .1-2.1 .1-.9 .1 .2 .1 .7 .1 1.8 .1-.1 .1-.2 .1 1.4 .1 .9 .1-3.1 .1 2.7 .1 1.8 .1-3.5 .1 .3 .1 1.4 .1 0 .1-.8 .1 .7 .1 2.3 .1-.7 .1-2.0 .1-.9 .1 .9 .1 1.8 .1-1.1 .1 .1 .1 2.2 .1-1.1 .1 0 .1 .9 .1 1.7 .1-1.2 .1 .6 .1-.6 .1 2.0 .1-3.3 .1 .3 .1 1.0 .1 3.3 .1-.4 .1-3.2 .1 1.0 .1 1.4 .1-.4 .1 1.2 .1-1.5 .1-1.3 .1 3.0 .1 1.0 .1-3.3 .1-.3 .1 2.0 .1-1.6 .1 3.1 .1-1.8 .1 2.5 .1-1.1 .1 .8 .1 .8 .1-.9 .1-.8 .1 2.6 .1-2.7 .1 3.8 .1-2.3 .1 .3 .1 1.3 .1 .3 .1 .3 .1-2.2 .1 .9 .1 1.7 .1 .3 .1-.4 .1 2.0 .1-1.6 .1 1.6 .1 .4 .1-.7 .1-.5 .1 1.4 .1-.2 .1 .5 .1-1.7 .1 1.9 .1 1.6 .1-2.1 .1 .7 .1-.3 .1 1.6 .1-3.4 .1 4.7 .1-1.1 .1-.8 .1 .8 .1 1.3 .1-.8 .1 .6 .1 .8 .1-1.0 .1 .9 .1 1.1 .1-1.0 .1-1.3 .1 1.9 .1 1.8 .1-2.8 .1 1.2 .1 .1 .1 .8 .1-1.4 .1 .6 .1 2.7 .1-1.4 .1-1.5 .1 1.9 .1-.7 .1 2.0 .1-3.8 .1 2.3 .1 1.3 .1-2.7 .1 .8 .1 1.7 .1-.4 .1-.3 .1 .9 .1-2.0 .1 .8 .1 3.3 .1-2.8 .1 1.5 .1-.5 .1 1.2 .1-.5 .1 .2 .1 1.1 .1-1.0 .1-2.4 .1 1.4 .1 2.7 .1-.3 .1-1.5 .1-1.6 .1 1.2 .1 3.6 .1-1.0 .1 .1 .1-3.4 .1 .5 .1 1.0 .1-.8 .1 1.9 .1-1.4 .1 2.0 .1-.7 .1-.4 .1 1.6 .1-.1 .1-.3 .1-.5 .1 .4 .1-2.2 .1 .1 .1 1.6 .1 1.1 .1 2.1 .1-1.6 .1-1.6 .1 .7 .1-.8 .1 1.6 .1 0 .1 .1 .1 .5 .1 1.0 .1-.3 .1-2.2 .1 2.6 .1-2.3 .1 1.9 .1-.3 .1 2.0 .1-2.1 .1 .1 .1-.1 .1 1.5 .1-.6 .1-.7 .1 1.5 .1 1.6 .1-.5 .1 0 .1-2.5 .1 .7 .1 .4 .1-2.2 .1 4.3 .1-3.8 .1 2.3 .1-1.9 .1 1.7 .1 1.0 .1-.3 .1-1.6 .1 .3 .1 2.0 .1-1.1 .1 .3 .1 1.1 .1-4.2 .1 3.5 .1 1.3 .1 .8 .1-1.3 .1-1.7 .1 2.2 .1 1.2 .1-3.0 .1 0 .1 .7 .1-.2 .1-1.9 .1-.3 .1 1.3 .1 .9 .1 1.4 .1-1.1 .1 1.0 .1 1.5 .1 2.1 .1-2.5 .1-2.2 .1 2.5 .1-1.2 .1 .5 .1 .8 .1-.1 .1-2.5 .1 .3 .1 1.8 .1 .6 .1 1.8 .1-1.8 .1-1.1 .1-.1 .1-.2 .1-.6 .1 0 .1 1.0 .1 .9 .1-1.0 .1 1.1 .1-.3 .1 .1 .1-.2 .1 1.0 .1-.3 .1-3.2 .1 3.7 .1-.1 .1-.8 .1 1.0 .1-1.0 .1 1.1 .1-1.2 .1 2.0 .1-.3 .1-2.2 .1 1.0 .1 1.8 .1-.3 .1-.2 .1-1.5 .1 .6 .1 1.1 .1 .3 .1-.3 .1-1.0 .1 .8 .1-.2 .1-.8 .1 .2 .1 .4 .1-.8 .1 2.5 .1 .5 .1 .2 .1-2.0 .1 .1 .1 1.3 .1-.8 .1 .3 .1 0 .1-1.5 .1 3.6 .1-3.2 .1-.1 .1 3.0 .1-2.3 .1 2.7 .1-.8 .1 .1 .1-.8 .1-1.2 .1 .3 .1 1.7 .1-.2 .1-1.3 .1 .2 .1 .4 .1 1.0 .1 .7 .1 .6 .1-1.4 .1 2.2 .1-.8 .1 1.0 .1-2.8 .1 1.9 .1 .7 .1-3.5 .1 3.4 .1-.6 .1 .7 .1-.8 .1 1.2 .1-1.8 .1 0 .1 1.5 .1 .1 .1-2.4 .1 3.1 .1 .1 .1-.1 .1-2.1 .1 2.5 .1-.9 .1 .6 .1-1.1 .1-.4 .1-.3 .1 .2 .1 1.9 .1-1.9 .1 .2 .1 1.2 .1-.6 .1-2.1 .1 1.8 .1 .4 .1 2.4 .1-1.0 .1-2.0 .1 0 .1 .8 .1 .9 .1-1.1 .1 1.5 .1-2.1 .1 2.1 .1 1.1 .1-4.5 .1 3.2 .1 .4 .1 .3 .1-.3 .1-.2 .1 .5 .1-.1 .1 .1 .1 1.8 .1-.6 .1 0 .1-1.8 .1 .2 .1 1.9 .1-2.4 .1 2.5 .1-2.7 .1 4.2 .1-1.0 .1-2.1 .1 .2 .1-1.8 .1 2.4 .1 1.6 .1-.6 .1-1.0 .1 2.9 .1-1.8 .1-.1 .1-.8 .1 1.2 .1 2.5 .1-2.5 .1-2.5 .1 2.3 .1 2.1 .1-.8 .1-2.0 .1 1.1 .1-2.1 .1 2.6 .1-1.7 .1 .5 .1 0 .1-.1 .1 2.9 .1-.1 .1-2.1 .1 .5 .1 2.0 .1-2.3 .1-.1 .1-.5 .1 3.0 .1-1.6 .1-.1 .1-.5 .1-.5 .1 2.3 .1-2.0 .1 .4 .1-1.4 .1 .8 .1 .8 .1 0 .1-1.1 .1 1.1 .1 .7 .1-3.0 .1 3.9 .1-.9 .1-1.3 .1 1.4 .1 .9 .1-.5 .1 .2 .1 0 .1 .8 .1-2.4 .1 1.0 .1 1.3 .1-.4 .1-1.3 .1 1.0 .1-.4 .1 .9 .1-2.0 .1 .1 .1 .3 .1 1.6 .1 3.2 .1-1.7 .1 .3 .1-1.4 .1 2.0 .1-1.4 .1-.3 .1 1.2 .1-2.7 .1-1.1 .1 1.2 .1 3.2 .1-.5 .1-.8 .1-.5 .1 .1 .1 .7 .1-1.4 .1 2.0 .1-2.1 .1 2.9 .1-2.0 .1-.7 .1 .9 .1-.8 .1 1.0 .1-1.9 .1 1.6 .1 .7 .1 .5 .1-.9 .1 2.0 .1-3.5 .1 1.8 .1-.3 .1 .7 .1-.3 .1 2.0 .1-1.6 .1-1.1 .1 4.2 .1-2.9 .1-.2 .1 1.3 .1-1.8 .1 .5 .1 1.4 .1-2.4 .1 .9 .1 1.7 .1 1.1 .1-2.2 .1 0 .1 1.5 .1-3.1 .1 1.0 .1-.1 .1-1.5 .1-.9 .1 3.0 .1 1.7 .1-.3 .1 .8 .1-4.8 .1 3.1 .1 1.9 .1-2.6 .1-.5 .1 2.0 .1-.4 .1 .8 .1-.7 .1 1.6 .1-.7 .1-.5 .1-.7 .1 1.4 .1-1.6 .1 2.0 .1 .2 .1-.2 .1-2.6 .1 2.1 .1 0 .1 .6 .1-2.9 .1 1.2 .1 .7 .1 1.8 .1-2.4 .1 1.9 .1-.9 .1 2.2 .1-1.9 .1-2.3 .1 1.6 .1 .7 .1 1.3 .1-.7 .1-1.1 .1-1.2 .1 1.6 .1-.1 .1 1.8 .1-.5 .1-2.8 .1-1.0 .1 2.3 .1 .9 .1-1.5 .1 .6 .1 2.1 .1-.5 .1-3.0 .1 2.6 .1-.2 .1-.4 .1 1.0 .1 .1 .1 2.3 .1-2.7 .1-1.1 .1 .3 .1 1.5 .1 1.5 .1-1.6 .1 0 .1-.3 .1-.8 .1 .6 .1-1.5 .1 2.4 .1-.3 .1-.3 .1-1.2 .1 .7 .1-.3 .1 1.1 .1-.7 .1 .8 .1 .8 .1 .4 .1-2.7 .1 .8 .1-.9 .1 2.9 .1-2.5 .1 2.7 .1-2.2 .1 1.9 .1-1.9 .1 .5 .1 .4 .1 0 .1-.2 .1 1.0 .1 .7 .1-.4 .1-1.6 .1-1.6 .1 2.4 .1-3.6 .1 4.4 .1-.1 .1-2.2 .1 2.3 .1-1.5 .1 2.4 .1-2.5 .1 0 .1 .2 .1 1.1 .1-1.5 .1 4.1 .1-3.2 .1 2.6 .1-2.4 .1 0 .1-.5 .1 0 .1 1.5 .1 1.0 .1-1.3 .1-1.2 .1 1.4 .1-1.2 .1-2.3 .1 3.5 .1-2.3 .1 1.4 .1 .9 .1-.5 .1 .2 .1 2.2 .1-.7 .1 .8 .1-1.6 .1 .1 .1 1.9 .1-2.9 .1 1.2 .1-.2 .1 .2 .1 .4 .1-.5 .1 .8 .1-1.9 .1 1.6 .1-1.8 .1 2.6 .1-.1 .1-1.4 .1-.3 .1 .6 .1 .7 .1-2.4 .1 .6 .1 2.4 .1-1.4 .1-1.2 .1-1.1 .1 2.2 .1-1.6 .1 2.3 .1-.2 .1 2.4 .1-3.8 .1 2.4 .1-2.2 .1 .2 .1 1.0 .1-.7 .1 3.3 .1-2.3 .1-.8 .1 3.8 .1-3.8 .1 .6 .1 .2 .1-.7 .1 1.7 .1 .8 .1-3.0 .1 1.0 .1 .2 .1-1.2 .1 .1 .1 1.2 .1-.6 .1 1.5 .1 .6 .1-.7 .1 .1 .1-1.4 .1 .4 .1 1.3 .1 .2 .1-.8 .1 .8 .1-.9 .1-1.1 .1 1.9 .1-.9 .1-1.5 .1 3.1 .1-.5 .1 .4 .1-1.4 .1 2.4 .1-1.2 .1 .6 .1-1.9 .1 .5 .1 1.9 .1-1.5 .1 .1 .1 1.8 .1-.4 .1-1.1 .1 2.1 .1-4.1 .1 1.7 .1-.5 .1 2.5 .1 .1 .1-2.4 .1 .8 .1 .9 .1-.4 .1-.3 .1 .9 .1 1.2 .1-2.2 .1-1.4 .1 1.2 .1 .1 .1-.3 .1 1.3 .1 0 .1 .3 .1-.5 .1-.2 .1-1.5 .1 .8 .1-.6 .1 1.5 .1-.5 .1 .1 .1 .7 .1-.9 .1 1.6 .1 0 .1-2.3 .1 2.7 .1-1.9 .1-.5 .1 .5 .1-1.1 .1 2.0 .1 1.0 .1-3.2 .1 2.4 .1 .2 .1 .1 .1 0 .1-.2 .1-1.0 .1 1.6 .1-.6 .1 .6 .1-.6 .1-.6 .1 .2 .1 .8 .1 .6 .1-3.5 .1 .8 .1-.4 .1 1.3 .1-.1 .1 1.1 .1-.6 .1 2.0 .1-2.3 .1-.1 .1-.1 .1 .6 .1 .6 .1-.7 .1-.5 .1-.5 .1 1.9 .1-.9 .1-.5 .1 .9 .1 .7 .1 2.1 .1-.5 .1-2.9 .1 .5 .1-1.7 .1 0 .1 .1 .1 3.4 .1-1.3 .1-1.5 .1 .9 .1 .3 .1-.2 .1 2.6 .1-4.0 .1 1.7 .1 .9 .1 .3 .1-3.1 .1 2.8 .1-1.7 .1 .9 .1-1.2 .1 2.8 .1 2.8 .1-2.4 .1-1.6 .1-1.7 .1 3.2 .1 .4 .1-2.7 .1 2.4 .1-3.2 .1 .7 .1 1.7 .1-1.8 .1 2.6 .1 .8 .1-1.6 .1 .5 .1 1.4 .1-1.3 .1 1.0 .1 .2 .1-3.0 .1 3.9 .1-1.1 .1-1.2 .1 .8 .1-.6 .1-.1 .1-1.4 .1 .7 .1 .2 .1 1.7 .1-.7 .1-.1 .1-.6 .1 1.7 .1-4.4 .1 1.9 .1 2.2 .1-1.6 .1 1.3 .1 1.1 .1-.9 .1-2.6 .1 1.5 .1-1.1 .1 1.9 .1 .7 .1-1.5 .1 1.0 .1-.9 .1 2.6 .1-2.1 .1 .1 .1 .5 .1 .6 .1-.4 .1-.9 .1 .2 .1 .5 .1 .1 .1-1.1 .1-.2 .1 .4 .1 .9 .1-1.1 .1-.7 .1 .9 .1-.1 .1 1.3 .1-1.3 .1 .1 .1 2.8 .1-1.7 .1-1.6 .1 2.6 .1-1.9 .1-.5 .1 1.8 .1-2.4 .1 1.6 .1 .7 .1 .3 .1-1.5 .1 .1 .1 .5 .1 1.5 .1-3.5 .1 3.1 .1-.6 .1 1.3 .1-2.9 .1 2.7 .1-2.4 .1 1.5 .1-.8 .1-2.5 .1 2.9 .1 .6 .1 .5 .1-1.7 .1-.6 .1 2.2 .1-1.2 .1 1.7 .1 .5 .1-2.0 .1 .1 .1-.6 .1-1.5 .1 2.4 .1 .9 .1 .4 .1-1.3 .1 2.3 .1-2.8 .1 .6 .1-.6 .1 .2 .1 .2 .1-.5 .1 .4 .1 .8 .1-.2 .1-1.3 .1 1.8 .1-1.5 .1 1.5 .1-.4 .1-2.3 .1 1.0 .1 2.4 .1-1.9 .1 .1 .1 .2 .1 .7 .1 .6 .1-1.0 .1 2.4 .1-2.7 .1 .1 .1 .4 .1 .4 .1 1.6 .1 1.1 .1-3.2 .1 .2 .1 1.0 .1-.9 .1 1.2 .1-2.2 .1 2.3 .1-3.6 .1 3.2 .1 .2 .1 2.2 .1-4.0 .1 1.9 .1 0 .1-1.9 .1 1.4 .1-1.2 .1-.4 .1-.4 .1 1.6 .1-1.0 .1-1.2 .1 2.8 .1-2.3 .1 2.9 .1-.6 .1-1.2 .1-.9 .1 .8 .1-.5 .1 1.2 .1 0 .1 3.5 .1-5.5 .1 1.8 .1 1.4 .1 .6 .1 .4 .1-2.8 .1 2.2 .1-4.4 .1 3.2 .1 1.3 .1-.1 .1-2.6 .1 .8 .1-1.6 .1 1.7 .1-.7 .1 2.0 .1-1.2 .1 1.6 .1-.8 .1-.3 .1 2.6 .1-.7 .1-3.0 .1 3.3 .1-.7 .1 .7 .1-1.1 .1-2.7 .1 1.8 .1-2.5 .1 1.3 .1 .8 .1 2.4 .1-1.4 .1 .2 .1 .7 .1-2.0 .1 2.4 .1-1.0 .1-1.4 .1 .5 .1 .4 .1 1.0 .1 1.1 .1-2.1 .1 .1 .1 2.5 .1 1.7 .1-1.7 .1-1.9 .1-.7 .1 1.3 .1-.4 .1-1.3 .1 2.6 .1 1.5 .1-4.1 .1 0 .1 .4 .1-.9 .1 2.6 .1-2.8 .1 2.6 .1-.3 .1 .5 .1-2.7 .1 2.0 .1 .2 .1 .7 .1-.6 .1-1.1 .1 2.1 .1 .3 .1 0 .1-2.6 .1 1.6 .1-1.7 .1 .9 .1 1.2 .1-2.7 .1 5.2 .1-1.9 .1-2.4 .1 .2 .1 .7 .1-.1 .1-1.3 .1 1.4 .1-1.8 .1 1.2 .1 3.0 .1-2.3 .1-.4 .1 2.5 .1-1.5 .1 .4 .1-1.5 .1 2.1 .1-1.8 .1 1.5 .1-.2 .1 1.3 .1-.8 .1-1.3 .1-1.2 .1 .9 .1-.4 .1 2.7 .1-2.4 .1-2.3 .1 3.4 .1 .5 .1-2.1 .1 2.0 .1-2.5 .1 2.0 .1-.5 .1 .6 .1 .2 .1-1.4 .1 1.9 .1-1.6 .1 .8 .1 1.6 .1-2.9 .1 1.3 .1 1.9 .1-.4 .1-2.4 .1 .1 .1 1.5 .1-1.5 .1 .9 .1-1.7 .1 2.5 .1-2.8 .1 2.2 .1 .7 .1-1.7 .1-1.1 .1 .4 .1-.8 .1 4.7 .1-4.6 .1 .8 .1 2.0 .1-.3 .1 1.2 .1 .4 .1-1.1 .1-.6 .1-.6 .1 .5 .1 1.4 .1-.4 .1 .1 .1-2.9 .1 1.2 .1 .1 .1 .2 .1-.6 .1 2.2 .1 .5 .1 .9 .1-2.9 .1 .6 .1 .2 .1-.1 .1-1.0 .1 2.1 .1-3.5 .1 1.9 .1-1.7 .1 3.2 .1-2.5 .1 .3 .1 1.4 .1-1.2 .1 1.6 .1-.8 .1 3.0 .1-4.0 .1 .5 .1 1.8 .1-.6 .1 .5 .1-.9 .1 1.5 .1-.7 .1 1.3 .1-3.4 .1 2.1 .1-.6 .1 .8 .1-1.7 .1 2.2 .1-2.6 .1 2.8 .1-.4 .1-3.0 .1 2.8 .1-2.9 .1 3.2 .1-2.7 .1 1.9 .1-.2 .1-1.7 .1-.3 .1 3.0 .1-1.2 .1 2.0 .1-1.4 .1 3.5 .1-3.2 .1 2.0 .1-1.7 .1-.3 .1 .5 .1-1.6 .1 .2 .1 2.9 .1-2.3 .1-1.2 .1 2.1 .1-1.6 .1 1.1 .1 1.4 .1 .2 .1 .7 .1-.8 .1-.6 .1-.1 .1-.3 .1-.4 .1 2.9 .1-2.9 .1 2.2 .1-2.3 .1 1.7 .1-5.0 .1 3.8 .1-1.0 .1 2.8 .1-.1 .1-2.6 .1 .7 .1 1.3 .1-.8 .1-.2 .1 1.1 .1-2.9 .1 3.7 .1-1.4 .1-4.2 .1 2.5 .1 1.1 .1 3.0 .1-2.9 .1-1.8 .1 3.6 .1-1.2 .1-.5 .1 1.4 .1-1.8 .1 .4 .1 1.4 .1-.7 .1 .7 .1-1.7 .1 2.6 .1-3.8 .1 0 .1 2.4 .1-1.0 .1 .7 .1-.2 .1-.2 .1-1.1 .1 1.7 .1 1.3 .1-2.7 .1 3.4 .1-.3 .1-3.0 .1 2.0 .1-2.3 .1 1.2 .1-1.2 .1 .7 .1-1.6 .1 2.2 .1-1.1 .1 .2 .1-1.4 .1 2.6 .1 2.3 .1-2.8 .1 .3 .1-1.2 .1 .8 .1-.4 .1-.9 .1 .9 .1 .5 .1 1.0 .1-.8 .1 .8 .1 1.3 .1-.4 .1-1.7 .1-1.7 .1 2.0 .1 .4 .1 1.1 .1-1.0 .1 3.3 .1-3.9 .1 1.3 .1-2.0 .1-.1 .1 .9 .1 .7 .1 .6 .1-4.8 .1 5.4 .1 .5 .1-.2 .1-.6 .1-1.2 .1 .9 .1 .9 .1-2.8 .1 2.1 .1-.2 .1-.8 .1 2.4 .1-3.1 .1-.3 .1 1.2 .1-.7 .1 2.5 .1-3.8 .1 .5 .1 2.0 .1 .6 .1-2.4 .1 3.1 .1-4.0 .1 3.7 .1-2.4 .1 .6 .1 2.8 .1-2.3 .1-.7 .1 1.1 .1 2.1 .1-2.2 .1-1.1 .1 1.3 .1-1.8 .1 .7 .1 .2 .1 1.5 .1-1.4 .1 1.2 .1 .9 .1 .5 .1-4.0 .1 2.0 .1-1.3 .1 2.2 .1-.4 .1-.3 .1-.7 .1-.5 .1-.9 .1 3.3 .1-1.4 .1 .3 .1 .4 .1 .6 .1 1.4 .1-2.6 .1 1.1 .1-2.9 .1 1.6 .1-.4 .1 .2 .1 2.2 .1-1.3 .1 0 .1 0 .1-.4 .1 .1 .1-.6 .1 .2 .1 .2 .1 .3 .1-2.1 .1 2.4 .1-.1 .1 .6 .1-1.9 .1 .2 .1 2.2 .1-1.9 .1 1.5 .1-1.4 .1-.6 .1-.3 .1 1.1 .1 .1 .1-.9 .1 3.3 .1-1.7 .1-1.1 .1 3.0 .1-.9 .1-1.9 .1-.3 .1 1.0 .1 1.2 .1-2.6 .1 3.1 .1-1.8 .1 1.5 .1-1.2 .1 .8 .1 .2 .1 .8 .1-2.5 .1 3.3 .1-3.9 .1 2.0 .1 .4 .1-.8 .1 1.1 .1-3.1 .1 2.0 .1 1.3 .1-1.2 .1-1.4 .1 1.6 .1 .1 .1-1.5 .1 2.9 .1-2.3 .1-.6 .1 1.4 .1-.9 .1 .6 .1 .6 .1-.8 .1 1.2 .1-.3 .1 1.1 .1-2.7 .1 1.3 .1 .3 .1 0 .1-2.9 .1 1.3 .1 1.7 .1 .4 .1-.7 .1 .2 .1 1.3 .1-1.9 .1-.5 .1 2.8 .1-1.1 .1-.9 .1-.7 .1 2.9 .1-2.3 .1-.7 .1 2.6 .1-3.4 .1 1.7 .1 1.0 .1-1.1 .1-.3 .1 1.2 .1-2.0 .1 1.2 .1 1.2 .1-2.3 .1 3.1 .1-1.9 .1 .1 .1-.4 .1 1.3 .1-1.3 .1 .9 .1 1.3 .1 0 .1-3.4 .1 3.5 .1-2.2 .1 1.0 .1-.3 .1 .3 .1-1.1 .1 1.5 .1 .5 .1-1.9 .1 .7 .1 1.0 .1 .3 .1-.9 .1 0 .1 .3 .1-1.0 .1 .8 .1-.7 .1-.1 .1-2.5 .1 .7 .1 2.7 .1 .5 .1-.4 .1-.4 .1-.5 .1 1.1 .1-1.2 .1 .5 .1 1.9 .1-3.5 .1 1.0 .1 .4 .1-2.0 .1 .9 .1 2.7 .1-.6 .1-.8 .1 1.8 .1-2.8 .1 3.6 .1-2.5 .1-.6 .1 2.1 .1-.7 .1-.4 .1-.4 .1-2.0 .1-.3 .1 2.5 .1 1.2 .1-2.1 .1 1.1 .1-2.0 .1 .1 .1 1.7 .1 1.0 .1 0 .1 .6 .1-2.4 .1 .8 .1 1.2 .1-2.3 .1 .9 .1 .4 .1 0 .1 1.1 .1-.5 .1-1.1 .1-2.3 .1 3.9 .1 .2 .1-.5 .1-.2 .1 .1 .1 1.0 .1-2.1 .1 .5 .1-1.1 .1 1.0 .1-.8 .1 0 .1-1.4 .1 2.4 .1 1.3 .1-4.9 .1 5.3 .1-1.6 .1-.8 .1 1.2 .1-.6 .1 .2 .1 1.8 .1-1.5 .1 .3 .1-.8 .1 .1 .1-.9 .1 1.0 .1-.8 .1 2.4 .1-1.7 .1 1.2 .1 .7 .1-.3 .1-2.1 .1 2.9 .1-4.4 .1 4.1 .1-4.8 .1 2.0 .1 1.0 .1-.7 .1-1.7 .1 .7 .1 2.2 .1-2.4 .1 2.9 .1 .6 .1 .3 .1-1.3 .1-.4 .1-.4 .1 3.9 .1-1.9 .1-.7 .1-.4 .1 1.0 .1-3.7 .1 3.4 .1-1.7 .1-2.2 .1 4.3 .1-2.3 .1 1.5 .1-1.5 .1 .5 .1 2.5 .1-1.6 .1 .1 .1-2.4 .1 3.0 .1-1.9 .1 1.4 .1-1.8 .1 1.7 .1 .3 .1-2.5 .1 2.2 .1-1.5 .1 2.7 .1-1.1 .1-.4 .1 3.7 .1-2.7 .1-1.5 .1 1.6 .1-.7 .1 1.3 .1-2.9 .1 3.7 .1-3.0 .1 .1 .1-.4 .1 .6 .1 2.7 .1-2.1 .1-1.6 .1 1.2 .1 .5 .1 .9 .1-1.6 .1 .7 .1 3.4 .1-3.8 .1 .3 .1-1.6 .1 2.7 .1-1.8 .1 2.9 .1-.8 .1-.5 .1-1.6 .1 .3 .1-.1 .1 .6 .1-.5 .1-.2 .1 .8 .1-.2 .1-.4 .1 1.6 .1 .2 .1-2.0 .1 3.4 .1-2.2 .1 1.0 .1 .9 .1-4.1 .1 2.4 .1 .5 .1 .4 .1-.5 .1 .3 .1-3.1 .1 .7 .1 1.9 .1-3.2 .1 1.8 .1 .5 .1 .7 .1 .6 .1-.8 .1-1.3 .1-.1 .1 1.7 .1 .2 .1-.2 .1-.3 .1 0 .1-1.9 .1 1.7 .1 1.0 .1-2.3 .1 1.9 .1 .3 .1 2.1 .1-3.0 .1-.2 .1-1.2 .1 .2 .1-.6 .1-.2 .1 3.1 .1-.9 .1 .4 .1-2.3 .1-.6 .1 .4 .1 4.2 .1-.6 .1-3.1 .1 1.8 .1 .1 .1-1.4 .1 .4 .1 2.0 .1-.3 .1 .3 .1-.7 .1-.3 .1 .5 .1-.8 .1 2.3 .1-1.8 .1 .4 .1-.7 .1-.7 .1 .7 .1-.3 .1-.6 .1 2.0 .1 1.5 .1-2.1 .1-.5 .1-.7 .1-.9 .1 2.6 .1-.1 .1-1.7 .1 1.1 .1-1.1 .1 2.8 .1-1.6 .1 .4 .1 1.6 .1-4.8 .1 3.2 .1-.1 .1-.7 .1 .4 .1 1.5 .1-2.3 .1 0 .1 3.0 .1-.9 .1-.7 .1 .5 .1-.9 .1-.5 .1 .2 .1 .6 .1-.9 .1-1.4 .1 1.7 .1 .6 .1-.5 .1 1.0 .1-.4 .1 .8 .1-1.0 .1-.4 .1 1.0 .1 .3 .1-1.6 .1-.5 .1 2.7 .1-2.2 .1 1.1 .1-1.1 .1 .9 .1 1.5 .1 .3 .1-3.6 .1-.2 .1-2.3 .1 4.8 .1 1.2 .1-1.6 .1-.6 .1 1.4 .1-2.2 .1 2.0 .1 .8 .1-.1 .1-.6 .1-1.5 .1 .2 .1-.7 .1 3.4 .1-.7 .1-1.6 .1 0 .1 .4 .1-1.1 .1 1.4 .1 0 .1 0 .1-.5 .1-3.1 .1 2.8 .1-1.5 .1-.3 .1 4.8 .1-3.3 .1 .4 .1-.2 .1-.6 .1 3.0 .1-4.2 .1 2.8 .1-1.3 .1 2.3 .1-.5 .1-.9 .1-1.9 .1 2.8 .1 .2 .1-.4 .1-1.1 .1 1.1 .1-1.7 .1 1.3 .1 .1 .1-.7 .1-.9 .1 .9 .1-.8 .1-.4 .1 2.8 .1-1.5 .1-.4 .1 0 .1 1.2 .1-.9 .1-.5 .1 1.2 .1-.1 .1-1.3 .1-.2 .1 2.9 .1-1.9 .1 1.8 .1-.7 .1-.8 .1-.2 .1 2.3 .1-2.8 .1 .3 .1-.5 .1 .8 .1-.9 .1 1.3 .1-1.7 .1 2.2 .1-.2 .1-.2 .1-.9 .1 2.3 .1 .9 .1-2.6 .1-.8 .1 1.7 .1-1.0 .1 .4 .1 .7 .1-2.5 .1 2.6 .1-2.2 .1-.2 .1 1.0 .1 2.3 .1-2.5 .1 1.3 .1-1.7 .1 1.9 .1-.3 .1 1.0 .1-1.2 .1-.2 .1-2.3 .1 2.7 .1 .6 .1-.7 .1 0 .1 .5 .1 .3 .1-2.1 .1 1.0 .1 .6 .1-.2 .1-1.5 .1-1.2 .1 2.8 .1 .5 .1 1.2 .1-1.5 .1-1.6 .1 1.6 .1-.7 .1-.6 .1-1.0 .1-.4 .1 1.4 .1 .3 .1 .6 .1 0 .1 .2 .1 2.1 .1-2.4 .1 1.8 .1-2.7 .1 .1 .1 .3 .1-1.6 .1 4.3 .1-1.7 .1 .5 .1 1.3 .1-1.6 .1 1.5 .1-4.9 .1 4.5 .1-1.2 .1-1.1 .1 2.1 .1-1.3 .1-.9 .1-1.6 .1 4.7 .1-5.5 .1 3.4 .1 1.9 .1-1.2 .1-1.6 .1 .5 .1-.4 .1 1.0 .1-.4 .1-1.5 .1-.2 .1 3.3 .1-3.0 .1 .2 .1 4.3 .1-3.9 .1-.6 .1 .4 .1 2.2 .1-1.9 .1 .8 .1-2.7 .1 2.1 .1 .8 .1 0 .1 1.8 .1-1.2 .1-4.2 .1 1.6 .1 .9 .1 .7 .1 .5 .1 .7 .1-2.9 .1-.6 .1 3.7 .1-2.2 .1-1.7 .1 1.8 .1 .6 .1-.9 .1 0 .1 2.7 .1-2.6 .1 1.8 .1-.1 .1-.7 .1 3.4 .1-4.7 .1 5.0 .1-4.4 .1 .8 .1 .7 .1 1.1 .1-.5 .1-1.3 .1 0 .1 1.9 .1 .4 .1-2.5 .1 2.2 .1-.8 .1-.4 .1-1.7 .1-.2 .1 2.1 .1-4.0 .1 2.9 .1 1.1 .1-2.6 .1 4.2 .1 0 .1-3.4 .1 1.2 .1 0 .1-.5 .1 .1 .1 1.2 .1 1.5 .1-2.0 .1 .1 .1 0 .1-1.0 .1 1.6 .1-1.4 .1-.6 .1 2.1 .1-3.1 .1 1.7 .1 .1 .1 .3 .1-1.7 .1 .7 .1 1.1 .1 .9 .1-.9 .1-.1 .1-.8 .1 1.1 .1-3.5 .1 4.3 .1 .4 .1-1.2 .1-1.2 .1 2.9 .1-2.5 .1 2.5 .1-2.0 .1-.6 .1 .7 .1-.6 .1 .7 .1 .8 .1-.9 .1-.3 .1 .6 .1 .5 .1-.5 .1 .7 .1 .1 .1-.4 .1 .6 .1-.9 .1 1.4 .1-.9 .1 .5 .1-1.2 .1-1.5 .1 1.2 .1 .6 .1 .4 .1-.5 .1 1.9 .1-3.4 .1-.6 .1 2.0 .1-.6 .1 .8 .1 .8 .1 2.6 .1-5.0 .1 .3 .1 1.3 .1-1.8 .1 .9 .1 2.6 .1-1.7 .1 0 .1 1.5 .1-3.5 .1 2.3 .1-.2 .1 .4 .1-1.6 .1 .7 .1 .4 .1 1.1 .1-1.8 .1 1.6 .1-3.3 .1 3.1 .1 .4 .1-2.0 .1 .7 .1 .4 .1 .4 .1 1.1 .1-1.2 .1-.5 .1 0 .1 .6 .1 .6 .1-.6 .1-1.0 .1 .3 .1-.6 .1-.1 .1 .5 .1-.1 .1 1.7 .1-2.4 .1 1.5 .1-1.5 .1 2.4 .1-.6 .1 1.2 .1-.9 .1-1.9 .1 1.3 .1-.8 .1 .2 .1-.6 .1 .9 .1 .4 .1 .2 .1 2.8 .1-3.2 .1 .3 .1-.2 .1-.2 .1-.1 .1 .5 .1-.3 .1 1.1 .1-.4 .1-1.5 .1 1.0 .1 .4 .1-.7 .1 .1 .1 .2 .1 .8 .1-.5 .1-.9 .1 .6 .1 1.6 .1-2.6 .1 1.9 .1-1.1 .1 4.8 .1-3.7 .1-.7 .1-.2 .1-1.7 .1 1.3 .1 3.0 .1-2.0 .1-.8 .1 .4 .1 .1 .1-1.2 .1 1.3 .1 .4 .1-2.3 .1 1.5 .1-3.0 .1 1.2 .1 3.1 .1 .4 .1 .8 .1-3.8 .1 1.5 .1-.3 .1 1.7 .1-.9 .1-.3 .1 .7 .1-1.3 .1 1.7 .1-1.5 .1 1.7 .1-1.1 .1 .1 .1-1.7 .1-.4 .1-.1 .1 2.5 .1-3.1 .1 4.2 .1-2.1 .1-1.2 .1 2.1 .1-1.9 .1 1.5 .1-.4 .1 1.8 .1-.3 .1 0 .1-1.7 .1 2.1 .1-1.6 .1 .3 .1 .3 .1-.1 .1-2.0 .1 2.4 .1-2.6 .1 2.4 .1-.6 .1 .2 .1-1.4 .1 2.5 .1-1.4 .1 1.2 .1-1.9 .1 .1 .1 .9 .1 1.1 .1-2.7 .1 .9 .1 0 .1 .3 .1-.2 .1 1.8 .1-.4 .1-.8 .1 1.0 .1 .2 .1-1.9 .1-.2 .1 1.7 .1 1.7 .1-5.3 .1 2.1 .1 1.7 .1-1.9 .1 2.0 .1-.8 .1-1.7 .1 .9 .1 1.0 .1-1.5 .1 1.8 .1-.3 .1-.7 .1 .8 .1-.9 .1 .7 .1-1.4 .1 2.8 .1-2.0 .1 1.7 .1 1.2 .1-.6 .1-1.9 .1 .2 .1-.3 .1 .5 .1-1.4 .1-1.1 .1 2.5 .1-.3 .1 1.8 .1 .3 .1-3.8 .1 .5 .1 2.1 .1 .5 .1-1.3 .1 0 .1-2.3 .1 4.9 .1-3.5 .1 1.5 .1-.3 .1-1.4 .1 2.1 .1 .7 .1-1.8 .1 .2 .1 .6 .1 .4 .1-.1 .1-2.1 .1 0 .1 .4 .1-2.5 .1 1.6 .1 1.4 .1-.6 .1-.2 .1 2.1 .1-.7 .1 .6 .1-1.2 .1-.2 .1-.6 .1 1.4 .1-2.5 .1 1.1 .1 1.8 .1 .3 .1-1.1 .1-1.3 .1 2.1 .1-1.6 .1 .8 .1-1.0 .1 3.3 .1-.4 .1-2.8 .1-.3 .1 1.3 .1 .8 .1 .8 .1-1.6 .1-1.4 .1 1.9 .1-.1 .1-2.2 .1 1.6 .1 0 .1-.8 .1 1.4 .1 1.0 .1 0 .1-2.3 .1 .4 .1 1.5 .1-1.2 .1 0 .1 3.0 .1-5.7 .1 2.3 .1-.2 .1 1.0 .1 2.1 .1-2.2 .1-.2 .1 .5 .1-.5 .1 .8 .1 2.6 .1-3.9 .1 .6 .1 .2 .1-2.4 .1 3.2 .1-.8 .1-2.2 .1 2.0 .1 .5 .1-1.2 .1 2.3 .1-2.0 .1-1.0 .1 2.7 .1-1.1 .1 .3 .1-2.1 .1 .3 .1 .5 .1 1.0 .1 0 .1 1.8 .1 .2 .1-1.6 .1-.3 .1 2.4 .1-2.2 .1 1.1 .1-1.7 .1 .4 .1-.2 .1-.5 .1 1.3 .1-1.4 .1 .8 .1 .7 .1 2.0 .1-4.8 .1 2.4 .1 .7 .1-1.2 .1 1.5 .1-.4 .1-.1 .1-1.1 .1 .3 .1 0 .1-.9 .1 1.4 .1-1.5 .1 .2 .1-.6 .1 3.0 .1-2.0 .1-.4 .1 2.1 .1-1.5 .1 .9 .1-.6 .1 .7 .1-.2 .1-2.8 .1 4.3 .1-.6 .1-2.9 .1 2.8 .1-1.3 .1 .4 .1 1.4 .1-.3 .1 0 .1 1.2 .1-1.1 .1-2.0 .1-.8 .1 2.5 .1-3.0 .1 1.6 .1 0 .1-.4 .1 2.5 .1-1.3 .1-.6 .1 1.3 .1-1.5 .1 1.9 .1 1.0 .1-2.6 .1 0 .1 1.6 .1-3.7 .1 .8 .1 .3 .1-.7 .1 1.9 .1 .4 .1-.4 .1 0 .1 1.2 .1 .1 .1 .3 .1-1.7 .1 .2 .1 1.7 .1-1.2 .1 1.1 .1-2.2 .1 .6 .1-.7 .1 .7 .1 .5 .1-1.0 .1 2.9 .1-4.1 .1 2.8 .1-2.3 .1 1.6 .1-1.2 .1 1.0 .1 0 .1-1.1 .1-.5 .1 .7 .1 .8 .1 1.0 .1 .9 .1-3.9 .1 2.6 .1-1.1 .1 .6 .1 .3 .1 .6 .1-.5 .1-.5 .1 1.9 .1-1.5 .1-.3 .1 1.3 .1-2.7 .1 .3 .1 2.8 .1-1.9 .1-1.9 .1 3.1 .1 .5 .1-2.4 .1-.6 .1 1.5 .1 .5 .1-1.2 .1-.3 .1 1.7 .1 0 .1-2.5 .1 .6 .1 .9 .1-.4 .1 1.0 .1 .4 .1 1.6 .1-1.8 .1 .7 .1-2.9 .1 1.0 .1 2.1 .1-3.0 .1 3.3 .1-.9 .1-.5 .1-.3 .1-1.2 .1 .1 .1 .7 .1 .1 .1 1.9 .1-2.6 .1 .5 .1-1.4 .1 2.3 .1-.2 .1 1.3 .1 1.0 .1-1.6 .1-1.7 .1 1.3 .1 .1 .1-.4 .1-1.2 .1 1.7 .1-1.9 .1 1.4 .1-.3 .1-2.7 .1 3.8 .1 1.8 .1-2.9 .1-.3 .1 1.8 .1-2.6 .1 1.5 .1 .3 .1-.9 .1 .6 .1-1.0 .1 .4 .1 1.4 .1-1.8 .1 .4 .1-.1 .1 1.4 .1-1.1 .1-.5 .1 1.4 .1-2.8 .1 .2 .1 2.6 .1 1.8 .1-2.8 .1 1.0 .1-2.0 .1 1.8 .1 .1 .1 .4 .1-1.5 .1 3.2 .1-3.5 .1 3.0 .1-3.1 .1 2.2 .1 .7 .1 1.0 .1-2.7 .1-1.8 .1 2.9 .1-1.8 .1-.4 .1 .5 .1-.3 .1 2.0 .1-.7 .1 .6 .1 .2 .1-1.5 .1 1.3 .1 .6 .1 .8 .1-2.0 .1-.5 .1-.8 .1 .7 .1 .4 .1 .3 .1-1.9 .1 1.2 .1 .2 .1-.4 .1-.1 .1 1.2 .1-1.6 .1 1.7 .1-1.8 .1 1.5 .1-1.5 .1 2.7 .1-.5 .1 .7 .1-2.6 .1-.5 .1 0 .1 1.3 .1 1.5 .1-.4 .1-.1 .1-2.2 .1 2.7 .1-.4 .1-1.5 .1-2.3 .1 2.0 .1 .8 .1 2.1 .1-1.6 .1-.4 .1 2.0 .1 0 .1-1.4 .1 .3 .1 .7 .1-2.3 .1 1.3 .1-1.0 .1-.6 .1 1.8 .1 .7 .1 .9 .1-1.3 .1 .4 .1-1.5 .1-1.6 .1 1.0 .1 1.3 .1-1.2 .1 3.0 .1-.8 .1-1.7 .1 2.3 .1-1.3 .1 1.2 .1-2.2 .1 1.2 .1-1.2 .1 .3 .1 1.3 .1 1.0 .1-2.2 .1 .3 .1-1.4 .1 .8 .1 .8 .1-2.1 .1 1.0 .1-.8 .1 1.6 .1 .8 .1-.6 .1-.8 .1-.8 .1-.8 .1 2.0 .1 1.8 .1-2.1 .1 .2 .1-.4 .1-.8 .1 2.6 .1-.4 .1-2.6 .1 .2 .1 3.1 .1-2.6 .1 1.0 .1-1.2 .1 1.6 .1-1.3 .1 .2 .1-.6 .1 3.6 .1 .9 .1-2.9 .1 .6 .1-.1 .1-.7 .1-.1 .1-.3 .1 1.4 .1-2.4 .1 .4 .1 1.9 .1-2.5 .1 3.6 .1-2.3 .1 .6 .1 1.3 .1-1.6 .1 .2 .1-.8 .1 1.3 .1 .2 .1-1.9 .1 1.9 .1 .4 .1-.6 .1-1.5 .1 2.0 .1 .6 .1-2.3 .1-1.6 .1 1.4 .1 .9 .1 1.5 .1-.1 .1-.6 .1-1.6 .1 1.7 .1-.9 .1-1.2 .1-1.0 .1 3.4 .1-3.2 .1 3.5 .1 1.2 .1-2.6 .1-1.1 .1 .3 .1-.1 .1 1.3 .1 .7 .1-2.1 .1 .5 .1-.3 .1 2.1 .1-.2 .1-2.2 .1 .7 .1 .6 .1-2.4 .1 1.5 .1 .9 .1-1.9 .1 2.0 .1-.2 .1-.8 .1 2.0 .1-2.4 .1 1.6 .1-.8 .1 1.7 .1-2.3 .1 1.7 .1 0 .1 .6 .1 .6 .1-3.8 .1 1.8 .1-1.2 .1 2.5 .1 .4 .1-2.0 .1 .7 .1 1.3 .1-1.3 .1-.4 .1-1.9 .1 1.2 .1 2.0 .1-2.9 .1 2.1 .1-.1 .1-.3 .1 1.0 .1-1.8 .1 2.5 .1-2.2 .1 1.8 .1-1.9 .1 1.0 .1-.7 .1 2.4 .1-3.3 .1 .5 .1 2.6 .1-.8 .1-1.0 .1-.3 .1-1.2 .1 1.2 .1 .8 .1 1.0 .1-.3 .1 .6 .1-1.3 .1-1.3 .1 .5 .1 2.2 .1-1.7 .1 1.6 .1-3.6 .1 1.3 .1-.4 .1 1.3 .1-1.2 .1-.7 .1 1.5 .1-2.6 .1 2.0 .1 1.3 .1-1.9 .1 1.3 .1-1.0 .1 .6 .1 .8 .1 .2 .1 0 .1-1.4 .1 2.7 .1-1.4 .1-1.2 .1 2.4 .1-2.1 .1 2.9 .1-1.4 .1-1.1 .1-.5 .1-.4 .1 .1 .1 .6 .1 2.0 .1-1.4 .1-.3 .1 .6 .1-.9 .1-1.1 .1-.3 .1 3.5 .1-2.0 .1 2.3 .1 .3 .1-1.9 .1 .6 .1-1.4 .1 .3 .1 .2 .1-.1 .1 1.9 .1-2.0 .1 1.3 .1-1.0 .1 .6 .1 1.5 .1-4.1 .1 3.3 .1-2.2 .1 1.0 .1-.6 .1-.2 .1-1.1 .1-1.6 .1 5.9 .1-1.5 .1-1.4 .1-2.0 .1 3.2 .1 1.1 .1-1.4 .1-2.7 .1 1.5 .1 1.0 .1-.4 .1 1.4 .1-2.5 .1 .4 .1-2.3 .1 4.5 .1-.6 .1-1.3 .1-1.7 .1 3.3 .1-2.8 .1 .1 .1-.8 .1 .6 .1 .6 .1-.1 .1 2.7 .1-.5 .1-.8 .1-.8 .1 .7 .1-1.6 .1 2.1 .1-1.6 .1 .5 .1 1.1 .1-1.5 .1-.7 .1 3.0 .1-3.4 .1 .6 .1 .1 .1 .6 .1 .7 .1-3.8 .1 3.4 .1 2.4 .1-.3 .1-.4 .1-1.2 .1 .4 .1-1.0 .1-1.4 .1 2.6 .1 .9 .1-1.0 .1-.4 .1 1.1 .1-.6 .1 1.0 .1-2.0 .1-1.7 .1 2.9 .1 .5 .1-2.1 .1 1.3 .1 .6 .1-4.3 .1 6.5 .1-2.1 .1-1.2 .1-1.2 .1-.6 .1 6.2 .1-4.6 .1 1.3 .1-1.7 .1 .4 .1 1.3 .1-2.0 .1 1.1 .1-.2 .1 .9 .1 .5 .1-1.4 .1 2.0 .1-2.3 .1 .1 .1 .6 .1-.4 .1 1.3 .1-4.6 .1 1.4 .1-.5 .1 4.5 .1-.7 .1-2.0 .1 1.4 .1-2.7 .1 1.8 .1 2.3 .1-1.0 .1 1.9 .1-3.4 .1 2.1 .1-1.3 .1 .3 .1-.1 .1 .7 .1 .7 .1-1.6 .1 .4 .1-.6 .1 .5 .1-1.4 .1 2.3 .1-.4 .1-.5 .1-.4 .1-.8 .1-.4 .1-.2 .1 .5 .1 2.1 .1-.6 .1-2.3 .1 .5 .1 3.0 .1 .4 .1-1.0 .1 1.6 .1-3.6 .1 1.5 .1-1.4 .1 3.7 .1-2.3 .1 0 .1-.1 .1-1.3 .1 .8 .1-2.8 .1 2.3 .1-.7 .1 2.3 .1 .7 .1-1.3 .1-1.7 .1-.1 .1 2.4 .1-1.3 .1 0 .1-1.0 .1 1.7 .1-.1 .1 .8 .1-2.2 .1 1.1 .1-1.7 .1 2.1 .1-.3 .1-.5 .1 1.6 .1-2.7 .1 3.6 .1-1.5 .1 .3 .1-.4 .1-1.3 .1 .2 .1 2.0 .1-1.3 .1 .5 .1-.9 .1 1.5 .1-.2 .1-2.5 .1 4.2 .1-1.2 .1-.3 .1-.6 .1-.5 .1 1.2 .1 2.2 .1-3.4 .1-1.3 .1 1.4 .1 .1 .1 1.1 .1-2.7 .1 1.0 .1 .1 .1 1.7 .1 .1 .1-1.1 .1 1.1 .1-1.2 .1 0 .1-3.0 .1 1.7 .1-.3 .1 2.0 .1-.4 .1-1.5 .1 1.4 .1-.2 .1 .7 .1-1.2 .1-.2 .1 2.4 .1-1.9 .1 1.7 .1-2.4 .1 .8 .1-.1 .1-.8 .1 2.1 .1-2.6 .1 2.0 .1-3.0 .1 3.6 .1-.9 .1 1.4 .1 1.1 .1-3.4 .1 .9 .1-1.6 .1 1.0 .1 .7 .1 0 .1 .9 .1-.3 .1 .6 .1-2.1 .1 1.0 .1-1.5 .1 1.1 .1-3.2 .1 3.3 .1 .2 .1-.6 .1 0 .1-1.6 .1 1.3 .1 .1 .1 1.0 .1 .3 .1-1.1 .1 .4 .1 .6 .1-1.5 .1 2.4 .1 1.2 .1-2.0 .1-1.1 .1 .9 .1 1.2 .1 .1 .1-3.3 .1 2.1 .1-1.3 .1 .4 .1 .9 .1 .3 .1-1.0 .1-.7 .1 .8 .1-1.0 .1 3.4 .1-4.1 .1 2.7 .1-.6 .1-.1 .1-1.3 .1 .7 .1 .1 .1-.2 .1 .4 .1 .4 .1-.7 .1 1.1 .1 .4 .1-1.6 .1 1.6 .1-.8 .1-.8 .1 1.3 .1 .8 .1-1.8 .1-1.9 .1 3.3 .1 .3 .1-2.7 .1 1.3 .1 .7 .1-3.5 .1 3.9 .1-.1 .1 .1 .1 .9 .1-3.2 .1 2.5 .1 1.7 .1-5.7 .1 2.4 .1 1.3 .1-1.8 .1-1.3 .1 2.6 .1-.1 .1-1.1 .1 1.2 .1 .8 .1 .1 .1-.7 .1-2.1 .1 1.2 .1-2.5 .1 1.5 .1 1.6 .1 .5 .1-.8 .1 .1 .1-2.5 .1 .9 .1 .1 .1 .7 .1 0 .1 3.5 .1-1.4 .1-2.6 .1 .5 .1 .1 .1 0 .1 .1 .1-1.9 .1 4.0 .1-.6 .1-.1 .1-.6 .1 .4 .1-1.0 .1-2.0 .1 2.6 .1-.1 .1-1.7 .1-1.2 .1 4.3 .1-2.7 .1 1.0 .1-.6 .1 3.0 .1-4.0 .1 3.2 .1-4.5 .1 4.3 .1-1.8 .1-2.2 .1 2.9 .1-.1 .1-1.9 .1 2.4 .1-.5 .1 .7 .1-2.4 .1 .8 .1-.2 .1 1.4 .1-.9 .1-.6 .1 3.0 .1-2.4 .1 2.1 .1-.3 .1-2.0 .1-1.4 .1 2.6 .1 .6 .1 .6 .1-1.0 .1 .1 .1-1.3 .1-.2 .1 5.0 .1-2.6 .1-3.1 .1 2.0 .1 .2 .1-2.8 .1 1.9 .1 1.1 .1 1.4 .1-.1 .1-2.5 .1 .1 .1-.2 .1 .9 .1 .8 .1-2.4 .1 1.1 .1-.5 .1-.2 .1 .3 .1 2.9 .1-.1 .1-.3 .1-3.9 .1 2.4 .1 2.7 .1-2.5 .1-1.4 .1 1.6 .1-1.1 .1-.1 .1 .8 .1 .3 .1-.8 .1 .2 .1-1.3 .1 1.2 .1 1.0 .1-.8 .1-.3 .1-1.6 .1 3.2 .1-2.9 .1 2.4 .1-1.3 .1 1.4 .1 .3 .1-1.7 .1-3.4 .1 1.3 .1 1.3 .1 .1 .1 1.5 .1 2.1 .1-1.6 .1-1.0 .1 1.9 .1-2.0 .1 1.4 .1-.7 .1-2.9 .1 3.7 .1 1.0 .1-2.6 .1 1.4 .1-.4 .1-.9 .1-.2 .1 1.8 .1-2.1 .1 .1 .1 1.8 .1 .1 .1 .8 .1-2.7 .1-1.0 .1 3.1 .1-3.3 .1 1.4 .1 .3 .1 2.4 .1-2.1 .1-1.6 .1 1.5 .1 1.7 .1-3.9 .1 .6 .1 3.0 .1-1.2 .1-1.4 .1 1.0 .1 .4 .1-1.6 .1 .8 .1 2.5 .1-1.4 .1 1.0 .1-1.4 .1-.7 .1 1.1 .1-1.5 .1 1.6 .1-.9 .1 .1 .1 0 .1-.9 .1 3.0 .1-3.7 .1 2.2 .1-1.8 .1 2.7 .1-1.4 .1 .5 .1 .3 .1-.1 .1-.2 .1 .2 .1 0 .1-1.0 .1 .2 .1 .1 .1-.6 .1 .2 .1 2.3 .1-3.4 .1 3.9 .1-2.8 .1 1.5 .1-.8 .1-.2 .1 .9 .1 1.4 .1-2.2 .1 .1 .1-.7 .1 3.3 .1-1.1 .1-.1 .1-1.3 .1-2.4 .1 2.9 .1-2.8 .1 1.5 .1 2.0 .1-2.0 .1-.1 .1-1.8 .1 3.6 .1-.4 .1-1.1 .1 1.0 .1-2.4 .1 .8 .1 1.4 .1 .9 .1-1.2 .1-1.5 .1 1.0 .1 2.0 .1-2.2 .1 1.1 .1 .2 .1-1.2 .1 .7 .1-2.2 .1 1.5 .1 .8 .1 .7 .1 .8 .1-2.2 .1 1.2 .1-.7 .1-.9 .1 .1 .1 .9 .1 0 .1-.9 .1 4.4 .1-3.5 .1 .9 .1-1.2 .1 3.8 .1-6.2 .1 2.3 .1 .7 .1 1.3 .1-1.6 .1-1.2 .1 3.2 .1-1.1 .1-1.1 .1 0 .1 0 .1 .5 .1-2.3 .1 2.3 .1-1.0 .1 1.4 .1-.2 .1-1.7 .1 3.0 .1-.8 .1-2.0 .1-.2 .1 .5 .1 1.2 .1 1.2 .1-2.7 .1 .2 .1 1.6 .1-.7 .1 0 .1-.1 .1-.3 .1 2.6 .1-.9 .1-1.7 .1 2.0 .1 .8 .1-1.8 .1-.2 .1-1.0 .1 .8 .1 .1 .1 1.4 .1-2.8 .1-.9 .1 1.4 .1 1.1 .1-2.9 .1 2.2 .1-.7 .1-.4 .1 1.6 .1 1.2 .1-3.1 .1 2.0 .1-.5 .1 1.0 .1-.8 .1-.8 .1 1.9 .1-.6 .1-1.8 .1-1.2 .1 1.6 .1 1.2 .1 .7 .1-1.7 .1 .2 .1-1.7 .1 1.7 .1 .7 .1-.9 .1 .6 .1-1.1 .1 .1 .1 1.5 .1-2.3 .1 2.0 .1 1.4 .1-2.2 .1 .1 .1-.4 .1-.6 .1 .9 .1-.8 .1 1.3 .1-.4 .1-.8 .1 1.5 .1 1.2 .1-.3 .1-1.3 .1 .3 .1-1.2 .1 .9 .1 1.2 .1 .1 .1 .7 .1-3.5 .1 3.8 .1-1.5 .1 1.5 .1-1.9 .1 1.5 .1-1.6 .1-1.2 .1 1.7 .1-1.1 .1 .6 .1 .7 .1 .3 .1-.1 .1 .4 .1-3.1 .1 3.3 .1-2.4 .1 1.1 .1-.6 .1-.9 .1 2.5 .1-2.4 .1 .6 .1 2.5 .1-4.6 .1 .7 .1 3.3 .1-1.7 .1 1.5 .1-1.0 .1-.6 .1 1.5 .1-1.7 .1 .1 .1 1.0 .1-1.6 .1-.4 .1-.3 .1 3.2 .1 1.2 .1-.9 .1-2.2 .1 .1 .1-.6 .1 1.3 .1 1.3 .1-1.4 .1 0 .1-3.9 .1 4.4 .1-1.9 .1 1.2 .1 .7 .1-.3 .1 .8 .1 1.0 .1-4.7 .1 .9 .1 4.0 .1-1.5 .1-1.5 .1 .6 .1 .3 .1 1.3 .1-1.7 .1 .4 .1-1.6 .1 3.5 .1-1.3 .1-1.1 .1-1.1 .1 1.6 .1 1.2 .1 1.7 .1-.4 .1-2.9 .1 0 .1-.7 .1 1.8 .1-1.5 .1 1.6 .1-.3 .1 .1 .1-1.7 .1 2.7 .1-1.7 .1-1.3 .1 1.5 .1 .3 .1-.2 .1 1.1 .1 .3 .1 1.4 .1-3.0 .1 1.7 .1-4.8 .1 5.6 .1-2.4 .1 1.7 .1-1.9 .1 .9 .1 .2 .1-1.6 .1 .1 .1-2.9 .1 4.3 .1-.9 .1-.1 .1 1.8 .1-1.1 .1-.1 .1-2.7 .1 2.6 .1-.6 .1 1.6 .1-1.8 .1-.9 .1 1.2 .1 2.6 .1-3.4 .1 2.7 .1-1.8 .1-2.3 .1 3.3 .1 2.2 .1-2.4 .1-1.9 .1 1.1 .1-.9 .1 4.7 .1-2.9 .1-3.6 .1 4.0 .1-.5 .1-1.8 .1 .5 .1 .7 .1 2.2 .1-2.8 .1-.3 .1 2.2 .1-2.0 .1-.5 .1 1.1 .1 1.2 .1-.8 .1-.7 .1 2.3 .1-.1 .1-3.7 .1 .5 .1 .3 .1 .9 .1 .5 .1-.3 .1 .2 .1 .5 .1-2.2 .1-1.1 .1 3.1 .1 1.2 .1-1.3 .1-.8 .1 1.2 .1-1.1 .1-1.2 .1 1.2 .1 1.4 .1-.6 .1 .5 .1-1.5 .1 1.3 .1 1.1 .1-2.2 .1-.2 .1 2.2 .1-1.4 .1-1.6 .1 .9 .1 2.2 .1-1.2 .1 1.9 .1-1.5 .1-.5 .1 1.0 .1-2.1 .1 2.1 .1-1.4 .1-.2 .1 .8 .1-1.1 .1-.8 .1 .3 .1 1.8 .1-.3 .1-.3 .1 .8 .1-2.0 .1 .6 .1 2.6 .1-3.3 .1 2.8 .1-1.9 .1 1.0 .1-.4 .1-.6 .1 .5 .1 1.0 .1-2.0 .1-.3 .1 2.2 .1-1.5 .1 .2 .1 0 .1-.3 .1-1.7 .1 2.1 .1-.4 .1-1.1 .1 1.0 .1 1.0 .1 1.8 .1-2.8 .1 2.3 .1-2.2 .1 1.2 .1-.9 .1 1.2 .1-.7 .1-.7 .1-1.4 .1 3.1 .1-3.1 .1 1.1 .1 3.0 .1-1.9 .1-.2 .1 .1 .1 .1 .1-.7 .1 .8"/>
</g>
<g stroke="#000" fill="none">
<rect x="64.40" y="9.60" width="464.30" height="321.40" stroke-width="1.6"/>
<path stroke-width="1.5" d="M64.40 322.00h-7.20M64.40 304.15h-3.80M64.40 286.30h-3.80M64.40 268.44h-3.80M64.40 250.59h-3.80M64.40 232.74h-7.20M64.40 214.89h-3.80M64.40 197.04h-3.80M64.40 179.18h-3.80M64.40 161.33h-3.80M64.40 143.48h-7.20M64.40 125.63h-3.80M64.40 107.78h-3.80M64.40 89.92h-3.80M64.40 72.07h-3.80M64.40 54.22h-7.20M64.40 36.37h-3.80M64.40 18.52h-3.80M74.56 331.00v3.60M95.21 331.00v3.60M115.85 331.00v6.70M136.49 331.00v3.60M157.14 331.00v3.60M177.78 331.00v3.60M198.43 331.00v3.60M219.07 331.00v6.70M239.71 331.00v3.60M260.36 331.00v3.60M281.00 331.00v3.60M301.65 331.00v3.60M322.29 331.00v6.70M342.93 331.00v3.60M363.58 331.00v3.60M384.22 331.00v3.60M404.87 331.00v3.60M425.51 331.00v6.70M446.15 331.00v3.60M466.80 331.00v3.60M487.44 331.00v3.60M508.09 331.00v3.60M528.73 331.00v6.70"/>
</g>
<text transform="translate(51.60 327.30) scale(1.145 1)" font-size="17.80" text-anchor="end">0</text>
<text transform="translate(51.60 238.04) scale(1.145 1)" font-size="17.80" text-anchor="end">2</text>
<text transform="translate(51.60 148.78) scale(1.145 1)" font-size="17.80" text-anchor="end">4</text>
<text transform="translate(51.60 59.52) scale(1.145 1)" font-size="17.80" text-anchor="end">6</text>
<text transform="translate(115.55 356.10) scale(1.190 1)" font-size="18.00" text-anchor="middle">0</text>
<text transform="translate(218.77 356.10) scale(1.190 1)" font-size="18.00" text-anchor="middle">200</text>
<text transform="translate(321.99 356.10) scale(1.190 1)" font-size="18.00" text-anchor="middle">400</text>
<text transform="translate(425.21 356.10) scale(1.190 1)" font-size="18.00" text-anchor="middle">600</text>
<text transform="translate(528.43 356.10) scale(1.190 1)" font-size="18.00" text-anchor="middle">800</text>
<text transform="translate(304.90 380.80) scale(1.170 1)" font-size="21.00" text-anchor="middle">relative time (ns)</text>
<text transform="translate(25.4 170.3) rotate(-90) scale(0.936 1)" font-size="23.5" text-anchor="middle">Yield (V)</text>
<path d="M300.5 24.10H352.6" stroke="#515151" stroke-width="1.1" fill="none"/>
<text transform="translate(358.80 30.80) scale(1.149 1)" font-size="20.00" text-anchor="start">Mylar 23 micron</text>
<path d="M300.5 48.45H352.6" stroke="#F14040" stroke-width="1.1" fill="none"/>
<text transform="translate(358.80 55.15) scale(1.149 1)" font-size="20.00" text-anchor="start">Al 13 micron</text>
<path d="M300.5 72.80H352.6" stroke="#1A6FDF" stroke-width="1.1" fill="none"/>
<text transform="translate(358.80 79.50) scale(1.149 1)" font-size="20.00" text-anchor="start">Pd 12.5 micron</text>
<path d="M300.5 97.15H352.6" stroke="#37AD6B" stroke-width="1.1" fill="none"/>
<text transform="translate(358.80 103.85) scale(1.149 1)" font-size="20.00" text-anchor="start">Au 5 micron</text>
<path d="M300.5 121.50H352.6" stroke="#B177DE" stroke-width="1.1" fill="none"/>
<text transform="translate(358.80 128.20) scale(1.149 1)" font-size="20.00" text-anchor="start">Ni 7.5 micron</text>
</svg>
</body></html>
